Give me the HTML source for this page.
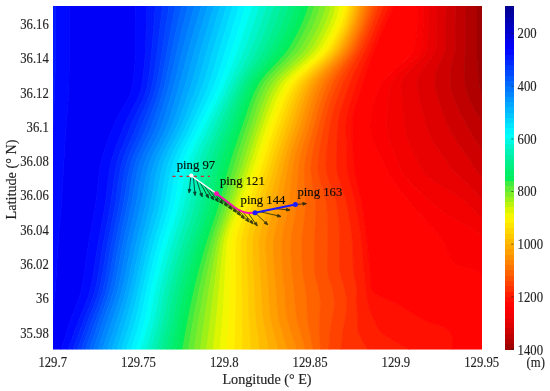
<!DOCTYPE html>
<html><head><meta charset="utf-8"><title>Bathymetry track</title>
<style>
html,body{margin:0;padding:0;background:#fff;}
body{width:550px;height:391px;overflow:hidden;}
svg{display:block;}
text{font-family:"Liberation Serif","Times New Roman",serif;font-size:13.6px;fill:#222;stroke:#222;stroke-width:0.12px;}
</style></head><body>
<svg width="550" height="391" viewBox="0 0 550 391">
<rect width="550" height="391" fill="#fff"/>
<defs><clipPath id="pc"><rect x="53.0" y="6.0" width="429.0" height="343.4"/></clipPath></defs>
<g clip-path="url(#pc)" stroke-width="0.8" stroke-linejoin="round">
<path fill="#0000f9" stroke="#0000f9" d="M135.1,6L135.1,8L135.2,10L135.2,12L135.3,14L135.3,16L135.4,18L135.4,24L135.5,26L135.5,51.9L134.9,63.9L134.8,64.6L134.7,65.9L134.5,67.9L134.4,69.9L134,73.9L133.7,75.9L133.3,79.9L133,81.9L132.8,83.8L132.8,83.9L132.2,87.9L131.7,89.9L131.1,91.8L130.8,92.8L129.6,95.8L128.8,97.6L127.7,99.8L126.8,101.5L126.6,101.8L125.5,103.8L124.8,105.1L124.4,105.8L123.2,107.8L122.8,108.5L122,109.8L120.8,111.8L119.7,113.8L118.8,115.2L118.5,115.8L117.4,117.8L116.9,118.8L116.3,119.8L115.3,121.8L114.9,122.8L114.4,123.8L113.6,125.8L112.9,127.7L112.8,127.8L112,129.8L111.3,131.8L109.7,135.8L109,137.8L108.9,138L108.2,139.8L107.5,141.8L106.9,143.4L106.7,143.8L106,145.8L105.4,147.8L104.9,149.2L104.7,149.7L104.1,151.7L103.4,153.7L102.9,155.7L102.3,157.7L101.3,161.7L100.1,167.7L98.9,175.7L98.9,176L98.7,177.7L98.4,179.7L98,183.7L97.7,185.7L97.1,191.7L96.9,193.6L96.9,193.7L96.7,195.7L96.4,197.7L96.2,199.7L95.9,201.7L95.7,203.7L95.4,205.7L95.1,207.6L94.9,208.9L94.8,209.6L94.4,211.6L93.8,215.6L93.4,217.6L93.1,219.6L92.9,220.5L92.7,221.6L91.9,225.6L91.6,227.6L91.2,229.6L90.9,231.2L90.8,231.6L90.5,233.6L89.7,237.6L89.4,239.6L88.9,242.1L88.7,243.6L88.3,245.6L87.1,253.6L86.9,254.8L86.8,255.6L86.2,259.6L86,261.6L85.7,263.5L85.4,265.5L85.2,267.5L84.9,269.4L84.9,269.5L83.4,279.5L83,281.5L82.9,282.2L82.7,283.5L81.5,289.5L81,291.5L80.9,291.8L80.5,293.5L79.9,295.5L79.2,297.5L78.9,298.4L78.5,299.5L77.1,303.5L76.9,303.8L76.3,305.5L75.5,307.5L74.9,308.9L74.7,309.5L73.1,313.5L73,313.9L72.3,315.5L71.6,317.5L71,319.4L70.9,319.5L70.2,321.4L69.6,323.4L69,325.3L68.9,325.4L68.2,327.4L67.6,329.4L67,331.3L66.9,331.4L66.2,333.4L65,337.4L65,337.5L64.3,339.4L63.1,343.4L63,343.8L62.4,345.4L61.2,349.4L53,349.4L53,317.5L53.2,313.5L53.4,311.5L53.5,309.5L54.9,295.5L55,293.8L55,293.5L55.4,289.5L55.6,285.5L55.8,283.5L56.3,273.5L56.5,271.5L56.9,263.5L57,261.6L57,261.1L57.1,259.6L57.4,253.6L57.6,251.6L57.9,245.6L58.1,243.6L58.3,239.6L58.7,235.6L58.8,233.6L59,231.8L59,231.6L59.8,223.6L59.9,221.6L60.5,215.6L60.6,213.6L60.8,211.6L60.9,209.6L61.1,207.6L61.2,205.7L61.4,203.7L61.6,199.7L61.8,197.7L62,193.7L62.2,191.7L62.9,177.7L63,177.1L63.1,175.7L63.6,165.7L63.8,163.7L64.2,155.7L64.4,153.7L64.6,149.7L64.7,147.8L64.8,145.8L65,143.8L65.1,141.8L65.3,139.8L65.5,135.8L65.7,133.8L66,127.8L66.2,125.8L66.4,121.8L66.6,119.8L66.7,117.8L66.9,115.8L67,115.1L67.1,113.8L67.5,109.8L67.6,107.8L68,103.8L68.1,101.8L68.3,99.8L68.7,91.8L68.8,89.9L68.9,87.9L68.9,83.9L69,81.9L69,75.9L69.1,73.9L69.1,67.9L69.2,65.9L69.2,57.9L69.3,55.9L69.3,18L69.2,16L69.2,6Z"/>
<path fill="#0009ff" stroke="#0009ff" d="M69.2,6L69.2,16L69.3,18L69.3,55.9L69.2,57.9L69.2,65.9L69.1,67.9L69.1,73.9L69,75.9L69,81.9L68.9,83.9L68.9,87.9L68.8,89.9L68.7,91.8L68.3,99.8L68.1,101.8L68,103.8L67.6,107.8L67.5,109.8L67.1,113.8L67,115.1L66.9,115.8L66.7,117.8L66.6,119.8L66.4,121.8L66.2,125.8L66,127.8L65.7,133.8L65.5,135.8L65.3,139.8L65.1,141.8L65,143.8L64.8,145.8L64.7,147.8L64.6,149.7L64.4,153.7L64.2,155.7L63.8,163.7L63.6,165.7L63.1,175.7L63,177.1L62.9,177.7L62.2,191.7L62,193.7L61.8,197.7L61.6,199.7L61.4,203.7L61.2,205.7L61.1,207.6L60.9,209.6L60.8,211.6L60.6,213.6L60.5,215.6L59.9,221.6L59.8,223.6L59,231.6L59,231.8L58.8,233.6L58.7,235.6L58.3,239.6L58.1,243.6L57.9,245.6L57.6,251.6L57.4,253.6L57.1,259.6L57,261.1L57,261.6L56.9,263.5L56.5,271.5L56.3,273.5L55.8,283.5L55.6,285.5L55.4,289.5L55,293.5L55,293.8L54.9,295.5L53.5,309.5L53.4,311.5L53.2,313.5L53,317.5L53,321.4L53,125.8L53.7,111.8L53.7,109.8L54.3,97.8L54.3,95.8L54.5,91.8L54.5,89.9L54.7,85.9L54.7,83.9L54.9,79.9L54.9,77.9L55,76.2L55,75.9L55.1,73.9L55.1,71.9L55.3,67.9L55.3,65.9L55.4,63.9L55.4,61.9L55.5,59.9L55.5,57.9L55.6,55.9L55.6,51.9L55.7,49.9L55.7,6ZM147,6L146.9,8L146.9,12L146.8,14L146.8,16L146.7,18L146.7,20L146.5,24L146.5,26L146.2,32L146.2,34L146.1,35.9L145.9,39.9L145.9,41.9L145.3,53.9L145.1,55.9L145,57.9L144.8,59.9L144.8,60.7L144.7,61.9L144.1,67.9L143.8,69.9L143.2,75.9L142.9,77.9L142.8,78.8L142.6,79.9L142.4,81.9L141.8,85.9L141,89.9L140.8,90.5L140.4,91.8L139.7,93.8L138.9,95.8L138.8,96.2L138.1,97.8L137.2,99.8L134.8,104.6L134.1,105.8L133.1,107.8L132.8,108.3L132,109.8L130.9,111.8L130.8,112L129.8,113.8L128.8,115.7L128.8,115.8L127.7,117.8L126.8,119.7L126.8,119.8L125.8,121.8L124.9,123.8L124.8,124L124.1,125.8L123.4,127.8L122.8,129.2L122.6,129.8L121,133.8L120.8,134.2L120.2,135.8L118.8,139.3L118.7,139.8L117.1,143.8L116.9,144.5L116.4,145.8L115.6,147.8L114.9,149.7L114.9,150L114.2,151.7L113,155.7L112.9,156.1L112.4,157.7L111.8,159.7L111.3,161.7L110.9,163.6L110.8,163.7L110,167.7L109.7,169.7L109.3,171.7L109,173.7L108.9,175L108.8,175.7L108.2,179.7L108,181.7L107.7,183.7L107.3,187.7L107,189.7L106.9,191.3L106.8,191.7L106.6,193.7L106.3,195.7L106.1,197.7L105.8,199.7L105.6,201.7L105,205.7L104.9,206.6L104.7,207.6L104.4,209.6L104,211.6L103.4,215.6L103,217.6L102.9,218.4L102.6,219.6L102.3,221.6L101.5,225.6L101.2,227.6L99.6,235.6L99.3,237.6L98.9,239.6L98.9,239.7L98.5,241.6L98.2,243.6L97.8,245.6L97.5,247.6L97.1,249.6L96.9,251.2L96.8,251.6L95.3,261.6L95,263.5L94.9,264.6L94.8,265.5L94.4,267.5L93.2,275.5L92.9,277.3L92.9,277.5L90.9,287.5L89.4,293.5L88.9,295L88.8,295.5L88,297.5L87.3,299.5L86.9,300.6L86.6,301.5L85,305.5L84.9,305.6L84.1,307.5L83.3,309.5L82.9,310.3L82.4,311.5L81.6,313.5L80.9,315.1L80.8,315.5L79.9,317.5L79.2,319.5L78.9,320.1L78.4,321.4L77,325.4L76.9,325.5L76.2,327.4L75.4,329.4L74.9,330.8L74.7,331.4L73.9,333.4L73.2,335.4L73,336.1L72.4,337.4L71,341.4L69.4,345.4L69,346.6L68.6,347.4L67.8,349.4L61.2,349.4L62.4,345.4L63,343.8L63.1,343.4L64.3,339.4L65,337.5L65,337.4L66.2,333.4L66.9,331.4L67,331.3L67.6,329.4L68.2,327.4L68.9,325.4L69,325.3L69.6,323.4L70.2,321.4L70.9,319.5L71,319.4L71.6,317.5L72.3,315.5L73,313.9L73.1,313.5L74.7,309.5L74.9,308.9L75.5,307.5L76.3,305.5L76.9,303.8L77.1,303.5L78.5,299.5L78.9,298.4L79.2,297.5L79.9,295.5L80.5,293.5L80.9,291.8L81,291.5L81.5,289.5L82.7,283.5L82.9,282.2L83,281.5L83.4,279.5L84.9,269.5L84.9,269.4L85.2,267.5L85.4,265.5L85.7,263.5L86,261.6L86.2,259.6L86.8,255.6L86.9,254.8L87.1,253.6L88.3,245.6L88.7,243.6L88.9,242.1L89.4,239.6L89.7,237.6L90.5,233.6L90.8,231.6L90.9,231.2L91.2,229.6L91.6,227.6L91.9,225.6L92.7,221.6L92.9,220.5L93.1,219.6L93.4,217.6L93.8,215.6L94.4,211.6L94.8,209.6L94.9,208.9L95.1,207.6L95.4,205.7L95.7,203.7L95.9,201.7L96.2,199.7L96.4,197.7L96.7,195.7L96.9,193.7L96.9,193.6L97.1,191.7L97.7,185.7L98,183.7L98.4,179.7L98.7,177.7L98.9,176L98.9,175.7L100.1,167.7L101.3,161.7L102.3,157.7L102.9,155.7L103.4,153.7L104.1,151.7L104.7,149.7L104.9,149.2L105.4,147.8L106,145.8L106.7,143.8L106.9,143.4L107.5,141.8L108.2,139.8L108.9,138L109,137.8L109.7,135.8L111.3,131.8L112,129.8L112.8,127.8L112.9,127.7L113.6,125.8L114.4,123.8L114.9,122.8L115.3,121.8L116.3,119.8L116.9,118.8L117.4,117.8L118.5,115.8L118.8,115.2L119.7,113.8L120.8,111.8L122,109.8L122.8,108.5L123.2,107.8L124.4,105.8L124.8,105.1L125.5,103.8L126.6,101.8L126.8,101.5L127.7,99.8L128.8,97.6L129.6,95.8L130.8,92.8L131.1,91.8L131.7,89.9L132.2,87.9L132.8,83.9L132.8,83.8L133,81.9L133.3,79.9L133.7,75.9L134,73.9L134.4,69.9L134.5,67.9L134.7,65.9L134.8,64.6L134.9,63.9L135.5,51.9L135.5,26L135.4,24L135.4,18L135.3,16L135.3,14L135.2,12L135.2,10L135.1,8L135.1,6Z"/>
<path fill="#0019ff" stroke="#0019ff" d="M55.7,6L55.7,49.9L55.6,51.9L55.6,55.9L55.5,57.9L55.5,59.9L55.4,61.9L55.4,63.9L55.3,65.9L55.3,67.9L55.1,71.9L55.1,73.9L55,75.9L55,76.2L54.9,77.9L54.9,79.9L54.7,83.9L54.7,85.9L54.5,89.9L54.5,91.8L54.3,95.8L54.3,97.8L53.7,109.8L53.7,111.8L53,125.8L53,126L53,6ZM155.3,6L155.1,10L154.9,12L154.8,14L154.8,14.4L154.6,16L154.5,18L154.3,20L154.2,22L154,24L153.9,26L153.7,28L153.6,30L153.2,34L153.1,35.9L152.9,37.9L152.8,39.9L152.4,43.9L152.3,45.9L151.9,49.9L151.8,51.9L151.2,57.9L150.9,59.9L150.8,61.4L150.7,61.9L150.5,63.9L150.2,65.9L150,67.9L149.4,71.9L149.2,73.9L148.9,75.9L148.8,76.6L148.6,77.9L148,81.9L147.6,83.9L147.3,85.9L146.9,87.9L146.8,88.5L146.4,89.9L145.9,91.8L145.2,93.8L144.8,95.1L144.5,95.8L142.9,99.8L142.8,100.1L142,101.8L141.1,103.8L140.8,104.5L140.1,105.8L139.2,107.8L137.2,111.8L136.8,112.7L136.2,113.8L135.3,115.8L134.3,117.8L133.4,119.8L132.8,121.1L132.5,121.8L130.9,125.8L130.8,126.1L130.2,127.8L129.4,129.8L128.8,131.2L128.6,131.8L127,135.8L126.8,136.1L126.1,137.8L125.3,139.8L124.8,140.9L124.5,141.8L122.9,145.8L122.8,145.8L122.1,147.8L121.3,149.7L120.8,151L120.5,151.7L119.1,155.7L117.3,161.7L116.9,163.6L116.8,163.7L116.4,165.7L115.9,167.7L115.6,169.7L115.2,171.7L114.9,173.7L114.9,173.9L114.6,175.7L114.2,177.7L114,179.7L113.4,183.7L113.2,185.7L112.9,187.7L112.9,188.2L112.7,189.7L112.4,191.7L112.2,193.7L111.6,197.7L111.4,199.7L111.1,201.7L110.9,203.1L110.8,203.7L110.5,205.7L110.1,207.6L109.8,209.6L109.4,211.6L109.1,213.6L108.9,214.8L108.7,215.6L108.3,217.6L108,219.6L107.2,223.6L106.9,225.4L106.8,225.6L105.6,231.6L105.3,233.6L103.3,243.6L103,245.6L102.9,246.2L102.6,247.6L102.3,249.6L101.9,251.6L101,257.6L100.9,258.3L100.7,259.6L100.4,261.6L100.1,263.5L99.2,269.5L98.9,271.2L98.8,271.5L98.2,275.5L97.4,279.5L97.1,281.5L96.9,282.3L96.7,283.5L96.2,285.5L95.8,287.5L95.3,289.5L94.9,291.2L94.8,291.5L93,297.5L92.9,297.6L92.2,299.5L91.5,301.5L90.9,302.9L90.7,303.5L89.1,307.5L88.9,307.9L88.2,309.5L87.4,311.5L86.9,312.6L86.6,313.5L85,317.5L84.9,317.6L83.5,321.4L82.7,323.4L82,325.4L81.2,327.4L80.9,328.3L80.5,329.4L79.7,331.4L79,333.4L78.9,333.6L78.3,335.4L76.9,338.9L76.8,339.4L75.2,343.4L74.9,344.1L74.4,345.4L73.7,347.4L73,349.2L72.9,349.4L67.8,349.4L68.6,347.4L69,346.6L69.4,345.4L71,341.4L72.4,337.4L73,336.1L73.2,335.4L73.9,333.4L74.7,331.4L74.9,330.8L75.4,329.4L76.2,327.4L76.9,325.5L77,325.4L78.4,321.4L78.9,320.1L79.2,319.5L79.9,317.5L80.8,315.5L80.9,315.1L81.6,313.5L82.4,311.5L82.9,310.3L83.3,309.5L84.1,307.5L84.9,305.6L85,305.5L86.6,301.5L86.9,300.6L87.3,299.5L88,297.5L88.8,295.5L88.9,295L89.4,293.5L90.9,287.5L92.9,277.5L92.9,277.3L93.2,275.5L94.4,267.5L94.8,265.5L94.9,264.6L95,263.5L95.3,261.6L96.8,251.6L96.9,251.2L97.1,249.6L97.5,247.6L97.8,245.6L98.2,243.6L98.5,241.6L98.9,239.7L98.9,239.6L99.3,237.6L99.6,235.6L101.2,227.6L101.5,225.6L102.3,221.6L102.6,219.6L102.9,218.4L103,217.6L103.4,215.6L104,211.6L104.4,209.6L104.7,207.6L104.9,206.6L105,205.7L105.6,201.7L105.8,199.7L106.1,197.7L106.3,195.7L106.6,193.7L106.8,191.7L106.9,191.3L107,189.7L107.3,187.7L107.7,183.7L108,181.7L108.2,179.7L108.8,175.7L108.9,175L109,173.7L109.3,171.7L109.7,169.7L110,167.7L110.8,163.7L110.9,163.6L111.3,161.7L111.8,159.7L112.4,157.7L112.9,156.1L113,155.7L114.2,151.7L114.9,150L114.9,149.7L115.6,147.8L116.4,145.8L116.9,144.5L117.1,143.8L118.7,139.8L118.8,139.3L120.2,135.8L120.8,134.2L121,133.8L122.6,129.8L122.8,129.2L123.4,127.8L124.1,125.8L124.8,124L124.9,123.8L125.8,121.8L126.8,119.8L126.8,119.7L127.7,117.8L128.8,115.8L128.8,115.7L129.8,113.8L130.8,112L130.9,111.8L132,109.8L132.8,108.3L133.1,107.8L134.1,105.8L134.8,104.6L137.2,99.8L138.1,97.8L138.8,96.2L138.9,95.8L139.7,93.8L140.4,91.8L140.8,90.5L141,89.9L141.8,85.9L142.4,81.9L142.6,79.9L142.8,78.8L142.9,77.9L143.2,75.9L143.8,69.9L144.1,67.9L144.7,61.9L144.8,60.7L144.8,59.9L145,57.9L145.1,55.9L145.3,53.9L145.9,41.9L145.9,39.9L146.1,35.9L146.2,34L146.2,32L146.5,26L146.5,24L146.7,20L146.7,18L146.8,16L146.8,14L146.9,12L146.9,8L147,6Z"/>
<path fill="#0029ff" stroke="#0029ff" d="M162.5,6L162.1,10L161.8,12L161.4,16L161.1,18L160.9,20L160.7,21.4L160.7,22L160.4,24L160,28L159.7,30L159.3,34L159,35.9L158.8,37.9L158.8,38.3L158.6,39.9L158.3,41.9L158.1,43.9L157.8,45.9L157.4,49.9L157.1,51.9L156.9,53.9L156.8,55L156.6,55.9L156.4,57.9L155.5,63.9L155.3,65.9L155,67.9L154.8,69.3L154.7,69.9L154.4,71.9L154,73.9L153.4,77.9L153,79.9L152.8,81.4L151.1,89.9L150.8,90.9L150.5,91.8L149.9,93.8L149.2,95.8L148.8,97L148.5,97.8L146.9,101.8L146.8,102.1L146,103.8L144.8,106.8L144.3,107.8L143.4,109.8L142.8,111.2L142.5,111.8L141.6,113.8L140.8,115.7L140.7,115.8L139.9,117.8L139,119.8L136.6,125.8L135.9,127.8L135.1,129.8L134.8,130.5L134.3,131.8L133.5,133.8L132.8,135.3L131.8,137.8L130.9,139.8L130.8,140L130,141.8L129.2,143.8L128.8,144.6L128.3,145.8L127.5,147.8L126.8,149.3L126.6,149.7L125.8,151.7L125.1,153.7L124.8,154.4L124.3,155.7L123.6,157.7L123,159.7L122.8,160.2L122.4,161.7L121.8,163.7L121.3,165.7L120.9,167.7L120.8,168.1L120.5,169.7L119.7,173.7L119.1,177.7L118.8,179.3L118.8,179.7L117.6,187.7L117.4,189.7L117.1,191.7L116.9,193.5L116.8,193.7L116.5,195.7L116.3,197.7L115.7,201.7L115.3,203.7L115,205.7L114.9,206.6L113.9,211.6L113.6,213.6L113.2,215.6L112.9,217.3L112.8,217.6L111.2,225.6L110.9,227.4L110.8,227.6L109.2,235.6L108.9,237.4L108.8,237.6L108,241.6L107.7,243.6L106.9,247.6L106.9,247.8L106.6,249.6L106.2,251.6L105.9,253.6L105.5,255.6L104.9,259.6L104.9,259.7L104.3,263.5L103.9,265.5L103,271.5L102.9,272.1L102.6,273.5L102.3,275.5L101.5,279.5L101.2,281.5L100.9,282.8L100.7,283.5L99.9,287.5L98.9,291.5L97.7,295.5L97,297.5L96.9,297.8L96.3,299.5L95.6,301.5L94.9,303.2L94.8,303.5L93.2,307.5L92.9,308.2L92.4,309.5L91.6,311.5L90.9,313.1L90.8,313.5L89.2,317.5L88.9,318.2L88.4,319.5L87.7,321.4L87,323.4L86.9,323.6L86.2,325.4L85.5,327.4L84.9,329L84.8,329.4L84,331.4L83.3,333.4L82.9,334.4L82.6,335.4L81.8,337.4L81.1,339.4L80.9,339.8L80.3,341.4L79.6,343.4L78.9,345.1L78.8,345.4L78,347.4L77.3,349.4L72.9,349.4L73,349.2L73.7,347.4L74.4,345.4L74.9,344.1L75.2,343.4L76.8,339.4L76.9,338.9L78.3,335.4L78.9,333.6L79,333.4L79.7,331.4L80.5,329.4L80.9,328.3L81.2,327.4L82,325.4L82.7,323.4L83.5,321.4L84.9,317.6L85,317.5L86.6,313.5L86.9,312.6L87.4,311.5L88.2,309.5L88.9,307.9L89.1,307.5L90.7,303.5L90.9,302.9L91.5,301.5L92.2,299.5L92.9,297.6L93,297.5L94.8,291.5L94.9,291.2L95.3,289.5L95.8,287.5L96.2,285.5L96.7,283.5L96.9,282.3L97.1,281.5L97.4,279.5L98.2,275.5L98.8,271.5L98.9,271.2L99.2,269.5L100.1,263.5L100.4,261.6L100.7,259.6L100.9,258.3L101,257.6L101.9,251.6L102.3,249.6L102.6,247.6L102.9,246.2L103,245.6L103.3,243.6L105.3,233.6L105.6,231.6L106.8,225.6L106.9,225.4L107.2,223.6L108,219.6L108.3,217.6L108.7,215.6L108.9,214.8L109.1,213.6L109.4,211.6L109.8,209.6L110.1,207.6L110.5,205.7L110.8,203.7L110.9,203.1L111.1,201.7L111.4,199.7L111.6,197.7L112.2,193.7L112.4,191.7L112.7,189.7L112.9,188.2L112.9,187.7L113.2,185.7L113.4,183.7L114,179.7L114.2,177.7L114.6,175.7L114.9,173.9L114.9,173.7L115.2,171.7L115.6,169.7L115.9,167.7L116.4,165.7L116.8,163.7L116.9,163.6L117.3,161.7L119.1,155.7L120.5,151.7L120.8,151L121.3,149.7L122.1,147.8L122.8,145.8L122.9,145.8L124.5,141.8L124.8,140.9L125.3,139.8L126.1,137.8L126.8,136.1L127,135.8L128.6,131.8L128.8,131.2L129.4,129.8L130.2,127.8L130.8,126.1L130.9,125.8L132.5,121.8L132.8,121.1L133.4,119.8L134.3,117.8L135.3,115.8L136.2,113.8L136.8,112.7L137.2,111.8L139.2,107.8L140.1,105.8L140.8,104.5L141.1,103.8L142,101.8L142.8,100.1L142.9,99.8L144.5,95.8L144.8,95.1L145.2,93.8L145.9,91.8L146.4,89.9L146.8,88.5L146.9,87.9L147.3,85.9L147.6,83.9L148,81.9L148.6,77.9L148.8,76.6L148.9,75.9L149.2,73.9L149.4,71.9L150,67.9L150.2,65.9L150.5,63.9L150.7,61.9L150.8,61.4L150.9,59.9L151.2,57.9L151.8,51.9L151.9,49.9L152.3,45.9L152.4,43.9L152.8,39.9L152.9,37.9L153.1,35.9L153.2,34L153.6,30L153.7,28L153.9,26L154,24L154.2,22L154.3,20L154.5,18L154.6,16L154.8,14.4L154.8,14L154.9,12L155.1,10L155.3,6Z"/>
<path fill="#0039ff" stroke="#0039ff" d="M169.1,6L168.8,8L168.7,8.6L168.5,10L167,20L166.7,21.5L166.7,22L166.3,24L164.8,34L164.7,34.4L164.5,35.9L163,45.9L162.7,47.6L162.7,47.9L160.9,59.9L160.7,60.6L160.5,61.9L159.6,67.9L159.2,69.9L158.9,71.9L158.8,72.6L158.5,73.9L158.2,75.9L157,81.9L156.8,83.2L156.6,83.9L155.8,87.9L155.3,89.9L154.8,91.8L154.2,93.8L152.8,97.8L152.8,98L152.1,99.8L151.4,101.8L150.8,103.4L150.6,103.8L149,107.8L148.8,108.4L148.2,109.8L146.6,113.8L145.7,115.8L144.9,117.8L144.8,118.2L144.1,119.8L143.4,121.8L141.8,125.8L141.1,127.8L140.8,128.6L140.3,129.8L139.5,131.8L138.8,133.5L138.7,133.8L136.9,137.8L136.8,138L136,139.8L135.1,141.8L134.8,142.4L134.2,143.8L133.3,145.8L132.8,146.8L132.4,147.8L131.5,149.7L130.8,151.4L130.7,151.7L129.1,155.7L128.8,156.4L128.3,157.7L127.6,159.7L127,161.7L126.8,162.3L126.4,163.7L125.4,167.7L125,169.7L124.8,170.6L124.6,171.7L123.8,175.7L122.9,181.7L122.8,181.8L122.5,183.7L122.2,185.7L122,187.7L121.1,193.7L120.8,195.3L120.8,195.7L119.9,201.7L119.5,203.7L119.2,205.7L118.8,207.4L118.8,207.6L118,211.6L117.7,213.6L116.9,217.6L116.9,217.7L116.5,219.6L115.7,223.6L115.2,225.6L114.9,227.5L114.8,227.6L113.2,235.6L112.9,237.3L112.8,237.6L111.2,245.6L110.9,247.4L110.8,247.6L110.5,249.6L110.1,251.6L109.8,253.6L109.4,255.6L109.1,257.6L108.9,258.9L108.8,259.6L108.4,261.6L108.1,263.5L107.8,265.5L107.4,267.5L107.1,269.5L106.9,270.9L106.8,271.5L106.4,273.5L106.1,275.5L104.9,281.5L104.9,281.6L104.5,283.5L104,285.5L103.6,287.5L103.1,289.5L102.9,290.4L102.6,291.5L101.4,295.5L100.9,297L100.7,297.5L99.3,301.5L98.9,302.6L98.6,303.5L97,307.5L96.9,307.7L96.2,309.5L95.4,311.5L94.9,312.7L94.6,313.5L93.8,315.5L93.1,317.5L92.9,317.9L92.3,319.5L90.9,323.3L90.9,323.4L90.1,325.4L89.4,327.4L88.9,328.9L88.7,329.4L87.3,333.4L86.5,335.4L85.1,339.4L84.9,339.8L84.3,341.4L83.6,343.4L82.9,345.2L82.9,345.4L82.1,347.4L81.4,349.4L77.3,349.4L78,347.4L78.8,345.4L78.9,345.1L79.6,343.4L80.3,341.4L80.9,339.8L81.1,339.4L81.8,337.4L82.6,335.4L82.9,334.4L83.3,333.4L84,331.4L84.8,329.4L84.9,329L85.5,327.4L86.2,325.4L86.9,323.6L87,323.4L87.7,321.4L88.4,319.5L88.9,318.2L89.2,317.5L90.8,313.5L90.9,313.1L91.6,311.5L92.4,309.5L92.9,308.2L93.2,307.5L94.8,303.5L94.9,303.2L95.6,301.5L96.3,299.5L96.9,297.8L97,297.5L97.7,295.5L98.9,291.5L99.9,287.5L100.7,283.5L100.9,282.8L101.2,281.5L101.5,279.5L102.3,275.5L102.6,273.5L102.9,272.1L103,271.5L103.9,265.5L104.3,263.5L104.9,259.7L104.9,259.6L105.5,255.6L105.9,253.6L106.2,251.6L106.6,249.6L106.9,247.8L106.9,247.6L107.7,243.6L108,241.6L108.8,237.6L108.9,237.4L109.2,235.6L110.8,227.6L110.9,227.4L111.2,225.6L112.8,217.6L112.9,217.3L113.2,215.6L113.6,213.6L113.9,211.6L114.9,206.6L115,205.7L115.3,203.7L115.7,201.7L116.3,197.7L116.5,195.7L116.8,193.7L116.9,193.5L117.1,191.7L117.4,189.7L117.6,187.7L118.8,179.7L118.8,179.3L119.1,177.7L119.7,173.7L120.5,169.7L120.8,168.1L120.9,167.7L121.3,165.7L121.8,163.7L122.4,161.7L122.8,160.2L123,159.7L123.6,157.7L124.3,155.7L124.8,154.4L125.1,153.7L125.8,151.7L126.6,149.7L126.8,149.3L127.5,147.8L128.3,145.8L128.8,144.6L129.2,143.8L130,141.8L130.8,140L130.9,139.8L131.8,137.8L132.8,135.3L133.5,133.8L134.3,131.8L134.8,130.5L135.1,129.8L135.9,127.8L136.6,125.8L139,119.8L139.9,117.8L140.7,115.8L140.8,115.7L141.6,113.8L142.5,111.8L142.8,111.2L143.4,109.8L144.3,107.8L144.8,106.8L146,103.8L146.8,102.1L146.9,101.8L148.5,97.8L148.8,97L149.2,95.8L149.9,93.8L150.5,91.8L150.8,90.9L151.1,89.9L152.8,81.4L153,79.9L153.4,77.9L154,73.9L154.4,71.9L154.7,69.9L154.8,69.3L155,67.9L155.3,65.9L155.5,63.9L156.4,57.9L156.6,55.9L156.8,55L156.9,53.9L157.1,51.9L157.4,49.9L157.8,45.9L158.1,43.9L158.3,41.9L158.6,39.9L158.8,38.3L158.8,37.9L159,35.9L159.3,34L159.7,30L160,28L160.4,24L160.7,22L160.7,21.4L160.9,20L161.1,18L161.4,16L161.8,12L162.1,10L162.5,6Z"/>
<path fill="#0048ff" stroke="#0048ff" d="M175.5,6L175.1,8L174.7,9.9L174.7,10L173.5,16L173.2,18L172.8,20L172.7,20.3L172.4,22L171.6,26L171.3,28L170.9,30L170.7,30.8L170.5,32L170.1,34L169.8,35.9L169,39.9L168.7,41.6L168.7,41.9L168.3,43.9L168,45.9L167.2,49.9L166.9,51.9L166.7,52.8L166.5,53.9L166.2,55.9L165.8,57.9L165.5,59.9L164.7,63.9L164.4,65.9L163.2,71.9L162.9,73.9L162.7,74.5L162.5,75.9L161.7,79.9L161.2,81.9L160.8,83.9L160.7,84.1L160.4,85.9L159.4,89.9L158.9,91.8L158.8,92.2L158.3,93.8L157.7,95.8L157,97.8L156.8,98.7L156.4,99.8L155,103.8L154.8,104.5L154.3,105.8L153.5,107.8L152.8,109.8L152.8,109.9L152,111.8L151.3,113.8L150.8,115.2L150.5,115.8L149.8,117.8L149,119.8L148.8,120.5L148.3,121.8L147.6,123.8L146.8,125.8L146.8,125.9L146.1,127.8L145.3,129.8L144.8,131L144.5,131.8L143.6,133.8L142.8,135.6L142.7,135.8L140.9,139.8L140.8,139.9L139.9,141.8L139,143.8L138.8,144.1L138,145.8L137.1,147.8L136.8,148.4L136.2,149.7L135.3,151.7L134.8,152.9L134.4,153.7L132.8,157.7L132.8,157.8L132.1,159.7L131.4,161.7L130.8,163.7L129.3,169.7L128.9,171.7L128.8,172.1L128.5,173.7L127.7,177.7L127.1,181.7L126.8,183.1L126.7,183.7L124.9,195.7L124.8,195.9L124.6,197.7L124.2,199.7L123.9,201.7L123.5,203.7L123.2,205.7L122.8,207.4L122.8,207.6L121.2,215.6L120.8,217.4L120.8,217.6L120,221.6L119.5,223.6L119.1,225.6L118.8,226.9L118.7,227.6L117.9,231.6L117.4,233.6L117,235.6L116.9,236.4L116.6,237.6L115,245.6L114.9,246.2L114.6,247.6L113.8,251.6L113.5,253.6L113.1,255.6L112.9,257.2L112.8,257.6L112.5,259.6L112.1,261.6L111.8,263.5L111.4,265.5L111.1,267.5L110.9,268.9L110.8,269.5L110,273.5L109.7,275.5L108.9,279.5L108.9,279.7L108.5,281.5L108.1,283.5L107.6,285.5L107.2,287.5L106.2,291.5L105,295.5L104.9,295.8L104.3,297.5L102.9,301.5L102.9,301.6L102.2,303.5L101.4,305.5L100.9,306.8L100.6,307.5L99.9,309.5L99.1,311.5L98.9,311.9L98.3,313.5L97.5,315.5L96.9,317.2L96.8,317.5L96.1,319.5L95.3,321.4L94.9,322.7L94.6,323.4L93.2,327.4L92.9,328.3L92.5,329.4L91.1,333.4L90.9,333.9L90.4,335.4L89.7,337.4L88.9,339.4L88.9,339.5L88.2,341.4L87.5,343.4L86.9,345L86.8,345.4L86.1,347.4L85.3,349.4L81.4,349.4L82.1,347.4L82.9,345.4L82.9,345.2L83.6,343.4L84.3,341.4L84.9,339.8L85.1,339.4L86.5,335.4L87.3,333.4L88.7,329.4L88.9,328.9L89.4,327.4L90.1,325.4L90.9,323.4L90.9,323.3L92.3,319.5L92.9,317.9L93.1,317.5L93.8,315.5L94.6,313.5L94.9,312.7L95.4,311.5L96.2,309.5L96.9,307.7L97,307.5L98.6,303.5L98.9,302.6L99.3,301.5L100.7,297.5L100.9,297L101.4,295.5L102.6,291.5L102.9,290.4L103.1,289.5L103.6,287.5L104,285.5L104.5,283.5L104.9,281.6L104.9,281.5L106.1,275.5L106.4,273.5L106.8,271.5L106.9,270.9L107.1,269.5L107.4,267.5L107.8,265.5L108.1,263.5L108.4,261.6L108.8,259.6L108.9,258.9L109.1,257.6L109.4,255.6L109.8,253.6L110.1,251.6L110.5,249.6L110.8,247.6L110.9,247.4L111.2,245.6L112.8,237.6L112.9,237.3L113.2,235.6L114.8,227.6L114.9,227.5L115.2,225.6L115.7,223.6L116.5,219.6L116.9,217.7L116.9,217.6L117.7,213.6L118,211.6L118.8,207.6L118.8,207.4L119.2,205.7L119.5,203.7L119.9,201.7L120.8,195.7L120.8,195.3L121.1,193.7L122,187.7L122.2,185.7L122.5,183.7L122.8,181.8L122.9,181.7L123.8,175.7L124.6,171.7L124.8,170.6L125,169.7L125.4,167.7L126.4,163.7L126.8,162.3L127,161.7L127.6,159.7L128.3,157.7L128.8,156.4L129.1,155.7L130.7,151.7L130.8,151.4L131.5,149.7L132.4,147.8L132.8,146.8L133.3,145.8L134.2,143.8L134.8,142.4L135.1,141.8L136,139.8L136.8,138L136.9,137.8L138.7,133.8L138.8,133.5L139.5,131.8L140.3,129.8L140.8,128.6L141.1,127.8L141.8,125.8L143.4,121.8L144.1,119.8L144.8,118.2L144.9,117.8L145.7,115.8L146.6,113.8L148.2,109.8L148.8,108.4L149,107.8L150.6,103.8L150.8,103.4L151.4,101.8L152.1,99.8L152.8,98L152.8,97.8L154.2,93.8L154.8,91.8L155.3,89.9L155.8,87.9L156.6,83.9L156.8,83.2L157,81.9L158.2,75.9L158.5,73.9L158.8,72.6L158.9,71.9L159.2,69.9L159.6,67.9L160.5,61.9L160.7,60.6L160.9,59.9L162.7,47.9L162.7,47.6L163,45.9L164.5,35.9L164.7,34.4L164.8,34L166.3,24L166.7,22L166.7,21.5L167,20L168.5,10L168.7,8.6L168.8,8L169.1,6Z"/>
<path fill="#0058ff" stroke="#0058ff" d="M181.7,6L181.3,8L180.7,10.4L180.4,12L179.4,16L179,18L178.7,19.3L178.5,20L177.7,24L177.2,26L176.8,28L176.7,28.3L176.3,30L175.5,34L175,35.9L174.7,37.5L174.6,37.9L173.8,41.9L173.3,43.9L170.9,55.9L170.7,56.7L170.5,57.9L168.9,65.9L168.7,66.6L168.5,67.9L168.1,69.9L167.6,71.9L166.8,75.9L166.7,76.1L166.4,77.9L165.9,79.9L165.5,81.9L165,83.9L164.7,85L164.5,85.9L164.1,87.9L163.5,89.9L163,91.8L162.4,93.8L161.9,95.8L161.3,97.8L160.7,99.5L160.6,99.8L159.4,103.8L158.8,105.7L158.7,105.8L158,107.8L157.4,109.8L156.8,111.5L156.7,111.8L155.3,115.8L154.8,117.2L154.6,117.8L153.9,119.8L153.1,121.8L152.8,122.9L152.4,123.8L151,127.8L149.4,131.8L148.8,133.1L148.5,133.8L147.6,135.8L146.6,137.8L145.7,139.8L144.8,141.5L144.7,141.8L142.7,145.8L141.8,147.8L140.8,149.7L140.8,149.8L139.9,151.7L139,153.7L138.8,154.1L138.1,155.7L137.3,157.7L136.8,159L136.5,159.7L135.8,161.7L135.2,163.7L134.8,165L134.6,165.7L133.6,169.7L133.2,171.7L132.8,173.4L132.8,173.7L131.2,181.7L130.9,183.7L130.8,184.2L130.6,185.7L130.2,187.7L129,195.7L128.8,196.4L128.6,197.7L128.3,199.7L127.9,201.7L127.6,203.7L127.2,205.7L126.8,207.4L126.8,207.6L125.6,213.6L125.1,215.6L123.9,221.6L123.4,223.6L123,225.6L122.8,226.3L122.6,227.6L122.1,229.6L121.3,233.6L120.8,235.5L120.8,235.6L119.2,243.6L118.8,245.1L118.3,247.6L118,249.6L117.2,253.6L116.9,255.5L116.8,255.6L116.5,257.6L116.1,259.6L115.8,261.6L115.5,263.5L115.1,265.5L114.9,266.9L114.8,267.5L114,271.5L113.7,273.5L112.9,277.5L112.9,277.7L112.5,279.5L111.7,283.5L111.2,285.5L110.9,286.9L110.7,287.5L109.7,291.5L109.1,293.5L108.9,294.4L108.5,295.5L107.9,297.5L107.2,299.5L106.9,300.4L106.5,301.5L105.8,303.5L105,305.5L104.9,305.9L104.3,307.5L103.5,309.5L102.9,311.2L102.8,311.5L102,313.5L101.3,315.5L100.5,317.5L99.8,319.5L99.1,321.4L98.9,322.1L98.4,323.4L97,327.4L96.9,327.8L96.3,329.4L94.9,333.4L94.9,333.5L94.2,335.4L93.5,337.4L92.9,339.2L92.8,339.4L91.4,343.4L90.9,344.8L90.7,345.4L89.3,349.4L85.3,349.4L86.1,347.4L86.8,345.4L86.9,345L87.5,343.4L88.2,341.4L88.9,339.5L88.9,339.4L89.7,337.4L90.4,335.4L90.9,333.9L91.1,333.4L92.5,329.4L92.9,328.3L93.2,327.4L94.6,323.4L94.9,322.7L95.3,321.4L96.1,319.5L96.8,317.5L96.9,317.2L97.5,315.5L98.3,313.5L98.9,311.9L99.1,311.5L99.9,309.5L100.6,307.5L100.9,306.8L101.4,305.5L102.2,303.5L102.9,301.6L102.9,301.5L104.3,297.5L104.9,295.8L105,295.5L106.2,291.5L107.2,287.5L107.6,285.5L108.1,283.5L108.5,281.5L108.9,279.7L108.9,279.5L109.7,275.5L110,273.5L110.8,269.5L110.9,268.9L111.1,267.5L111.4,265.5L111.8,263.5L112.1,261.6L112.5,259.6L112.8,257.6L112.9,257.2L113.1,255.6L113.5,253.6L113.8,251.6L114.6,247.6L114.9,246.2L115,245.6L116.6,237.6L116.9,236.4L117,235.6L117.4,233.6L117.9,231.6L118.7,227.6L118.8,226.9L119.1,225.6L119.5,223.6L120,221.6L120.8,217.6L120.8,217.4L121.2,215.6L122.8,207.6L122.8,207.4L123.2,205.7L123.5,203.7L123.9,201.7L124.2,199.7L124.6,197.7L124.8,195.9L124.9,195.7L126.7,183.7L126.8,183.1L127.1,181.7L127.7,177.7L128.5,173.7L128.8,172.1L128.9,171.7L129.3,169.7L130.8,163.7L131.4,161.7L132.1,159.7L132.8,157.8L132.8,157.7L134.4,153.7L134.8,152.9L135.3,151.7L136.2,149.7L136.8,148.4L137.1,147.8L138,145.8L138.8,144.1L139,143.8L139.9,141.8L140.8,139.9L140.9,139.8L142.7,135.8L142.8,135.6L143.6,133.8L144.5,131.8L144.8,131L145.3,129.8L146.1,127.8L146.8,125.9L146.8,125.8L147.6,123.8L148.3,121.8L148.8,120.5L149,119.8L149.8,117.8L150.5,115.8L150.8,115.2L151.3,113.8L152,111.8L152.8,109.9L152.8,109.8L153.5,107.8L154.3,105.8L154.8,104.5L155,103.8L156.4,99.8L156.8,98.7L157,97.8L157.7,95.8L158.3,93.8L158.8,92.2L158.9,91.8L159.4,89.9L160.4,85.9L160.7,84.1L160.8,83.9L161.2,81.9L161.7,79.9L162.5,75.9L162.7,74.5L162.9,73.9L163.2,71.9L164.4,65.9L164.7,63.9L165.5,59.9L165.8,57.9L166.2,55.9L166.5,53.9L166.7,52.8L166.9,51.9L167.2,49.9L168,45.9L168.3,43.9L168.7,41.9L168.7,41.6L169,39.9L169.8,35.9L170.1,34L170.5,32L170.7,30.8L170.9,30L171.3,28L171.6,26L172.4,22L172.7,20.3L172.8,20L173.2,18L173.5,16L174.7,10L174.7,9.9L175.1,8L175.5,6Z"/>
<path fill="#0068ff" stroke="#0068ff" d="M188.1,6L187.5,8L185,18L184.7,19L184.5,20L184,22L183.4,24L182.9,26L182.7,27L182.4,28L182,30L181,34L180.7,35L180.5,35.9L179,41.9L178.7,43.3L178.6,43.9L177.6,47.9L177.2,49.9L176.7,51.9L176.3,53.9L175.8,55.9L175.4,57.9L174.9,59.9L174.7,60.8L174.5,61.9L174,63.9L173.2,67.9L172.7,69.8L172.7,69.9L172.3,71.9L171.3,75.9L170.9,77.9L170.7,78.4L170.4,79.9L168.9,85.9L168.7,86.6L168.4,87.9L167.9,89.9L167.3,91.8L166.8,93.8L166.7,94L166.2,95.8L165.7,97.8L165.1,99.8L164.7,101L164.5,101.8L163.3,105.8L162.7,107.6L162.7,107.8L162,109.8L161.4,111.8L160.7,113.8L160.1,115.8L159.4,117.8L158.8,119.8L157.4,123.8L156.8,125.5L156.7,125.8L155.1,129.8L154.8,130.6L154.3,131.8L153.4,133.8L152.8,135.1L152.4,135.8L151.5,137.8L147.5,145.8L146.8,147.1L146.5,147.8L145.5,149.7L144.8,151.2L144.5,151.7L143.6,153.7L142.8,155.5L142.7,155.7L141.1,159.7L140.8,160.4L140.3,161.7L138.5,167.7L138.1,169.7L137.1,173.7L136.8,175.3L136.7,175.7L135.9,179.7L135.6,181.7L135.2,183.7L134.9,185.7L134.8,186L134.5,187.7L133.9,191.7L133.5,193.7L133.2,195.7L132.8,197.7L132.5,199.7L131.3,205.7L130.9,207.6L129.7,213.6L129.2,215.6L128.8,217.4L128.8,217.6L128.3,219.6L127.5,223.6L126.8,226.4L126.6,227.6L126.1,229.6L125.7,231.6L125.2,233.6L124.8,235.4L124.8,235.6L124.4,237.6L123.9,239.6L123.1,243.6L122.8,244.6L121.4,251.6L121.1,253.6L120.8,254.7L120.7,255.6L120.3,257.6L120,259.6L119.6,261.6L119.2,263.5L118.9,265.5L118.8,265.7L118.5,267.5L118.2,269.5L117,275.5L116.9,276.4L116.6,277.5L115.4,283.5L114.9,285.5L114.9,285.6L114.4,287.5L113.4,291.5L112.9,293.4L112.8,293.5L111.6,297.5L110.9,299.5L110.9,299.7L110.2,301.5L109.5,303.5L108.9,305.3L108.8,305.5L108.1,307.5L107.3,309.5L106.9,310.7L106.6,311.5L105.9,313.5L105.1,315.5L104.9,316.1L104.4,317.5L103.7,319.5L103,321.4L102.9,321.8L102.3,323.4L101.7,325.4L101,327.4L100.9,327.6L100.3,329.4L97.5,337.4L96.9,339.2L96.8,339.4L96.2,341.4L95.5,343.4L94.9,345L94.8,345.4L93.4,349.4L89.3,349.4L90.7,345.4L90.9,344.8L91.4,343.4L92.8,339.4L92.9,339.2L93.5,337.4L94.2,335.4L94.9,333.5L94.9,333.4L96.3,329.4L96.9,327.8L97,327.4L98.4,323.4L98.9,322.1L99.1,321.4L99.8,319.5L100.5,317.5L101.3,315.5L102,313.5L102.8,311.5L102.9,311.2L103.5,309.5L104.3,307.5L104.9,305.9L105,305.5L105.8,303.5L106.5,301.5L106.9,300.4L107.2,299.5L107.9,297.5L108.5,295.5L108.9,294.4L109.1,293.5L109.7,291.5L110.7,287.5L110.9,286.9L111.2,285.5L111.7,283.5L112.5,279.5L112.9,277.7L112.9,277.5L113.7,273.5L114,271.5L114.8,267.5L114.9,266.9L115.1,265.5L115.5,263.5L115.8,261.6L116.1,259.6L116.5,257.6L116.8,255.6L116.9,255.5L117.2,253.6L118,249.6L118.3,247.6L118.8,245.1L119.2,243.6L120.8,235.6L120.8,235.5L121.3,233.6L122.1,229.6L122.6,227.6L122.8,226.3L123,225.6L123.4,223.6L123.9,221.6L125.1,215.6L125.6,213.6L126.8,207.6L126.8,207.4L127.2,205.7L127.6,203.7L127.9,201.7L128.3,199.7L128.6,197.7L128.8,196.4L129,195.7L130.2,187.7L130.6,185.7L130.8,184.2L130.9,183.7L131.2,181.7L132.8,173.7L132.8,173.4L133.2,171.7L133.6,169.7L134.6,165.7L134.8,165L135.2,163.7L135.8,161.7L136.5,159.7L136.8,159L137.3,157.7L138.1,155.7L138.8,154.1L139,153.7L139.9,151.7L140.8,149.8L140.8,149.7L141.8,147.8L142.7,145.8L144.7,141.8L144.8,141.5L145.7,139.8L146.6,137.8L147.6,135.8L148.5,133.8L148.8,133.1L149.4,131.8L151,127.8L152.4,123.8L152.8,122.9L153.1,121.8L153.9,119.8L154.6,117.8L154.8,117.2L155.3,115.8L156.7,111.8L156.8,111.5L157.4,109.8L158,107.8L158.7,105.8L158.8,105.7L159.4,103.8L160.6,99.8L160.7,99.5L161.3,97.8L161.9,95.8L162.4,93.8L163,91.8L163.5,89.9L164.1,87.9L164.5,85.9L164.7,85L165,83.9L165.5,81.9L165.9,79.9L166.4,77.9L166.7,76.1L166.8,75.9L167.6,71.9L168.1,69.9L168.5,67.9L168.7,66.6L168.9,65.9L170.5,57.9L170.7,56.7L170.9,55.9L173.3,43.9L173.8,41.9L174.6,37.9L174.7,37.5L175,35.9L175.5,34L176.3,30L176.7,28.3L176.8,28L177.2,26L177.7,24L178.5,20L178.7,19.3L179,18L179.4,16L180.4,12L180.7,10.4L181.3,8L181.7,6Z"/>
<path fill="#0077ff" stroke="#0077ff" d="M194.7,6L193.5,10L193,12L191.8,16L191.3,18L190.7,20L190.7,20.1L190.2,22L189.6,24L189.1,26L188.7,27.3L188.5,28L188,30L187.4,32L186.9,34L186.7,34.7L186.4,35.9L185.8,37.9L184.8,41.9L184.7,42.2L184.2,43.9L180.7,57.9L180.7,58L180.2,59.9L179.8,61.9L177.8,69.9L177.4,71.9L176.9,73.9L176.7,74.5L176.4,75.9L175.4,79.9L174.8,81.9L173.8,85.9L173.2,87.9L172.7,89.7L172.7,89.9L172.2,91.8L171.6,93.8L171.1,95.8L170.7,97L170,99.8L168.8,103.8L168.7,104.1L168.2,105.8L165.2,115.8L164.7,117.2L164.5,117.8L163.9,119.8L163.2,121.8L162.7,123.1L162.5,123.8L161.1,127.8L160.7,128.6L160.3,129.8L159.4,131.8L158.8,133.2L157.5,135.8L156.8,137.3L156.5,137.8L155.5,139.8L154.8,141.3L154.5,141.8L153.5,143.8L152.8,145.1L152.5,145.8L151.4,147.8L150.8,149L150.4,149.7L149.4,151.7L148.8,153.1L148.5,153.7L147.6,155.7L146.8,157.5L146.7,157.7L145.1,161.7L144.8,162.7L144.4,163.7L143.8,165.7L141.8,173.7L140.2,181.7L139.9,183.7L139.1,187.7L138.8,189.6L138.8,189.7L138.4,191.7L138.1,193.7L137.7,195.7L137.4,197.7L137,199.7L136.8,200.8L136.6,201.7L136.3,203.7L135.8,205.7L135.4,207.6L135,209.6L134.5,211.6L133.7,215.6L133.2,217.6L132.8,219.3L132.7,219.6L132.3,221.6L131.8,223.6L131.4,225.6L130.8,228L130.5,229.6L129.5,233.6L129.1,235.6L128.8,236.7L128.6,237.6L128.2,239.6L127.7,241.6L126.9,245.6L126.8,245.8L126.5,247.6L126,249.6L124.8,255.6L124.8,255.7L124.5,257.6L123.7,261.6L123.4,263.5L123,265.5L122.8,266.3L122.6,267.5L122.2,269.5L121.9,271.5L121.1,275.5L120.8,276.6L120.7,277.5L120.2,279.5L119.4,283.5L118.9,285.5L118.8,285.7L118.4,287.5L117.4,291.5L116.9,293.4L116.8,293.5L115,299.5L114.9,299.8L114.3,301.5L112.9,305.5L112.9,305.6L112.2,307.5L111.5,309.5L110.9,311.2L110.8,311.5L110.1,313.5L109.3,315.5L108.9,316.8L108.6,317.5L108,319.5L107.3,321.4L106.9,322.7L106.6,323.4L105.9,325.4L105.3,327.4L104.9,328.6L104.6,329.4L103.2,333.4L102.6,335.4L101.2,339.4L100.9,340.3L100.5,341.4L99.1,345.4L98.9,346.1L98.5,347.4L97.8,349.4L93.4,349.4L94.8,345.4L94.9,345L95.5,343.4L96.2,341.4L96.8,339.4L96.9,339.2L97.5,337.4L100.3,329.4L100.9,327.6L101,327.4L101.7,325.4L102.3,323.4L102.9,321.8L103,321.4L103.7,319.5L104.4,317.5L104.9,316.1L105.1,315.5L105.9,313.5L106.6,311.5L106.9,310.7L107.3,309.5L108.1,307.5L108.8,305.5L108.9,305.3L109.5,303.5L110.2,301.5L110.9,299.7L110.9,299.5L111.6,297.5L112.8,293.5L112.9,293.4L113.4,291.5L114.4,287.5L114.9,285.6L114.9,285.5L115.4,283.5L116.6,277.5L116.9,276.4L117,275.5L118.2,269.5L118.5,267.5L118.8,265.7L118.9,265.5L119.2,263.5L119.6,261.6L120,259.6L120.3,257.6L120.7,255.6L120.8,254.7L121.1,253.6L121.4,251.6L122.8,244.6L123.1,243.6L123.9,239.6L124.4,237.6L124.8,235.6L124.8,235.4L125.2,233.6L125.7,231.6L126.1,229.6L126.6,227.6L126.8,226.4L127.5,223.6L128.3,219.6L128.8,217.6L128.8,217.4L129.2,215.6L129.7,213.6L130.9,207.6L131.3,205.7L132.5,199.7L132.8,197.7L133.2,195.7L133.5,193.7L133.9,191.7L134.5,187.7L134.8,186L134.9,185.7L135.2,183.7L135.6,181.7L135.9,179.7L136.7,175.7L136.8,175.3L137.1,173.7L138.1,169.7L138.5,167.7L140.3,161.7L140.8,160.4L141.1,159.7L142.7,155.7L142.8,155.5L143.6,153.7L144.5,151.7L144.8,151.2L145.5,149.7L146.5,147.8L146.8,147.1L147.5,145.8L151.5,137.8L152.4,135.8L152.8,135.1L153.4,133.8L154.3,131.8L154.8,130.6L155.1,129.8L156.7,125.8L156.8,125.5L157.4,123.8L158.8,119.8L159.4,117.8L160.1,115.8L160.7,113.8L161.4,111.8L162,109.8L162.7,107.8L162.7,107.6L163.3,105.8L164.5,101.8L164.7,101L165.1,99.8L165.7,97.8L166.2,95.8L166.7,94L166.8,93.8L167.3,91.8L167.9,89.9L168.4,87.9L168.7,86.6L168.9,85.9L170.4,79.9L170.7,78.4L170.9,77.9L171.3,75.9L172.3,71.9L172.7,69.9L172.7,69.8L173.2,67.9L174,63.9L174.5,61.9L174.7,60.8L174.9,59.9L175.4,57.9L175.8,55.9L176.3,53.9L176.7,51.9L177.2,49.9L177.6,47.9L178.6,43.9L178.7,43.3L179,41.9L180.5,35.9L180.7,35L181,34L182,30L182.4,28L182.7,27L182.9,26L183.4,24L184,22L184.5,20L184.7,19L185,18L187.5,8L188.1,6Z"/>
<path fill="#0087ff" stroke="#0087ff" d="M201.4,6L200.8,8L200.7,8.4L200.2,10L199,14L198.7,15.1L198.4,16L197.2,20L196.7,21.9L196.6,22L196.1,24L194.9,28L194.7,28.7L194.3,30L193.7,32L193.2,34L192.7,35.7L192.6,35.9L192,37.9L191.5,39.9L190.9,41.9L190.7,42.8L190.4,43.9L189.2,47.9L188.7,49.9L188.7,50L188.2,51.9L187.6,53.9L187.1,55.9L186.7,57.6L186.6,57.9L185.1,63.9L184.7,65.4L184.6,65.9L184.1,67.9L183.5,69.9L181.5,77.9L180.9,79.9L180.7,80.6L180.4,81.9L179.2,85.9L178.7,87.7L178.7,87.9L178.1,89.9L177.5,91.8L177,93.8L176.7,94.7L176.4,95.8L175.8,97.8L175.3,99.8L174.7,101.7L174.7,101.8L172.9,107.8L172.7,108.5L172.3,109.8L171.1,113.8L170.7,115L170.5,115.8L169.1,119.8L168.7,121L168.4,121.8L167,125.8L166.7,126.5L166.2,127.8L165.4,129.8L164.7,131.3L164.5,131.8L163.6,133.8L162.7,135.6L162.7,135.8L161.7,137.8L160.7,139.5L160.6,139.8L158.6,143.8L157.5,145.8L156.5,147.8L155.4,149.7L154.8,151.1L153.5,153.7L152.8,155.3L152.6,155.7L151.7,157.7L150.9,159.7L150.8,159.9L150.1,161.7L149.4,163.7L148.2,167.7L147.2,171.7L146.8,173.6L146.8,173.7L146.3,175.7L145.1,181.7L144.8,183.5L144.7,183.7L144.4,185.7L144,187.7L143.7,189.7L143.3,191.7L143,193.7L142.8,194.6L142.6,195.7L142.2,197.7L141.9,199.7L141.1,203.7L140.8,205L140.7,205.7L140.2,207.6L139.8,209.6L139.3,211.6L138.9,213.6L138.8,213.9L138.4,215.6L137.9,217.6L137.5,219.6L136,225.6L135.6,227.6L135.1,229.6L134.8,230.7L134.6,231.6L134.1,233.6L133.7,235.6L132.7,239.6L132.3,241.6L131.8,243.6L131.4,245.6L130.8,248L130.5,249.6L128.9,257.6L128.8,257.8L128.5,259.6L128.1,261.6L127.7,263.5L124.9,277.5L124.8,277.9L124.5,279.5L124,281.5L123.6,283.5L121.1,293.5L120.8,294.3L120.5,295.5L119.3,299.5L118.8,300.8L118.6,301.5L118,303.5L117.3,305.5L116.9,306.8L116.6,307.5L115.9,309.5L115.3,311.5L114.9,312.7L114.6,313.5L113.2,317.5L112.6,319.5L111.9,321.4L111.2,323.4L110.9,324.6L110.6,325.4L109.2,329.4L108.9,330.5L108.6,331.4L107.2,335.4L106.9,336.4L106.5,337.4L105.9,339.4L105.2,341.4L104.9,342.3L104.5,343.4L103.1,347.4L102.9,348.1L102.4,349.4L97.8,349.4L98.5,347.4L98.9,346.1L99.1,345.4L100.5,341.4L100.9,340.3L101.2,339.4L102.6,335.4L103.2,333.4L104.6,329.4L104.9,328.6L105.3,327.4L105.9,325.4L106.6,323.4L106.9,322.7L107.3,321.4L108,319.5L108.6,317.5L108.9,316.8L109.3,315.5L110.1,313.5L110.8,311.5L110.9,311.2L111.5,309.5L112.2,307.5L112.9,305.6L112.9,305.5L114.3,301.5L114.9,299.8L115,299.5L116.8,293.5L116.9,293.4L117.4,291.5L118.4,287.5L118.8,285.7L118.9,285.5L119.4,283.5L120.2,279.5L120.7,277.5L120.8,276.6L121.1,275.5L121.9,271.5L122.2,269.5L122.6,267.5L122.8,266.3L123,265.5L123.4,263.5L123.7,261.6L124.5,257.6L124.8,255.7L124.8,255.6L126,249.6L126.5,247.6L126.8,245.8L126.9,245.6L127.7,241.6L128.2,239.6L128.6,237.6L128.8,236.7L129.1,235.6L129.5,233.6L130.5,229.6L130.8,228L131.4,225.6L131.8,223.6L132.3,221.6L132.7,219.6L132.8,219.3L133.2,217.6L133.7,215.6L134.5,211.6L135,209.6L135.4,207.6L135.8,205.7L136.3,203.7L136.6,201.7L136.8,200.8L137,199.7L137.4,197.7L137.7,195.7L138.1,193.7L138.4,191.7L138.8,189.7L138.8,189.6L139.1,187.7L139.9,183.7L140.2,181.7L141.8,173.7L143.8,165.7L144.4,163.7L144.8,162.7L145.1,161.7L146.7,157.7L146.8,157.5L147.6,155.7L148.5,153.7L148.8,153.1L149.4,151.7L150.4,149.7L150.8,149L151.4,147.8L152.5,145.8L152.8,145.1L153.5,143.8L154.5,141.8L154.8,141.3L155.5,139.8L156.5,137.8L156.8,137.3L157.5,135.8L158.8,133.2L159.4,131.8L160.3,129.8L160.7,128.6L161.1,127.8L162.5,123.8L162.7,123.1L163.2,121.8L163.9,119.8L164.5,117.8L164.7,117.2L165.2,115.8L168.2,105.8L168.7,104.1L168.8,103.8L170,99.8L170.7,97L171.1,95.8L171.6,93.8L172.2,91.8L172.7,89.9L172.7,89.7L173.2,87.9L173.8,85.9L174.8,81.9L175.4,79.9L176.4,75.9L176.7,74.5L176.9,73.9L177.4,71.9L177.8,69.9L179.8,61.9L180.2,59.9L180.7,58L180.7,57.9L184.2,43.9L184.7,42.2L184.8,41.9L185.8,37.9L186.4,35.9L186.7,34.7L186.9,34L187.4,32L188,30L188.5,28L188.7,27.3L189.1,26L189.6,24L190.2,22L190.7,20.1L190.7,20L191.3,18L191.8,16L193,12L193.5,10L194.7,6Z"/>
<path fill="#0097ff" stroke="#0097ff" d="M207.9,6L207.2,8L204.8,16L204.6,16.5L204.2,18L203,22L202.7,23.1L202.4,24L201.2,28L200.7,29.8L200.6,30L199.4,34L198.8,35.9L198.7,36.6L198.3,37.9L197.1,41.9L196.7,43.4L196.5,43.9L195.3,47.9L194.7,50.3L194.2,51.9L193.7,53.9L193.1,55.9L192.7,57.6L192.6,57.9L192.1,59.9L191.5,61.9L191,63.9L190.7,65.2L190.5,65.9L190,67.9L189.4,69.9L188.4,73.9L187.8,75.9L187.3,77.9L186.7,79.9L186.7,80L186.1,81.9L185.6,83.9L185,85.9L184.7,86.7L184.3,87.9L183.7,89.9L183.1,91.8L182.7,93.3L182.5,93.8L180.7,99.8L180.7,99.9L180.1,101.8L178.9,105.8L178.7,106.4L178.2,107.8L177.6,109.8L176.9,111.8L176.7,112.5L176.3,113.8L174.9,117.8L174.7,118.3L174.2,119.8L173.5,121.8L172.7,123.8L172.7,123.9L172,125.8L171.2,127.8L170.7,128.9L170.4,129.8L169.4,131.8L168.7,133.3L168.5,133.8L167.5,135.8L166.7,137.3L166.5,137.8L165.5,139.8L164.7,141.2L163.4,143.8L162.7,145L161.3,147.8L160.7,148.8L160.3,149.7L159.3,151.7L158.8,152.8L158.3,153.7L157.4,155.7L156.8,157.2L156.5,157.7L154.9,161.7L154.8,162.2L154.2,163.7L153,167.7L152.8,168.8L152.5,169.7L152,171.7L151.6,173.7L151.1,175.7L150.8,177.4L150.7,177.7L149.9,181.7L149.6,183.7L148.8,187.7L148.8,188L148.5,189.7L148.1,191.7L147.8,193.7L147.4,195.7L147.1,197.7L146.8,199.1L146.7,199.7L145.5,205.7L145,207.6L144.6,209.6L143.1,215.6L142.8,217.1L142.6,217.6L142.2,219.6L141.2,223.6L140.8,225.1L140.7,225.6L139.2,231.6L138.8,233L138.7,233.6L136.2,243.6L135.8,245.6L135.3,247.6L134.9,249.6L134.8,249.9L134.4,251.6L133.2,257.6L132.8,259.3L132.8,259.6L132.4,261.6L132,263.5L131.5,265.5L131.1,267.5L130.8,269.1L130.7,269.5L129.1,277.5L128.8,278.6L128.6,279.5L128.2,281.5L127.7,283.5L127.3,285.5L126.8,287.3L126.8,287.5L125.8,291.5L125.2,293.5L124.8,295L124.7,295.5L122.9,301.5L122.8,301.7L122.3,303.5L121.7,305.5L121,307.5L120.8,308.1L120.4,309.5L119.7,311.5L119.1,313.5L118.8,314.2L118.5,315.5L117.8,317.5L117.2,319.5L116.9,320.4L116.5,321.4L115.9,323.4L115.2,325.4L114.9,326.6L114.6,327.4L113.9,329.4L113.3,331.4L112.9,332.6L112.6,333.4L111.2,337.4L110.9,338.5L110.6,339.4L109.2,343.4L108.9,344.4L108.5,345.4L107.1,349.4L102.4,349.4L102.9,348.1L103.1,347.4L104.5,343.4L104.9,342.3L105.2,341.4L105.9,339.4L106.5,337.4L106.9,336.4L107.2,335.4L108.6,331.4L108.9,330.5L109.2,329.4L110.6,325.4L110.9,324.6L111.2,323.4L111.9,321.4L112.6,319.5L113.2,317.5L114.6,313.5L114.9,312.7L115.3,311.5L115.9,309.5L116.6,307.5L116.9,306.8L117.3,305.5L118,303.5L118.6,301.5L118.8,300.8L119.3,299.5L120.5,295.5L120.8,294.3L121.1,293.5L123.6,283.5L124,281.5L124.5,279.5L124.8,277.9L124.9,277.5L127.7,263.5L128.1,261.6L128.5,259.6L128.8,257.8L128.9,257.6L130.5,249.6L130.8,248L131.4,245.6L131.8,243.6L132.3,241.6L132.7,239.6L133.7,235.6L134.1,233.6L134.6,231.6L134.8,230.7L135.1,229.6L135.6,227.6L136,225.6L137.5,219.6L137.9,217.6L138.4,215.6L138.8,213.9L138.9,213.6L139.3,211.6L139.8,209.6L140.2,207.6L140.7,205.7L140.8,205L141.1,203.7L141.9,199.7L142.2,197.7L142.6,195.7L142.8,194.6L143,193.7L143.3,191.7L143.7,189.7L144,187.7L144.4,185.7L144.7,183.7L144.8,183.5L145.1,181.7L146.3,175.7L146.8,173.7L146.8,173.6L147.2,171.7L148.2,167.7L149.4,163.7L150.1,161.7L150.8,159.9L150.9,159.7L151.7,157.7L152.6,155.7L152.8,155.3L153.5,153.7L154.8,151.1L155.4,149.7L156.5,147.8L157.5,145.8L158.6,143.8L160.6,139.8L160.7,139.5L161.7,137.8L162.7,135.8L162.7,135.6L163.6,133.8L164.5,131.8L164.7,131.3L165.4,129.8L166.2,127.8L166.7,126.5L167,125.8L168.4,121.8L168.7,121L169.1,119.8L170.5,115.8L170.7,115L171.1,113.8L172.3,109.8L172.7,108.5L172.9,107.8L174.7,101.8L174.7,101.7L175.3,99.8L175.8,97.8L176.4,95.8L176.7,94.7L177,93.8L177.5,91.8L178.1,89.9L178.7,87.9L178.7,87.7L179.2,85.9L180.4,81.9L180.7,80.6L180.9,79.9L181.5,77.9L183.5,69.9L184.1,67.9L184.6,65.9L184.7,65.4L185.1,63.9L186.6,57.9L186.7,57.6L187.1,55.9L187.6,53.9L188.2,51.9L188.7,50L188.7,49.9L189.2,47.9L190.4,43.9L190.7,42.8L190.9,41.9L191.5,39.9L192,37.9L192.6,35.9L192.7,35.7L193.2,34L193.7,32L194.3,30L194.7,28.7L194.9,28L196.1,24L196.6,22L196.7,21.9L197.2,20L198.4,16L198.7,15.1L199,14L200.2,10L200.7,8.4L200.8,8L201.4,6Z"/>
<path fill="#00a6ff" stroke="#00a6ff" d="M214.2,6L213.6,8L212.9,10L211.1,16L210.6,17.6L210.5,18L208.7,24L208.6,24.1L208.1,26L206.9,30L206.6,30.7L206.3,32L205.7,34L205.1,35.9L204.6,37.3L204.5,37.9L202.7,43.9L202.7,44L202.1,45.9L200.9,49.9L200.7,50.8L200.3,51.9L199.8,53.9L199.2,55.9L198.7,57.9L198.7,58L198.2,59.9L197.6,61.9L196.6,65.9L196,67.9L195.5,69.9L194.9,71.9L194.7,72.9L193.8,75.9L193.3,77.9L191.5,83.9L190.8,85.9L190.7,86.3L190.2,87.9L189.5,89.9L188.9,91.8L188.7,92.5L188.2,93.8L187.6,95.8L186.9,97.8L186.7,98.5L186.3,99.8L184.9,103.8L184.7,104.5L184.2,105.8L182.8,109.8L182.7,110.2L182.1,111.8L181.4,113.8L180.7,115.7L180.6,115.8L179.9,117.8L179.1,119.8L178.7,120.9L178.4,121.8L176.8,125.8L176.7,126L176,127.8L175.1,129.8L174.7,130.6L174.2,131.8L171.2,137.8L170.7,138.7L170.2,139.8L169.1,141.8L168.7,142.5L168.1,143.8L167,145.8L166.7,146.3L166,147.8L165,149.7L164.7,150.2L164,151.7L163,153.7L162.7,154.4L162.1,155.7L161.2,157.7L160.7,158.9L160.4,159.7L159.6,161.7L159,163.7L158.8,164.4L158.3,165.7L156.8,171.7L156.8,171.8L156.3,173.7L155.1,179.7L154.8,181.3L154.7,181.7L154.3,183.7L154,185.7L153.6,187.7L153.3,189.7L152.9,191.7L152.8,192.5L152.6,193.7L151.8,197.7L151.5,199.7L151.1,201.7L150.8,203.1L150.7,203.7L150.2,205.7L149.8,207.6L148.8,211.6L148.8,211.8L148.3,213.6L146.8,219.6L146.8,219.8L146.3,221.6L145.3,225.6L144.8,227.4L144.7,227.6L143.2,233.6L142.8,235L142.6,235.6L141.1,241.6L140.8,242.9L140.6,243.6L140.1,245.6L139.7,247.6L139.2,249.6L138.8,251.4L138.8,251.6L138.3,253.6L137.9,255.6L137.4,257.6L137,259.6L136.8,260.5L136.6,261.6L136.1,263.5L134.9,269.5L134.8,269.8L134.4,271.5L133.6,275.5L133.1,277.5L132.3,281.5L131.3,285.5L130.9,287.5L130.8,287.7L130.4,289.5L129.4,293.5L128.8,295.5L128.3,297.5L127.7,299.5L127.2,301.5L126.8,302.7L126.6,303.5L123,315.5L122.8,316L122.4,317.5L121.8,319.5L121.2,321.4L120.8,322.5L120.6,323.4L119.9,325.4L119.3,327.4L118.8,328.8L118.6,329.4L118,331.4L117.3,333.4L116.9,334.8L116.7,335.4L115.3,339.4L114.9,340.7L114.6,341.4L113.2,345.4L112.9,346.5L112.5,347.4L111.8,349.4L107.1,349.4L108.5,345.4L108.9,344.4L109.2,343.4L110.6,339.4L110.9,338.5L111.2,337.4L112.6,333.4L112.9,332.6L113.3,331.4L113.9,329.4L114.6,327.4L114.9,326.6L115.2,325.4L115.9,323.4L116.5,321.4L116.9,320.4L117.2,319.5L117.8,317.5L118.5,315.5L118.8,314.2L119.1,313.5L119.7,311.5L120.4,309.5L120.8,308.1L121,307.5L121.7,305.5L122.3,303.5L122.8,301.7L122.9,301.5L124.7,295.5L124.8,295L125.2,293.5L125.8,291.5L126.8,287.5L126.8,287.3L127.3,285.5L127.7,283.5L128.2,281.5L128.6,279.5L128.8,278.6L129.1,277.5L130.7,269.5L130.8,269.1L131.1,267.5L131.5,265.5L132,263.5L132.4,261.6L132.8,259.6L132.8,259.3L133.2,257.6L134.4,251.6L134.8,249.9L134.9,249.6L135.3,247.6L135.8,245.6L136.2,243.6L138.7,233.6L138.8,233L139.2,231.6L140.7,225.6L140.8,225.1L141.2,223.6L142.2,219.6L142.6,217.6L142.8,217.1L143.1,215.6L144.6,209.6L145,207.6L145.5,205.7L146.7,199.7L146.8,199.1L147.1,197.7L147.4,195.7L147.8,193.7L148.1,191.7L148.5,189.7L148.8,188L148.8,187.7L149.6,183.7L149.9,181.7L150.7,177.7L150.8,177.4L151.1,175.7L151.6,173.7L152,171.7L152.5,169.7L152.8,168.8L153,167.7L154.2,163.7L154.8,162.2L154.9,161.7L156.5,157.7L156.8,157.2L157.4,155.7L158.3,153.7L158.8,152.8L159.3,151.7L160.3,149.7L160.7,148.8L161.3,147.8L162.7,145L163.4,143.8L164.7,141.2L165.5,139.8L166.5,137.8L166.7,137.3L167.5,135.8L168.5,133.8L168.7,133.3L169.4,131.8L170.4,129.8L170.7,128.9L171.2,127.8L172,125.8L172.7,123.9L172.7,123.8L173.5,121.8L174.2,119.8L174.7,118.3L174.9,117.8L176.3,113.8L176.7,112.5L176.9,111.8L177.6,109.8L178.2,107.8L178.7,106.4L178.9,105.8L180.1,101.8L180.7,99.9L180.7,99.8L182.5,93.8L182.7,93.3L183.1,91.8L183.7,89.9L184.3,87.9L184.7,86.7L185,85.9L185.6,83.9L186.1,81.9L186.7,80L186.7,79.9L187.3,77.9L187.8,75.9L188.4,73.9L189.4,69.9L190,67.9L190.5,65.9L190.7,65.2L191,63.9L191.5,61.9L192.1,59.9L192.6,57.9L192.7,57.6L193.1,55.9L193.7,53.9L194.2,51.9L194.7,50.3L195.3,47.9L196.5,43.9L196.7,43.4L197.1,41.9L198.3,37.9L198.7,36.6L198.8,35.9L199.4,34L200.6,30L200.7,29.8L201.2,28L202.4,24L202.7,23.1L203,22L204.2,18L204.6,16.5L204.8,16L207.2,8L207.9,6Z"/>
<path fill="#00b6ff" stroke="#00b6ff" d="M220.4,6L219.2,10L218.6,11.9L218.6,12L216.8,18L216.6,18.4L216.2,20L215.5,22L213.1,30L212.6,31.6L212.5,32L211.9,34L211.3,35.9L210.7,37.9L210.6,38.2L210.1,39.9L208.9,43.9L208.6,44.7L208.3,45.9L207.1,49.9L206.6,51.5L206,53.9L204.8,57.9L204.6,58.6L204.3,59.9L203.8,61.9L203.2,63.9L202.7,65.9L202.7,66L202.1,67.9L201.6,69.9L201,71.9L200.7,73.3L200.5,73.9L198.7,79.9L198.7,80.1L198.1,81.9L197.5,83.9L196.8,85.9L196.7,86.2L196.1,87.9L195.4,89.9L194.7,91.8L194.7,91.9L194,93.8L193.3,95.8L192.7,97.5L192.5,97.8L191.1,101.8L189.5,105.8L188.8,107.8L188.7,108.1L188,109.8L187.2,111.8L186.7,113.1L186.4,113.8L184.8,117.8L184.7,118.1L184,119.8L183.2,121.8L182.7,123L182.4,123.8L181.5,125.8L180.7,127.7L180.7,127.8L179.8,129.8L178.7,132L177.9,133.8L176.9,135.8L176.7,136.1L175.8,137.8L174.8,139.8L174.7,139.9L172.7,143.7L172.7,143.8L171.7,145.8L170.7,147.6L170.6,147.8L169.6,149.7L168.6,151.7L166.8,155.7L166.7,155.8L165.9,157.7L165.1,159.7L164.7,160.6L164.3,161.7L163.6,163.7L162.7,166.7L162.5,167.7L161,173.7L160.7,175L160.6,175.7L159.4,181.7L159.1,183.7L158.8,185.4L158.7,185.7L158.4,187.7L158,189.7L157.7,191.7L157.3,193.7L157,195.7L156.8,196.8L156.6,197.7L155,205.7L154.8,206.6L154.5,207.6L154,209.6L153.6,211.6L153.1,213.6L152.8,214.7L152.5,215.6L151.5,219.6L150.9,221.6L150.8,222.2L150.4,223.6L149.8,225.6L149.3,227.6L148.8,229.5L148.7,229.6L148.2,231.6L147.6,233.6L147.1,235.6L146.8,236.7L146.6,237.6L146,239.6L143.5,249.6L143.1,251.6L142.8,252.7L142.6,253.6L142.1,255.6L141.7,257.6L141.2,259.6L140.8,261.4L140.8,261.6L140.3,263.5L139.9,265.5L139.4,267.5L139,269.5L138.8,270.4L138.6,271.5L138.1,273.5L137.7,275.5L137.2,277.5L136.8,279.3L136.8,279.5L136.3,281.5L135.9,283.5L134.9,287.5L134.8,288L134.4,289.5L134,291.5L133,295.5L132.8,296.1L132.5,297.5L131.9,299.5L130.9,303.5L130.8,303.8L130.4,305.5L129.8,307.5L129.3,309.5L128.8,311.1L128.2,313.5L127,317.5L126.8,318.1L126.4,319.5L125.8,321.4L125.2,323.4L124.8,324.8L124.6,325.4L123.4,329.4L122.8,331.1L122.7,331.4L122.1,333.4L121.4,335.4L120.8,337.2L120.8,337.4L119.4,341.4L118.8,343L118.7,343.4L117.3,347.4L116.9,348.6L116.6,349.4L111.8,349.4L112.5,347.4L112.9,346.5L113.2,345.4L114.6,341.4L114.9,340.7L115.3,339.4L116.7,335.4L116.9,334.8L117.3,333.4L118,331.4L118.6,329.4L118.8,328.8L119.3,327.4L119.9,325.4L120.6,323.4L120.8,322.5L121.2,321.4L121.8,319.5L122.4,317.5L122.8,316L123,315.5L126.6,303.5L126.8,302.7L127.2,301.5L127.7,299.5L128.3,297.5L128.8,295.5L129.4,293.5L130.4,289.5L130.8,287.7L130.9,287.5L131.3,285.5L132.3,281.5L133.1,277.5L133.6,275.5L134.4,271.5L134.8,269.8L134.9,269.5L136.1,263.5L136.6,261.6L136.8,260.5L137,259.6L137.4,257.6L137.9,255.6L138.3,253.6L138.8,251.6L138.8,251.4L139.2,249.6L139.7,247.6L140.1,245.6L140.6,243.6L140.8,242.9L141.1,241.6L142.6,235.6L142.8,235L143.2,233.6L144.7,227.6L144.8,227.4L145.3,225.6L146.3,221.6L146.8,219.8L146.8,219.6L148.3,213.6L148.8,211.8L148.8,211.6L149.8,207.6L150.2,205.7L150.7,203.7L150.8,203.1L151.1,201.7L151.5,199.7L151.8,197.7L152.6,193.7L152.8,192.5L152.9,191.7L153.3,189.7L153.6,187.7L154,185.7L154.3,183.7L154.7,181.7L154.8,181.3L155.1,179.7L156.3,173.7L156.8,171.8L156.8,171.7L158.3,165.7L158.8,164.4L159,163.7L159.6,161.7L160.4,159.7L160.7,158.9L161.2,157.7L162.1,155.7L162.7,154.4L163,153.7L164,151.7L164.7,150.2L165,149.7L166,147.8L166.7,146.3L167,145.8L168.1,143.8L168.7,142.5L169.1,141.8L170.2,139.8L170.7,138.7L171.2,137.8L174.2,131.8L174.7,130.6L175.1,129.8L176,127.8L176.7,126L176.8,125.8L178.4,121.8L178.7,120.9L179.1,119.8L179.9,117.8L180.6,115.8L180.7,115.7L181.4,113.8L182.1,111.8L182.7,110.2L182.8,109.8L184.2,105.8L184.7,104.5L184.9,103.8L186.3,99.8L186.7,98.5L186.9,97.8L187.6,95.8L188.2,93.8L188.7,92.5L188.9,91.8L189.5,89.9L190.2,87.9L190.7,86.3L190.8,85.9L191.5,83.9L193.3,77.9L193.8,75.9L194.7,72.9L194.9,71.9L195.5,69.9L196,67.9L196.6,65.9L197.6,61.9L198.2,59.9L198.7,58L198.7,57.9L199.2,55.9L199.8,53.9L200.3,51.9L200.7,50.8L200.9,49.9L202.1,45.9L202.7,44L202.7,43.9L204.5,37.9L204.6,37.3L205.1,35.9L205.7,34L206.3,32L206.6,30.7L206.9,30L208.1,26L208.6,24.1L208.7,24L210.5,18L210.6,17.6L211.1,16L212.9,10L213.6,8L214.2,6Z"/>
<path fill="#00c5ff" stroke="#00c5ff" d="M226.6,6L226.6,6.1L226,8L224.8,12L224.6,12.7L224.2,14L223,18L222.6,19.3L222.4,20L221.2,24L220.6,25.9L220.6,26L218.8,32L218.6,32.5L218.2,34L217.6,35.9L216.9,37.9L216.6,39L216.3,39.9L215.1,43.9L214.6,45.5L214.5,45.9L212.7,51.9L212.6,52.2L212.1,53.9L211.6,55.9L211,57.9L210.6,59.3L210.5,59.9L209.9,61.9L209.4,63.9L208.8,65.9L208.6,66.5L208.3,67.9L207.1,71.9L206.6,73.5L206,75.9L205.3,77.9L204.7,79.9L204.6,80.1L204.1,81.9L202,87.9L201.2,89.9L200.7,91.3L198.9,95.8L198.7,96.4L198.1,97.8L196.5,101.8L195.6,103.8L194.8,105.8L194.7,106.1L193.9,107.8L192.7,110.8L192.2,111.8L191.4,113.8L190.7,115.4L190.5,115.8L189.6,117.8L188.8,119.8L188.7,120L187.9,121.8L187,123.8L186.7,124.6L186.2,125.8L185.3,127.8L184.7,129.1L184.4,129.8L180.4,137.8L179.3,139.8L177.3,143.8L176.7,144.8L175.2,147.8L174.7,148.7L173.2,151.7L172.7,152.8L172.3,153.7L171.4,155.7L170.7,157.3L170.5,157.7L169.7,159.7L169,161.7L168.7,162.5L168.3,163.7L167.7,165.7L167.2,167.7L166.7,169.4L166.6,169.7L166.2,171.7L165.7,173.7L164.9,177.7L164.7,178.5L164.5,179.7L164.1,181.7L163.8,183.7L163.4,185.7L162.8,189.7L162.7,189.8L162.4,191.7L162.1,193.7L161.7,195.7L161.4,197.7L161,199.7L160.7,200.9L160.6,201.7L160.2,203.7L159.7,205.7L159.3,207.6L158.8,209.6L158.8,209.8L158.3,211.6L157.8,213.6L157.2,215.6L156.8,217.4L156.7,217.6L156.1,219.6L155.6,221.6L155,223.6L154.8,224.4L154.4,225.6L153.8,227.6L153.3,229.6L152.8,231.3L152.7,231.6L151.5,235.6L150.8,238.4L150.4,239.6L149.4,243.6L148.8,245.6L148.8,245.8L148.3,247.6L147.8,249.6L147.4,251.6L146.9,253.6L146.8,253.9L146.4,255.6L145.4,259.6L145,261.6L144.8,262.3L144,265.5L143.6,267.5L143.1,269.5L142.7,271.5L142.2,273.5L141.8,275.5L140.8,279.5L140.8,279.7L140.4,281.5L139.9,283.5L139.5,285.5L138.5,289.5L138.1,291.5L137.1,295.5L136.8,296.8L136.6,297.5L136.2,299.5L133.2,311.5L132.8,313L132.7,313.5L132.2,315.5L131.6,317.5L131.1,319.5L130.8,320.4L130.5,321.4L130,323.4L129.4,325.4L128.8,327.2L128.8,327.4L128.1,329.4L126.9,333.4L126.8,333.5L126.2,335.4L125.5,337.4L124.9,339.4L124.8,339.5L124.2,341.4L123.5,343.4L122.8,345.2L122.8,345.4L122.1,347.4L121.3,349.4L116.6,349.4L116.9,348.6L117.3,347.4L118.7,343.4L118.8,343L119.4,341.4L120.8,337.4L120.8,337.2L121.4,335.4L122.1,333.4L122.7,331.4L122.8,331.1L123.4,329.4L124.6,325.4L124.8,324.8L125.2,323.4L125.8,321.4L126.4,319.5L126.8,318.1L127,317.5L128.2,313.5L128.8,311.1L129.3,309.5L129.8,307.5L130.4,305.5L130.8,303.8L130.9,303.5L131.9,299.5L132.5,297.5L132.8,296.1L133,295.5L134,291.5L134.4,289.5L134.8,288L134.9,287.5L135.9,283.5L136.3,281.5L136.8,279.5L136.8,279.3L137.2,277.5L137.7,275.5L138.1,273.5L138.6,271.5L138.8,270.4L139,269.5L139.4,267.5L139.9,265.5L140.3,263.5L140.8,261.6L140.8,261.4L141.2,259.6L141.7,257.6L142.1,255.6L142.6,253.6L142.8,252.7L143.1,251.6L143.5,249.6L146,239.6L146.6,237.6L146.8,236.7L147.1,235.6L147.6,233.6L148.2,231.6L148.7,229.6L148.8,229.5L149.3,227.6L149.8,225.6L150.4,223.6L150.8,222.2L150.9,221.6L151.5,219.6L152.5,215.6L152.8,214.7L153.1,213.6L153.6,211.6L154,209.6L154.5,207.6L154.8,206.6L155,205.7L156.6,197.7L156.8,196.8L157,195.7L157.3,193.7L157.7,191.7L158,189.7L158.4,187.7L158.7,185.7L158.8,185.4L159.1,183.7L159.4,181.7L160.6,175.7L160.7,175L161,173.7L162.5,167.7L162.7,166.7L163.6,163.7L164.3,161.7L164.7,160.6L165.1,159.7L165.9,157.7L166.7,155.8L166.8,155.7L168.6,151.7L169.6,149.7L170.6,147.8L170.7,147.6L171.7,145.8L172.7,143.8L172.7,143.7L174.7,139.9L174.8,139.8L175.8,137.8L176.7,136.1L176.9,135.8L177.9,133.8L178.7,132L179.8,129.8L180.7,127.8L180.7,127.7L181.5,125.8L182.4,123.8L182.7,123L183.2,121.8L184,119.8L184.7,118.1L184.8,117.8L186.4,113.8L186.7,113.1L187.2,111.8L188,109.8L188.7,108.1L188.8,107.8L189.5,105.8L191.1,101.8L192.5,97.8L192.7,97.5L193.3,95.8L194,93.8L194.7,91.9L194.7,91.8L195.4,89.9L196.1,87.9L196.7,86.2L196.8,85.9L197.5,83.9L198.1,81.9L198.7,80.1L198.7,79.9L200.5,73.9L200.7,73.3L201,71.9L201.6,69.9L202.1,67.9L202.7,66L202.7,65.9L203.2,63.9L203.8,61.9L204.3,59.9L204.6,58.6L204.8,57.9L206,53.9L206.6,51.5L207.1,49.9L208.3,45.9L208.6,44.7L208.9,43.9L210.1,39.9L210.6,38.2L210.7,37.9L211.3,35.9L211.9,34L212.5,32L212.6,31.6L213.1,30L215.5,22L216.2,20L216.6,18.4L216.8,18L218.6,12L218.6,11.9L219.2,10L220.4,6Z"/>
<path fill="#00d5ff" stroke="#00d5ff" d="M226.6,6.1L226.6,6L232.9,6L231.1,12L230.6,13.7L230.5,14L228.7,20L228.6,20.3L228.1,22L226.9,26L226.6,26.9L226.3,28L225.1,32L224.6,33.5L224.4,34L223.8,35.9L221.4,43.9L220.7,45.9L220.6,46.4L220.1,47.9L218.9,51.9L218.6,53L218.3,53.9L217.8,55.9L217.2,57.9L216.6,59.8L216.6,59.9L215.4,63.9L214.9,65.9L214.6,66.7L214.3,67.9L213.1,71.9L212.6,73.4L212.5,73.9L211.8,75.9L211.2,77.9L210.6,79.6L210.5,79.9L209.9,81.9L209.1,83.9L208.6,85.2L208.4,85.9L207.6,87.9L206.9,89.9L206.6,90.4L206,91.8L205.2,93.8L204.6,95.2L204.4,95.8L203.5,97.8L202.7,99.8L202.6,99.8L201.8,101.8L200.9,103.8L200.7,104.3L199.9,105.8L199,107.8L198.7,108.6L198.1,109.8L197.2,111.8L196.7,113L196.3,113.8L195.4,115.8L194.7,117.3L194.4,117.8L193.5,119.8L192.7,121.7L192.6,121.8L190.8,125.8L190.7,126.1L189.9,127.8L189,129.8L186,135.8L184.9,137.8L184.7,138.3L183.9,139.8L182.9,141.8L182.7,142.1L181.8,143.8L179.8,147.8L178.8,149.7L178.7,150L177.9,151.7L176.9,153.7L176.1,155.7L175.2,157.7L174.7,159L174.4,159.7L173,163.7L172.4,165.7L170.9,171.7L170.7,172.4L170.4,173.7L169.6,177.7L169.3,179.7L168.9,181.7L168.7,182.6L168.5,183.7L167.9,187.7L167.5,189.7L167.2,191.7L166.8,193.7L166.7,194.3L166.5,195.7L166.1,197.7L165.8,199.7L165.4,201.7L164.9,203.7L164.7,204.6L164.5,205.7L164,207.6L163,211.6L162.7,212.7L162.5,213.6L161.9,215.6L161.4,217.6L160.8,219.6L160.7,219.8L160.2,221.6L159,225.6L158.8,226.5L158.4,227.6L157.2,231.6L156.8,233.1L156.6,233.6L155.4,237.6L154.8,240L154.3,241.6L153.8,243.6L153.2,245.6L152.8,247.3L152.7,247.6L149.2,261.6L148.8,263.3L148.7,263.5L148.2,265.5L147.8,267.5L146.8,271.5L146.8,271.7L146.4,273.5L145.4,277.5L145,279.5L144,283.5L143.6,285.5L143.1,287.5L142.8,288.9L142.7,289.5L141.7,293.5L140.9,297.5L140.8,297.8L140.4,299.5L139.6,303.5L139.1,305.5L138.8,306.9L138.7,307.5L137.7,311.5L137.3,313.5L136.8,315.4L136.8,315.5L135.8,319.5L135.2,321.4L134.7,323.4L132.9,329.4L132.8,329.8L132.3,331.4L131.7,333.4L131,335.4L130.8,336.1L130.4,337.4L129,341.4L128.8,342L128.3,343.4L126.9,347.4L126.8,347.6L126.2,349.4L121.3,349.4L122.1,347.4L122.8,345.4L122.8,345.2L123.5,343.4L124.2,341.4L124.8,339.5L124.9,339.4L125.5,337.4L126.2,335.4L126.8,333.5L126.9,333.4L128.1,329.4L128.8,327.4L128.8,327.2L129.4,325.4L130,323.4L130.5,321.4L130.8,320.4L131.1,319.5L131.6,317.5L132.2,315.5L132.7,313.5L132.8,313L133.2,311.5L136.2,299.5L136.6,297.5L136.8,296.8L137.1,295.5L138.1,291.5L138.5,289.5L139.5,285.5L139.9,283.5L140.4,281.5L140.8,279.7L140.8,279.5L141.8,275.5L142.2,273.5L142.7,271.5L143.1,269.5L143.6,267.5L144,265.5L144.8,262.3L145,261.6L145.4,259.6L146.4,255.6L146.8,253.9L146.9,253.6L147.4,251.6L147.8,249.6L148.3,247.6L148.8,245.8L148.8,245.6L149.4,243.6L150.4,239.6L150.8,238.4L151.5,235.6L152.7,231.6L152.8,231.3L153.3,229.6L153.8,227.6L154.4,225.6L154.8,224.4L155,223.6L155.6,221.6L156.1,219.6L156.7,217.6L156.8,217.4L157.2,215.6L157.8,213.6L158.3,211.6L158.8,209.8L158.8,209.6L159.3,207.6L159.7,205.7L160.2,203.7L160.6,201.7L160.7,200.9L161,199.7L161.4,197.7L161.7,195.7L162.1,193.7L162.4,191.7L162.7,189.8L162.8,189.7L163.4,185.7L163.8,183.7L164.1,181.7L164.5,179.7L164.7,178.5L164.9,177.7L165.7,173.7L166.2,171.7L166.6,169.7L166.7,169.4L167.2,167.7L167.7,165.7L168.3,163.7L168.7,162.5L169,161.7L169.7,159.7L170.5,157.7L170.7,157.3L171.4,155.7L172.3,153.7L172.7,152.8L173.2,151.7L174.7,148.7L175.2,147.8L176.7,144.8L177.3,143.8L179.3,139.8L180.4,137.8L184.4,129.8L184.7,129.1L185.3,127.8L186.2,125.8L186.7,124.6L187,123.8L187.9,121.8L188.7,120L188.8,119.8L189.6,117.8L190.5,115.8L190.7,115.4L191.4,113.8L192.2,111.8L192.7,110.8L193.9,107.8L194.7,106.1L194.8,105.8L195.6,103.8L196.5,101.8L198.1,97.8L198.7,96.4L198.9,95.8L200.7,91.3L201.2,89.9L202,87.9L204.1,81.9L204.6,80.1L204.7,79.9L205.3,77.9L206,75.9L206.6,73.5L207.1,71.9L208.3,67.9L208.6,66.5L208.8,65.9L209.4,63.9L209.9,61.9L210.5,59.9L210.6,59.3L211,57.9L211.6,55.9L212.1,53.9L212.6,52.2L212.7,51.9L214.5,45.9L214.6,45.5L215.1,43.9L216.3,39.9L216.6,39L216.9,37.9L217.6,35.9L218.2,34L218.6,32.5L218.8,32L220.6,26L220.6,25.9L221.2,24L222.4,20L222.6,19.3L223,18L224.2,14L224.6,12.7L224.8,12L226,8Z"/>
<path fill="#00e5ff" stroke="#00e5ff" d="M232.9,6L239.2,6L238.6,8L238.6,8.1L238,10L236.8,14L236.6,14.9L236.3,16L235.1,20L234.6,21.6L234.5,22L233.8,24L232.6,28L232.6,28.1L232,30L230.8,34L230.6,34.6L230.2,35.9L229.5,37.9L228.3,41.9L227.6,43.9L227,45.9L226.6,47.2L226.4,47.9L225.7,49.9L225.1,51.9L224.6,53.6L224.5,53.9L222.7,59.9L222.6,60.1L222,61.9L220.8,65.9L220.6,66.5L220.2,67.9L219.5,69.9L218.9,71.9L218.6,72.6L218.2,73.9L216.8,77.9L216.6,78.5L216.1,79.9L214.7,83.9L214.6,83.9L213.9,85.9L213.1,87.9L212.6,89L212.3,89.9L211.4,91.8L210.6,93.6L210.5,93.8L208.7,97.8L208.6,98.1L207.8,99.8L206.9,101.8L206.6,102.3L205.9,103.8L205,105.8L204.6,106.5L204,107.8L203.1,109.8L202.7,110.7L202.1,111.8L201.1,113.8L200.7,114.8L199.2,117.8L198.7,118.9L198.3,119.8L197.3,121.8L196.7,123.2L196.4,123.8L195.5,125.8L194.7,127.5L194.5,127.8L193.6,129.8L189.6,137.8L188.7,139.5L188.5,139.8L187.5,141.8L186.7,143.3L186.5,143.8L185.5,145.8L184.7,147.3L184.5,147.8L183.5,149.7L182.7,151.4L182.6,151.7L181.6,153.7L180.8,155.7L180.7,155.9L180,157.7L179.2,159.7L178.7,161L178.5,161.7L177.8,163.7L177.2,165.7L176.7,167.5L176.7,167.7L176.1,169.7L175.7,171.7L175.2,173.7L174.4,177.7L174.1,179.7L173.3,183.7L173,185.7L172.7,187.4L172.7,187.7L172.3,189.7L171.7,193.7L170.9,197.7L170.7,198.8L170.6,199.7L170.2,201.7L169.7,203.7L169.3,205.7L168.8,207.6L167.8,211.6L167.2,213.6L166.7,215.4L166.7,215.6L164.9,221.6L164.7,222.1L164.3,223.6L163.7,225.6L163,227.6L162.7,228.5L162.4,229.6L161.2,233.6L160.7,235L160.6,235.6L158.8,241.6L158.8,241.7L158.2,243.6L157.7,245.6L157.1,247.6L156.8,249L156.6,249.6L155.1,255.6L154.8,256.7L154.5,257.6L153.5,261.6L153,263.5L152.8,264.6L152.5,265.5L152,267.5L151.6,269.5L149.6,277.5L149.2,279.5L148.8,281.2L148.7,281.5L148.2,283.5L147.8,285.5L147.3,287.5L146.9,289.5L146.4,291.5L145.2,297.5L144.8,299.3L144.8,299.5L143.2,307.5L142.8,309.2L142.7,309.5L141.9,313.5L141.4,315.5L141,317.5L140.8,318.1L140.5,319.5L140,321.4L139.4,323.4L138.9,325.4L138.8,325.7L138.3,327.4L135.9,335.4L135.2,337.4L134.8,338.7L134.6,339.4L133.2,343.4L132.8,344.5L132.5,345.4L131.1,349.4L126.2,349.4L126.8,347.6L126.9,347.4L128.3,343.4L128.8,342L129,341.4L130.4,337.4L130.8,336.1L131,335.4L131.7,333.4L132.3,331.4L132.8,329.8L132.9,329.4L134.7,323.4L135.2,321.4L135.8,319.5L136.8,315.5L136.8,315.4L137.3,313.5L137.7,311.5L138.7,307.5L138.8,306.9L139.1,305.5L139.6,303.5L140.4,299.5L140.8,297.8L140.9,297.5L141.7,293.5L142.7,289.5L142.8,288.9L143.1,287.5L143.6,285.5L144,283.5L145,279.5L145.4,277.5L146.4,273.5L146.8,271.7L146.8,271.5L147.8,267.5L148.2,265.5L148.7,263.5L148.8,263.3L149.2,261.6L152.7,247.6L152.8,247.3L153.2,245.6L153.8,243.6L154.3,241.6L154.8,240L155.4,237.6L156.6,233.6L156.8,233.1L157.2,231.6L158.4,227.6L158.8,226.5L159,225.6L160.2,221.6L160.7,219.8L160.8,219.6L161.4,217.6L161.9,215.6L162.5,213.6L162.7,212.7L163,211.6L164,207.6L164.5,205.7L164.7,204.6L164.9,203.7L165.4,201.7L165.8,199.7L166.1,197.7L166.5,195.7L166.7,194.3L166.8,193.7L167.2,191.7L167.5,189.7L167.9,187.7L168.5,183.7L168.7,182.6L168.9,181.7L169.3,179.7L169.6,177.7L170.4,173.7L170.7,172.4L170.9,171.7L172.4,165.7L173,163.7L174.4,159.7L174.7,159L175.2,157.7L176.1,155.7L176.9,153.7L177.9,151.7L178.7,150L178.8,149.7L179.8,147.8L181.8,143.8L182.7,142.1L182.9,141.8L183.9,139.8L184.7,138.3L184.9,137.8L186,135.8L189,129.8L189.9,127.8L190.7,126.1L190.8,125.8L192.6,121.8L192.7,121.7L193.5,119.8L194.4,117.8L194.7,117.3L195.4,115.8L196.3,113.8L196.7,113L197.2,111.8L198.1,109.8L198.7,108.6L199,107.8L199.9,105.8L200.7,104.3L200.9,103.8L201.8,101.8L202.6,99.8L202.7,99.8L203.5,97.8L204.4,95.8L204.6,95.2L205.2,93.8L206,91.8L206.6,90.4L206.9,89.9L207.6,87.9L208.4,85.9L208.6,85.2L209.1,83.9L209.9,81.9L210.5,79.9L210.6,79.6L211.2,77.9L211.8,75.9L212.5,73.9L212.6,73.4L213.1,71.9L214.3,67.9L214.6,66.7L214.9,65.9L215.4,63.9L216.6,59.9L216.6,59.8L217.2,57.9L217.8,55.9L218.3,53.9L218.6,53L218.9,51.9L220.1,47.9L220.6,46.4L220.7,45.9L221.4,43.9L223.8,35.9L224.4,34L224.6,33.5L225.1,32L226.3,28L226.6,26.9L226.9,26L228.1,22L228.6,20.3L228.7,20L230.5,14L230.6,13.7L231.1,12Z"/>
<path fill="#00f4ff" stroke="#00f4ff" d="M245.7,6L245.1,8L244.6,9.9L244.5,10L242.7,16L242.6,16.6L242.1,18L240.9,22L240.6,23.2L240.3,24L239.1,28L238.6,29.6L238.4,30L237.2,34L236.6,35.8L236.5,35.9L235.9,37.9L235.2,39.9L234.6,41.9L234.6,42L233.9,43.9L233.3,45.9L232.6,47.9L232.6,48L231.9,49.9L231.3,51.9L230.6,53.9L230.6,54L229.9,55.9L229.3,57.9L227.2,63.9L226.6,65.7L226.5,65.9L225.1,69.9L224.6,71.4L224.4,71.9L223.7,73.9L222.9,75.9L222.6,76.8L222.2,77.9L221.4,79.9L220.7,81.9L220.6,82L219.9,83.9L219.1,85.9L218.6,86.9L217.4,89.9L216.6,91.6L216.5,91.8L214.7,95.8L213.7,97.8L212.8,99.8L211.8,101.8L210.9,103.8L210.6,104.3L209.9,105.8L208.9,107.8L208.6,108.3L207.9,109.8L204.6,116.4L204,117.8L203,119.8L202.7,120.5L202,121.8L201.1,123.8L200.7,124.7L200.2,125.8L199.2,127.8L198.7,128.9L198.3,129.8L194.3,137.8L193.2,139.8L192.7,140.9L192.2,141.8L190.2,145.8L189.3,147.8L188.7,148.9L188.3,149.7L187.4,151.7L186.7,153.3L186.5,153.7L185.6,155.7L184.8,157.7L184.7,158L184,159.7L183.3,161.7L181.5,167.7L181,169.7L180.7,171.1L180.6,171.7L180.1,173.7L178.9,179.7L178.7,181L178.6,181.7L178.2,183.7L177.9,185.7L177.5,187.7L176.9,191.7L176.7,192.6L176.5,193.7L176.2,195.7L175,201.7L174.7,203L174.6,203.7L174.1,205.7L173.6,207.6L173.1,209.6L172.7,211.1L172.6,211.6L170.8,217.6L170.7,218L170.2,219.6L169,223.6L168.7,224.4L168.3,225.6L167.1,229.6L166.7,230.6L165.2,235.6L164.7,236.9L164.5,237.6L163.3,241.6L162.8,243.6L162.7,243.6L161.7,247.6L161.1,249.6L160.7,250.9L160.6,251.6L160,253.6L159,257.6L158.8,258.5L158.5,259.6L158,261.6L157.4,263.5L156.9,265.5L156.8,266.2L156.4,267.5L154.9,273.5L154.8,274.3L153,281.5L152.8,282.7L152.1,285.5L151.7,287.5L151.2,289.5L148.8,301.5L148.8,301.7L148.5,303.5L146.9,311.5L146.8,312.2L146.5,313.5L145.7,317.5L144.8,321.1L144.7,321.4L143.7,325.4L143.1,327.4L142.8,328.5L142.5,329.4L141.3,333.4L140.8,335.2L140.7,335.4L140.1,337.4L139.4,339.4L138.8,341.4L137.4,345.4L136.8,347.1L136.7,347.4L136,349.4L131.1,349.4L132.5,345.4L132.8,344.5L133.2,343.4L134.6,339.4L134.8,338.7L135.2,337.4L135.9,335.4L138.3,327.4L138.8,325.7L138.9,325.4L139.4,323.4L140,321.4L140.5,319.5L140.8,318.1L141,317.5L141.4,315.5L141.9,313.5L142.7,309.5L142.8,309.2L143.2,307.5L144.8,299.5L144.8,299.3L145.2,297.5L146.4,291.5L146.9,289.5L147.3,287.5L147.8,285.5L148.2,283.5L148.7,281.5L148.8,281.2L149.2,279.5L149.6,277.5L151.6,269.5L152,267.5L152.5,265.5L152.8,264.6L153,263.5L153.5,261.6L154.5,257.6L154.8,256.7L155.1,255.6L156.6,249.6L156.8,249L157.1,247.6L157.7,245.6L158.2,243.6L158.8,241.7L158.8,241.6L160.6,235.6L160.7,235L161.2,233.6L162.4,229.6L162.7,228.5L163,227.6L163.7,225.6L164.3,223.6L164.7,222.1L164.9,221.6L166.7,215.6L166.7,215.4L167.2,213.6L167.8,211.6L168.8,207.6L169.3,205.7L169.7,203.7L170.2,201.7L170.6,199.7L170.7,198.8L170.9,197.7L171.7,193.7L172.3,189.7L172.7,187.7L172.7,187.4L173,185.7L173.3,183.7L174.1,179.7L174.4,177.7L175.2,173.7L175.7,171.7L176.1,169.7L176.7,167.7L176.7,167.5L177.2,165.7L177.8,163.7L178.5,161.7L178.7,161L179.2,159.7L180,157.7L180.7,155.9L180.8,155.7L181.6,153.7L182.6,151.7L182.7,151.4L183.5,149.7L184.5,147.8L184.7,147.3L185.5,145.8L186.5,143.8L186.7,143.3L187.5,141.8L188.5,139.8L188.7,139.5L189.6,137.8L193.6,129.8L194.5,127.8L194.7,127.5L195.5,125.8L196.4,123.8L196.7,123.2L197.3,121.8L198.3,119.8L198.7,118.9L199.2,117.8L200.7,114.8L201.1,113.8L202.1,111.8L202.7,110.7L203.1,109.8L204,107.8L204.6,106.5L205,105.8L205.9,103.8L206.6,102.3L206.9,101.8L207.8,99.8L208.6,98.1L208.7,97.8L210.5,93.8L210.6,93.6L211.4,91.8L212.3,89.9L212.6,89L213.1,87.9L213.9,85.9L214.6,83.9L214.7,83.9L216.1,79.9L216.6,78.5L216.8,77.9L218.2,73.9L218.6,72.6L218.9,71.9L219.5,69.9L220.2,67.9L220.6,66.5L220.8,65.9L222,61.9L222.6,60.1L222.7,59.9L224.5,53.9L224.6,53.6L225.1,51.9L225.7,49.9L226.4,47.9L226.6,47.2L227,45.9L227.6,43.9L228.3,41.9L229.5,37.9L230.2,35.9L230.6,34.6L230.8,34L232,30L232.6,28.1L232.6,28L233.8,24L234.5,22L234.6,21.6L235.1,20L236.3,16L236.6,14.9L236.8,14L238,10L238.6,8.1L238.6,8L239.2,6Z"/>
<path fill="#00fef8" stroke="#00fef8" d="M252.4,6L251.8,8L251.3,10L250.7,12L250.5,12.4L250.1,14L248.9,18L248.5,19L247,24L246.5,25.3L246.3,26L245.7,28L245,30L244.6,31.4L244.4,32L243.7,34L243,35.9L242.6,37.3L242.4,37.9L241,41.9L240.6,43.1L240.3,43.9L238.9,47.9L238.6,48.8L238.2,49.9L237.4,51.9L236.7,53.9L236.6,54.3L236,55.9L235.2,57.9L234.6,59.6L234.4,59.9L233.7,61.9L232.9,63.9L232.6,64.7L232.1,65.9L231.3,67.9L230.6,69.7L230.5,69.9L228.9,73.9L228.6,74.6L228.1,75.9L227.3,77.9L226.6,79.5L226.4,79.9L224.8,83.9L224.6,84.2L223.9,85.9L223.1,87.9L222.6,88.9L222.2,89.9L221.3,91.8L220.6,93.3L220.4,93.8L219.4,95.8L218.6,97.6L217.5,99.8L216.6,101.8L212.6,109.8L212.6,109.9L211.7,111.8L210.7,113.8L210.6,113.9L209.7,115.8L207.7,119.8L206.8,121.8L206.6,122.1L205.8,123.8L204.9,125.8L204.6,126.4L204,127.8L203,129.8L202.7,130.6L197.1,141.8L196.7,142.7L196.1,143.8L195.2,145.8L194.2,147.8L193.3,149.7L192.7,151.1L192.4,151.7L191.5,153.7L189.1,159.7L188.7,160.9L188.4,161.7L187.7,163.7L187.2,165.7L186.7,167.4L186.6,167.7L185.6,171.7L184.8,175.7L184.7,176L184.4,177.7L183.6,181.7L183.3,183.7L182.9,185.7L182.7,186.9L182.6,187.7L182.2,189.7L181.9,191.7L181.1,195.7L180.8,197.7L180.7,197.9L180.4,199.7L180,201.7L179,205.7L178.7,207L178.5,207.6L177.5,211.6L176.9,213.6L176.7,214.3L176.3,215.6L175.1,219.6L174.7,220.8L174.5,221.6L173.8,223.6L173.2,225.6L172.7,226.9L172.5,227.6L171.9,229.6L171.2,231.6L170.7,233L170.5,233.6L169.3,237.6L168.7,239.3L168.6,239.6L168,241.6L167.5,243.6L166.9,245.6L166.7,246.1L166.3,247.6L165.8,249.6L165.2,251.6L164.7,253.3L164.7,253.6L164.1,255.6L163.1,259.6L162.7,260.8L162.5,261.6L162,263.5L161,267.5L160.7,268.5L160.5,269.5L159,275.5L158.8,276.5L158.5,277.5L157.5,281.5L157.1,283.5L156.8,284.9L156.6,285.5L156.2,287.5L155.7,289.5L154.9,293.5L154.8,294.1L154.5,295.5L153.7,299.5L153.4,301.5L153,303.5L152.8,304.9L152.7,305.5L151.9,309.5L151.6,311.5L150.8,315.5L150.3,317.5L149.9,319.5L149.4,321.4L148.9,323.4L148.8,324L148.4,325.4L147.9,327.4L147.3,329.4L146.8,331.4L145,337.4L144.8,338L144.3,339.4L143.7,341.4L143,343.4L142.8,344.2L142.4,345.4L141,349.4L136,349.4L136.7,347.4L136.8,347.1L137.4,345.4L138.8,341.4L139.4,339.4L140.1,337.4L140.7,335.4L140.8,335.2L141.3,333.4L142.5,329.4L142.8,328.5L143.1,327.4L143.7,325.4L144.7,321.4L144.8,321.1L145.7,317.5L146.5,313.5L146.8,312.2L146.9,311.5L148.5,303.5L148.8,301.7L148.8,301.5L151.2,289.5L151.7,287.5L152.1,285.5L152.8,282.7L153,281.5L154.8,274.3L154.9,273.5L156.4,267.5L156.8,266.2L156.9,265.5L157.4,263.5L158,261.6L158.5,259.6L158.8,258.5L159,257.6L160,253.6L160.6,251.6L160.7,250.9L161.1,249.6L161.7,247.6L162.7,243.6L162.8,243.6L163.3,241.6L164.5,237.6L164.7,236.9L165.2,235.6L166.7,230.6L167.1,229.6L168.3,225.6L168.7,224.4L169,223.6L170.2,219.6L170.7,218L170.8,217.6L172.6,211.6L172.7,211.1L173.1,209.6L173.6,207.6L174.1,205.7L174.6,203.7L174.7,203L175,201.7L176.2,195.7L176.5,193.7L176.7,192.6L176.9,191.7L177.5,187.7L177.9,185.7L178.2,183.7L178.6,181.7L178.7,181L178.9,179.7L180.1,173.7L180.6,171.7L180.7,171.1L181,169.7L181.5,167.7L183.3,161.7L184,159.7L184.7,158L184.8,157.7L185.6,155.7L186.5,153.7L186.7,153.3L187.4,151.7L188.3,149.7L188.7,148.9L189.3,147.8L190.2,145.8L192.2,141.8L192.7,140.9L193.2,139.8L194.3,137.8L198.3,129.8L198.7,128.9L199.2,127.8L200.2,125.8L200.7,124.7L201.1,123.8L202,121.8L202.7,120.5L203,119.8L204,117.8L204.6,116.4L207.9,109.8L208.6,108.3L208.9,107.8L209.9,105.8L210.6,104.3L210.9,103.8L211.8,101.8L212.8,99.8L213.7,97.8L214.7,95.8L216.5,91.8L216.6,91.6L217.4,89.9L218.6,86.9L219.1,85.9L219.9,83.9L220.6,82L220.7,81.9L221.4,79.9L222.2,77.9L222.6,76.8L222.9,75.9L223.7,73.9L224.4,71.9L224.6,71.4L225.1,69.9L226.5,65.9L226.6,65.7L227.2,63.9L229.3,57.9L229.9,55.9L230.6,54L230.6,53.9L231.3,51.9L231.9,49.9L232.6,48L232.6,47.9L233.3,45.9L233.9,43.9L234.6,42L234.6,41.9L235.2,39.9L235.9,37.9L236.5,35.9L236.6,35.8L237.2,34L238.4,30L238.6,29.6L239.1,28L240.3,24L240.6,23.2L240.9,22L242.1,18L242.6,16.6L242.7,16L244.5,10L244.6,9.9L245.1,8L245.7,6Z"/>
<path fill="#00f9e2" stroke="#00f9e2" d="M259.5,6L258.9,8L258.5,9.3L258.3,10L257.1,14L256.5,15.8L256.5,16L255.8,18L255.2,20L254.5,22L253.9,24L251.8,30L251.2,32L250.5,33.7L250.4,34L249.7,35.9L249,37.9L248.5,39.2L248.3,39.9L247.5,41.9L246.8,43.9L246.5,44.6L246.1,45.9L245.3,47.9L244.6,49.8L244.5,49.9L242.9,53.9L242.6,54.6L242,55.9L241.2,57.9L240.6,59.3L240.3,59.9L239.4,61.9L238.6,63.8L238.5,63.9L236.7,67.9L236.6,68.1L235.8,69.9L234.8,71.9L234.6,72.4L233.9,73.9L233,75.9L232.6,76.8L232.1,77.9L231.2,79.9L230.6,81.1L230.3,81.9L229.4,83.9L228.6,85.6L228.5,85.9L226.7,89.9L226.6,90.2L225.8,91.8L224.9,93.8L224.6,94.5L224,95.8L223,97.8L222.6,98.8L221.1,101.8L220.6,103L219.2,105.8L218.6,107.1L218.3,107.8L216.3,111.8L215.4,113.8L214.4,115.8L213.5,117.8L212.5,119.8L210.7,123.8L210.6,123.8L208.8,127.8L208.6,128.2L207.9,129.8L207,131.8L206.6,132.4L206,133.8L204.6,136.6L204.1,137.8L203.1,139.8L202.7,140.7L202.1,141.8L201.2,143.8L200.7,144.9L200.2,145.8L199.3,147.8L198.7,149.2L198.4,149.7L197.5,151.7L196.7,153.7L196.7,153.8L195.9,155.7L195.1,157.7L194.7,158.9L194.4,159.7L193,163.7L192.7,164.9L192.4,165.7L190.9,171.7L190.7,172.7L190.4,173.7L189.2,179.7L188.9,181.7L188.7,182.6L188.5,183.7L188.1,185.7L187.8,187.7L187.4,189.7L187.1,191.7L185.1,201.7L184.7,203.4L184.6,203.7L184.2,205.7L183.7,207.6L183.1,209.6L182.6,211.6L180.8,217.6L180.7,217.9L180.1,219.6L178.9,223.6L178.7,224.1L178.2,225.6L177.5,227.6L176.9,229.6L176.7,230.1L176.2,231.6L175.5,233.6L174.9,235.6L174.7,236.1L174.2,237.6L173,241.6L172.7,242.4L172.4,243.6L171.2,247.6L170.7,249.2L170.1,251.6L168.9,255.6L168.7,256.3L168.4,257.6L167.8,259.6L167.3,261.6L166.7,263.5L166.7,263.6L166.2,265.5L165.2,269.5L164.7,271.2L164.6,271.5L162.6,279.5L162.2,281.5L161.2,285.5L160.8,287.5L160.7,287.6L160.3,289.5L159.1,295.5L158.8,297.2L158.7,297.5L158.3,299.5L158,301.5L157.6,303.5L157.3,305.5L156.9,307.5L156.8,308.4L156.6,309.5L155,317.5L154.8,318.6L154.6,319.5L154.1,321.4L153.1,325.4L152.8,326.8L152.6,327.4L152.1,329.4L151.5,331.4L151,333.4L150.8,334.1L150.4,335.4L149.2,339.4L148.8,340.8L148.6,341.4L148,343.4L147.3,345.4L146.8,347L146.7,347.4L146,349.4L141,349.4L142.4,345.4L142.8,344.2L143,343.4L143.7,341.4L144.3,339.4L144.8,338L145,337.4L146.8,331.4L147.3,329.4L147.9,327.4L148.4,325.4L148.8,324L148.9,323.4L149.4,321.4L149.9,319.5L150.3,317.5L150.8,315.5L151.6,311.5L151.9,309.5L152.7,305.5L152.8,304.9L153,303.5L153.4,301.5L153.7,299.5L154.5,295.5L154.8,294.1L154.9,293.5L155.7,289.5L156.2,287.5L156.6,285.5L156.8,284.9L157.1,283.5L157.5,281.5L158.5,277.5L158.8,276.5L159,275.5L160.5,269.5L160.7,268.5L161,267.5L162,263.5L162.5,261.6L162.7,260.8L163.1,259.6L164.1,255.6L164.7,253.6L164.7,253.3L165.2,251.6L165.8,249.6L166.3,247.6L166.7,246.1L166.9,245.6L167.5,243.6L168,241.6L168.6,239.6L168.7,239.3L169.3,237.6L170.5,233.6L170.7,233L171.2,231.6L171.9,229.6L172.5,227.6L172.7,226.9L173.2,225.6L173.8,223.6L174.5,221.6L174.7,220.8L175.1,219.6L176.3,215.6L176.7,214.3L176.9,213.6L177.5,211.6L178.5,207.6L178.7,207L179,205.7L180,201.7L180.4,199.7L180.7,197.9L180.8,197.7L181.1,195.7L181.9,191.7L182.2,189.7L182.6,187.7L182.7,186.9L182.9,185.7L183.3,183.7L183.6,181.7L184.4,177.7L184.7,176L184.8,175.7L185.6,171.7L186.6,167.7L186.7,167.4L187.2,165.7L187.7,163.7L188.4,161.7L188.7,160.9L189.1,159.7L191.5,153.7L192.4,151.7L192.7,151.1L193.3,149.7L194.2,147.8L195.2,145.8L196.1,143.8L196.7,142.7L197.1,141.8L202.7,130.6L203,129.8L204,127.8L204.6,126.4L204.9,125.8L205.8,123.8L206.6,122.1L206.8,121.8L207.7,119.8L209.7,115.8L210.6,113.9L210.7,113.8L211.7,111.8L212.6,109.9L212.6,109.8L216.6,101.8L217.5,99.8L218.6,97.6L219.4,95.8L220.4,93.8L220.6,93.3L221.3,91.8L222.2,89.9L222.6,88.9L223.1,87.9L223.9,85.9L224.6,84.2L224.8,83.9L226.4,79.9L226.6,79.5L227.3,77.9L228.1,75.9L228.6,74.6L228.9,73.9L230.5,69.9L230.6,69.7L231.3,67.9L232.1,65.9L232.6,64.7L232.9,63.9L233.7,61.9L234.4,59.9L234.6,59.6L235.2,57.9L236,55.9L236.6,54.3L236.7,53.9L237.4,51.9L238.2,49.9L238.6,48.8L238.9,47.9L240.3,43.9L240.6,43.1L241,41.9L242.4,37.9L242.6,37.3L243,35.9L243.7,34L244.4,32L244.6,31.4L245,30L245.7,28L246.3,26L246.5,25.3L247,24L248.5,19L248.9,18L250.1,14L250.5,12.4L250.7,12L251.3,10L251.8,8L252.4,6Z"/>
<path fill="#00f5cc" stroke="#00f5cc" d="M266.8,6L266.5,6.9L266.2,8L265,12L264.5,13.4L264.3,14L263.7,16L263,18L262.5,19.6L262.4,20L261,24L260.5,25.3L260.3,26L259.6,28L258.8,30L258.5,30.8L258.1,32L257.3,34L256.6,35.9L256.5,36.1L255.8,37.9L255,39.9L254.5,41.2L254.2,41.9L252.6,45.9L252.5,46.1L251.8,47.9L250.9,49.9L250.5,50.7L250,51.9L249.1,53.9L248.5,55L248.1,55.9L247.1,57.9L246.5,59L246.1,59.9L244.6,62.9L244,63.9L242.6,66.7L241.9,67.9L240.6,70.5L239.8,71.9L238.6,74.3L237.7,75.9L236.7,77.9L236.6,78.2L235.7,79.9L234.7,81.9L234.6,82.2L233.8,83.9L232.9,85.9L232.6,86.5L232,87.9L231.1,89.9L230.6,91L230.2,91.8L229.3,93.8L228.6,95.3L228.4,95.8L227.4,97.8L226.6,99.7L226.5,99.8L224.7,103.8L223.7,105.8L222.8,107.8L222.6,108.2L221.9,109.8L220.9,111.8L220.6,112.5L220,113.8L219.1,115.8L218.6,116.9L218.2,117.8L217.3,119.8L216.6,121.3L216.4,121.8L215.5,123.8L214.6,125.7L214.6,125.8L212.8,129.8L212.6,130.2L211.9,131.8L211,133.8L210.6,134.5L210,135.8L209.1,137.8L208.6,138.8L208.2,139.8L207.3,141.8L206.6,143.1L206.3,143.8L205.4,145.8L204.6,147.5L204.6,147.8L203.7,149.7L202.8,151.7L202.7,152.2L202,153.7L201.2,155.7L200.7,157.3L200.5,157.7L199.1,161.7L198.7,163.1L198.4,163.7L197.9,165.7L197.3,167.7L196.8,169.7L196.7,170.3L196.3,171.7L195.9,173.7L195.4,175.7L195,177.7L194.7,179.5L194.6,179.7L194.2,181.7L193.9,183.7L193.1,187.7L192.8,189.7L190.8,199.7L190.7,200.3L190.4,201.7L189.4,205.7L188.9,207.6L188.7,208.5L188.4,209.6L187.2,213.6L186.7,215.4L186.6,215.6L185.4,219.6L184.7,221.6L184.7,221.7L184.1,223.6L182.7,227.6L182.7,227.7L182,229.6L181.4,231.6L180,235.6L179.4,237.6L178.7,239.6L178.1,241.6L177.4,243.6L176.8,245.6L176.7,245.9L176.2,247.6L174.4,253.6L173.9,255.6L173.3,257.6L172.7,259.5L172.7,259.6L172.2,261.6L171.6,263.5L171,265.5L170,269.5L169.4,271.5L168.9,273.5L168.7,274.2L168.4,275.5L166.9,281.5L166.7,282.2L166.4,283.5L165.9,285.5L165.5,287.5L164.7,290.7L164.6,291.5L164.1,293.5L163.7,295.5L163.4,297.5L163,299.5L162.7,300.8L162.6,301.5L162.3,303.5L161.9,305.5L161.6,307.5L160.8,311.5L160.7,311.9L160.4,313.5L160.1,315.5L159.6,317.5L159.2,319.5L158.8,321.4L158.8,321.5L158.3,323.4L156.8,329.4L156.8,329.6L156.3,331.4L155.7,333.4L155.2,335.4L154.8,336.9L154.6,337.4L154.1,339.4L152.9,343.4L152.8,343.8L152.3,345.4L151.7,347.4L151,349.4L146,349.4L146.7,347.4L146.8,347L147.3,345.4L148,343.4L148.6,341.4L148.8,340.8L149.2,339.4L150.4,335.4L150.8,334.1L151,333.4L151.5,331.4L152.1,329.4L152.6,327.4L152.8,326.8L153.1,325.4L154.1,321.4L154.6,319.5L154.8,318.6L155,317.5L156.6,309.5L156.8,308.4L156.9,307.5L157.3,305.5L157.6,303.5L158,301.5L158.3,299.5L158.7,297.5L158.8,297.2L159.1,295.5L160.3,289.5L160.7,287.6L160.8,287.5L161.2,285.5L162.2,281.5L162.6,279.5L164.6,271.5L164.7,271.2L165.2,269.5L166.2,265.5L166.7,263.6L166.7,263.5L167.3,261.6L167.8,259.6L168.4,257.6L168.7,256.3L168.9,255.6L170.1,251.6L170.7,249.2L171.2,247.6L172.4,243.6L172.7,242.4L173,241.6L174.2,237.6L174.7,236.1L174.9,235.6L175.5,233.6L176.2,231.6L176.7,230.1L176.9,229.6L177.5,227.6L178.2,225.6L178.7,224.1L178.9,223.6L180.1,219.6L180.7,217.9L180.8,217.6L182.6,211.6L183.1,209.6L183.7,207.6L184.2,205.7L184.6,203.7L184.7,203.4L185.1,201.7L187.1,191.7L187.4,189.7L187.8,187.7L188.1,185.7L188.5,183.7L188.7,182.6L188.9,181.7L189.2,179.7L190.4,173.7L190.7,172.7L190.9,171.7L192.4,165.7L192.7,164.9L193,163.7L194.4,159.7L194.7,158.9L195.1,157.7L195.9,155.7L196.7,153.8L196.7,153.7L197.5,151.7L198.4,149.7L198.7,149.2L199.3,147.8L200.2,145.8L200.7,144.9L201.2,143.8L202.1,141.8L202.7,140.7L203.1,139.8L204.1,137.8L204.6,136.6L206,133.8L206.6,132.4L207,131.8L207.9,129.8L208.6,128.2L208.8,127.8L210.6,123.8L210.7,123.8L212.5,119.8L213.5,117.8L214.4,115.8L215.4,113.8L216.3,111.8L218.3,107.8L218.6,107.1L219.2,105.8L220.6,103L221.1,101.8L222.6,98.8L223,97.8L224,95.8L224.6,94.5L224.9,93.8L225.8,91.8L226.6,90.2L226.7,89.9L228.5,85.9L228.6,85.6L229.4,83.9L230.3,81.9L230.6,81.1L231.2,79.9L232.1,77.9L232.6,76.8L233,75.9L233.9,73.9L234.6,72.4L234.8,71.9L235.8,69.9L236.6,68.1L236.7,67.9L238.5,63.9L238.6,63.8L239.4,61.9L240.3,59.9L240.6,59.3L241.2,57.9L242,55.9L242.6,54.6L242.9,53.9L244.5,49.9L244.6,49.8L245.3,47.9L246.1,45.9L246.5,44.6L246.8,43.9L247.5,41.9L248.3,39.9L248.5,39.2L249,37.9L249.7,35.9L250.4,34L250.5,33.7L251.2,32L251.8,30L253.9,24L254.5,22L255.2,20L255.8,18L256.5,16L256.5,15.8L257.1,14L258.3,10L258.5,9.3L258.9,8L259.5,6Z"/>
<path fill="#00f2b6" stroke="#00f2b6" d="M266.5,6.9L266.8,6L274.2,6L273,10L272.5,11.5L272.3,12L271.7,14L271,16L270.5,17.5L270.3,18L268.9,22L268.5,23.1L268.2,24L267.4,26L266.7,28L266.5,28.4L265.9,30L264.3,34L263.5,35.9L262.7,37.9L262.5,38.3L261.8,39.9L261,41.9L260.5,42.9L260.1,43.9L259.2,45.9L258.5,47.4L258.3,47.9L255.3,53.9L254.5,55.2L254.2,55.9L253,57.9L252.5,58.8L251.9,59.9L250.7,61.9L250.5,62.2L249.5,63.9L248.5,65.5L248.3,65.9L247.1,67.9L246.5,68.8L245.9,69.9L244.7,71.9L244.6,72.1L243.5,73.9L242.6,75.5L242.4,75.9L241.2,77.9L240.6,79.1L240.1,79.9L237.1,85.9L236.6,87.1L236.2,87.9L235.3,89.9L234.6,91.5L234.4,91.8L232.6,95.8L232.6,95.9L231.7,97.8L230.8,99.8L230.6,100.3L229.9,101.8L229,103.8L228.6,104.8L228.1,105.8L227.3,107.8L226.6,109.3L226.4,109.8L224.6,113.8L224.6,113.9L223.7,115.8L222.9,117.8L222.6,118.4L222,119.8L221.2,121.8L220.6,123.1L220.3,123.8L219.4,125.8L218.6,127.7L218.6,127.8L217.7,129.8L216.9,131.8L216.6,132.3L216,133.8L215.1,135.8L214.6,136.8L214.2,137.8L213.3,139.8L212.6,141.3L211.6,143.8L210.7,145.8L210.6,145.9L209.9,147.8L209,149.7L207.4,153.7L206.7,155.7L206.6,155.8L205.9,157.7L205.2,159.7L204.6,161.5L204.6,161.7L202.8,167.7L202.7,168.4L202.3,169.7L201.8,171.7L201.4,173.7L200.9,175.7L200.7,177L200.5,177.7L198.9,185.7L198.7,187.2L197,195.7L196.7,197.3L196.6,197.7L196.2,199.7L194.7,205.7L194.7,205.9L194.2,207.6L193.7,209.6L193.1,211.6L192.7,213L192.5,213.6L191.3,217.6L190.7,219.4L190.6,219.6L190,221.6L189.3,223.6L188.7,225.5L188.6,225.6L188,227.6L187.3,229.6L186.7,231.4L186.6,231.6L185.2,235.6L184.7,237.2L184.6,237.6L183.2,241.6L182.7,243.2L182.6,243.6L181.9,245.6L178.9,255.6L178.7,256.1L178.3,257.6L177.1,261.6L176.7,262.9L176.5,263.5L176,265.5L174.8,269.5L174.7,270L174.3,271.5L173.8,273.5L173.2,275.5L170.2,287.5L169.8,289.5L169.3,291.5L168.9,293.5L168.7,294.3L168.5,295.5L167.3,301.5L167,303.5L166.7,304.7L166.6,305.5L166.2,307.5L165.9,309.5L165.1,313.5L164.7,315.3L164.7,315.5L163.9,319.5L163.4,321.4L163,323.4L162.7,324.4L162.5,325.4L161,331.4L160.7,332.5L160.5,333.4L159.5,337.4L158.9,339.4L158.8,340L158.4,341.4L157.2,345.4L156.8,347.1L156.7,347.4L156.1,349.4L151,349.4L151.7,347.4L152.3,345.4L152.8,343.8L152.9,343.4L154.1,339.4L154.6,337.4L154.8,336.9L155.2,335.4L155.7,333.4L156.3,331.4L156.8,329.6L156.8,329.4L158.3,323.4L158.8,321.5L158.8,321.4L159.2,319.5L159.6,317.5L160.1,315.5L160.4,313.5L160.7,311.9L160.8,311.5L161.6,307.5L161.9,305.5L162.3,303.5L162.6,301.5L162.7,300.8L163,299.5L163.4,297.5L163.7,295.5L164.1,293.5L164.6,291.5L164.7,290.7L165.5,287.5L165.9,285.5L166.4,283.5L166.7,282.2L166.9,281.5L168.4,275.5L168.7,274.2L168.9,273.5L169.4,271.5L170,269.5L171,265.5L171.6,263.5L172.2,261.6L172.7,259.6L172.7,259.5L173.3,257.6L173.9,255.6L174.4,253.6L176.2,247.6L176.7,245.9L176.8,245.6L177.4,243.6L178.1,241.6L178.7,239.6L179.4,237.6L180,235.6L181.4,231.6L182,229.6L182.7,227.7L182.7,227.6L184.1,223.6L184.7,221.7L184.7,221.6L185.4,219.6L186.6,215.6L186.7,215.4L187.2,213.6L188.4,209.6L188.7,208.5L188.9,207.6L189.4,205.7L190.4,201.7L190.7,200.3L190.8,199.7L192.8,189.7L193.1,187.7L193.9,183.7L194.2,181.7L194.6,179.7L194.7,179.5L195,177.7L195.4,175.7L195.9,173.7L196.3,171.7L196.7,170.3L196.8,169.7L197.3,167.7L197.9,165.7L198.4,163.7L198.7,163.1L199.1,161.7L200.5,157.7L200.7,157.3L201.2,155.7L202,153.7L202.7,152.2L202.8,151.7L203.7,149.7L204.6,147.8L204.6,147.5L205.4,145.8L206.3,143.8L206.6,143.1L207.3,141.8L208.2,139.8L208.6,138.8L209.1,137.8L210,135.8L210.6,134.5L211,133.8L211.9,131.8L212.6,130.2L212.8,129.8L214.6,125.8L214.6,125.7L215.5,123.8L216.4,121.8L216.6,121.3L217.3,119.8L218.2,117.8L218.6,116.9L219.1,115.8L220,113.8L220.6,112.5L220.9,111.8L221.9,109.8L222.6,108.2L222.8,107.8L223.7,105.8L224.7,103.8L226.5,99.8L226.6,99.7L227.4,97.8L228.4,95.8L228.6,95.3L229.3,93.8L230.2,91.8L230.6,91L231.1,89.9L232,87.9L232.6,86.5L232.9,85.9L233.8,83.9L234.6,82.2L234.7,81.9L235.7,79.9L236.6,78.2L236.7,77.9L237.7,75.9L238.6,74.3L239.8,71.9L240.6,70.5L241.9,67.9L242.6,66.7L244,63.9L244.6,62.9L246.1,59.9L246.5,59L247.1,57.9L248.1,55.9L248.5,55L249.1,53.9L250,51.9L250.5,50.7L250.9,49.9L251.8,47.9L252.5,46.1L252.6,45.9L254.2,41.9L254.5,41.2L255,39.9L255.8,37.9L256.5,36.1L256.6,35.9L257.3,34L258.1,32L258.5,30.8L258.8,30L259.6,28L260.3,26L260.5,25.3L261,24L262.4,20L262.5,19.6L263,18L263.7,16L264.3,14L264.5,13.4L265,12L266.2,8Z"/>
<path fill="#00f0a1" stroke="#00f0a1" d="M281.5,6L280.9,8L280.5,9.5L280.3,10L279.7,12L279,14L278.5,15.6L278.3,16L276.9,20L276.5,21.1L276.2,22L274.6,26L274.5,26.2L273.8,28L273,30L272.5,31.1L272.1,32L271.3,34L270.5,35.7L270.4,35.9L268.6,39.9L268.5,40.1L267.7,41.9L266.7,43.9L266.5,44.4L265.8,45.9L264.5,48.5L263.7,49.9L262.6,51.9L262.5,52.1L261.4,53.9L260.2,55.9L258.9,57.9L258.5,58.5L257.6,59.9L256.5,61.5L256.3,61.9L254.9,63.9L254.5,64.5L253.6,65.9L252.5,67.4L252.2,67.9L250.8,69.9L250.5,70.3L249.5,71.9L248.5,73.3L248.2,73.9L246.9,75.9L246.5,76.4L245.7,77.9L244.6,79.8L244.5,79.9L243.4,81.9L242.6,83.4L242.3,83.9L241.3,85.9L240.6,87.5L240.4,87.9L239.5,89.9L238.6,91.8L236.8,95.8L236.6,96.3L235.9,97.8L235,99.8L234.6,100.9L234.2,101.8L233.3,103.8L232.6,105.6L232.5,105.8L231.6,107.8L230.8,109.8L230.6,110.4L230,111.8L229.2,113.8L228.6,115.2L228.3,115.8L226.7,119.8L226.6,120.1L225.9,121.8L225.1,123.8L224.6,125L224.3,125.8L223.5,127.8L222.6,129.8L221,133.8L220.6,134.6L220.1,135.8L219.3,137.8L218.6,139.3L216.8,143.8L216.6,144.2L216,145.8L215.2,147.8L214.6,149.1L214.4,149.7L213.6,151.7L212.9,153.7L212.6,154.4L212.1,155.7L210.7,159.7L210.6,160.1L210.1,161.7L208.6,166.7L208.4,167.7L207.8,169.7L207.3,171.7L206.9,173.7L206.6,174.7L205.6,179.7L205.1,181.7L204.6,184.2L204.4,185.7L202.7,194.2L202.3,195.7L201.5,199.7L201,201.7L200.7,203L200.5,203.7L200,205.7L199.4,207.6L198.7,210.4L198.3,211.6L197.1,215.6L196.7,217L196.5,217.6L195.8,219.6L195.2,221.6L194.7,223.2L194.5,223.6L193.8,225.6L193.2,227.6L192.7,229.1L192.5,229.6L191.1,233.6L190.7,234.9L190.4,235.6L189.7,237.6L189.1,239.6L188.7,240.7L188.4,241.6L187.7,243.6L187.1,245.6L186.7,246.7L186.4,247.6L185.8,249.6L185.1,251.6L184.7,253L184.5,253.6L183.3,257.6L182.7,259.5L182.7,259.6L182.1,261.6L181.5,263.5L180.9,265.5L180.4,267.5L179.2,271.5L178.7,273.4L178.7,273.5L178.1,275.5L177.1,279.5L176.7,281L176.6,281.5L174.1,291.5L172.9,297.5L172.7,298.2L172.5,299.5L170.5,309.5L170.2,311.5L169,317.5L168.7,318.6L168.5,319.5L168.1,321.4L167.7,323.4L167.2,325.4L166.8,327.4L166.7,327.5L166.3,329.4L162.8,343.4L162.7,343.6L162.3,345.4L161.7,347.4L161.2,349.4L156.1,349.4L156.7,347.4L156.8,347.1L157.2,345.4L158.4,341.4L158.8,340L158.9,339.4L159.5,337.4L160.5,333.4L160.7,332.5L161,331.4L162.5,325.4L162.7,324.4L163,323.4L163.4,321.4L163.9,319.5L164.7,315.5L164.7,315.3L165.1,313.5L165.9,309.5L166.2,307.5L166.6,305.5L166.7,304.7L167,303.5L167.3,301.5L168.5,295.5L168.7,294.3L168.9,293.5L169.3,291.5L169.8,289.5L170.2,287.5L173.2,275.5L173.8,273.5L174.3,271.5L174.7,270L174.8,269.5L176,265.5L176.5,263.5L176.7,262.9L177.1,261.6L178.3,257.6L178.7,256.1L178.9,255.6L181.9,245.6L182.6,243.6L182.7,243.2L183.2,241.6L184.6,237.6L184.7,237.2L185.2,235.6L186.6,231.6L186.7,231.4L187.3,229.6L188,227.6L188.6,225.6L188.7,225.5L189.3,223.6L190,221.6L190.6,219.6L190.7,219.4L191.3,217.6L192.5,213.6L192.7,213L193.1,211.6L193.7,209.6L194.2,207.6L194.7,205.9L194.7,205.7L196.2,199.7L196.6,197.7L196.7,197.3L197,195.7L198.7,187.2L198.9,185.7L200.5,177.7L200.7,177L200.9,175.7L201.4,173.7L201.8,171.7L202.3,169.7L202.7,168.4L202.8,167.7L204.6,161.7L204.6,161.5L205.2,159.7L205.9,157.7L206.6,155.8L206.7,155.7L207.4,153.7L209,149.7L209.9,147.8L210.6,145.9L210.7,145.8L211.6,143.8L212.6,141.3L213.3,139.8L214.2,137.8L214.6,136.8L215.1,135.8L216,133.8L216.6,132.3L216.9,131.8L217.7,129.8L218.6,127.8L218.6,127.7L219.4,125.8L220.3,123.8L220.6,123.1L221.2,121.8L222,119.8L222.6,118.4L222.9,117.8L223.7,115.8L224.6,113.9L224.6,113.8L226.4,109.8L226.6,109.3L227.3,107.8L228.1,105.8L228.6,104.8L229,103.8L229.9,101.8L230.6,100.3L230.8,99.8L231.7,97.8L232.6,95.9L232.6,95.8L234.4,91.8L234.6,91.5L235.3,89.9L236.2,87.9L236.6,87.1L237.1,85.9L240.1,79.9L240.6,79.1L241.2,77.9L242.4,75.9L242.6,75.5L243.5,73.9L244.6,72.1L244.7,71.9L245.9,69.9L246.5,68.8L247.1,67.9L248.3,65.9L248.5,65.5L249.5,63.9L250.5,62.2L250.7,61.9L251.9,59.9L252.5,58.8L253,57.9L254.2,55.9L254.5,55.2L255.3,53.9L258.3,47.9L258.5,47.4L259.2,45.9L260.1,43.9L260.5,42.9L261,41.9L261.8,39.9L262.5,38.3L262.7,37.9L263.5,35.9L264.3,34L265.9,30L266.5,28.4L266.7,28L267.4,26L268.2,24L268.5,23.1L268.9,22L270.3,18L270.5,17.5L271,16L271.7,14L272.3,12L272.5,11.5L273,10L274.2,6Z"/>
<path fill="#00ef8e" stroke="#00ef8e" d="M288.7,6L288.5,7L288.2,8L287.5,10L286.9,12L286.5,13.3L286.2,14L284.8,18L284.5,18.9L284,20L283.3,22L282.5,23.9L282.5,24L281.6,26L280.8,28L280.5,28.7L279.9,30L279,32L278.5,33.1L278.1,34L277.2,35.9L276.5,37.4L276.2,37.9L275.2,39.9L274.5,41.5L272.3,45.9L271.2,47.9L270.5,49.1L270,49.9L268.5,52.4L266.5,55.4L266.1,55.9L264.7,57.9L264.5,58.2L263.3,59.9L262.5,60.9L261.8,61.9L260.5,63.6L260.3,63.9L258.7,65.9L258.5,66.2L257.2,67.9L256.5,68.8L255.7,69.9L254.2,71.9L252.8,73.9L252.5,74.3L251.4,75.9L250.5,77.1L250.1,77.9L248.8,79.9L248.5,80.3L247.6,81.9L246.5,83.7L246.5,83.9L245.4,85.9L244.6,87.7L244.5,87.9L243.6,89.9L242.7,91.8L242.6,92.1L241.8,93.8L240.9,95.8L240.6,96.7L240.1,97.8L239.2,99.8L238.6,101.4L238.4,101.8L236.8,105.8L236.6,106.4L236,107.8L235.2,109.8L234.6,111.4L234.4,111.8L233.7,113.8L232.9,115.8L232.6,116.6L232.1,117.8L231.3,119.8L230.6,121.8L229,125.8L228.6,126.9L228.3,127.8L226.7,131.8L226.6,132L225.9,133.8L225.1,135.8L224.6,137L224.3,137.8L222.7,141.8L222.6,142L221.9,143.8L221.2,145.8L220.6,147.2L220.4,147.8L219.7,149.7L218.9,151.7L218.6,152.6L218.2,153.7L216.8,157.7L216.6,158.4L216.2,159.7L215.5,161.7L214.9,163.7L214.6,164.8L214.3,165.7L212.8,171.7L212.6,172.3L212.3,173.7L211.8,175.7L211.4,177.7L210.9,179.7L210.6,181L210.5,181.7L210.1,183.7L209.6,185.7L208.8,189.7L208.6,190.5L208.4,191.7L208,193.7L207.5,195.7L207.1,197.7L206.6,199.5L206.6,199.7L205.1,205.7L204.6,207.3L204.5,207.6L204,209.6L202.8,213.6L202.7,214L202.2,215.6L201.5,217.6L200.9,219.6L200.7,220.3L200.2,221.6L199.6,223.6L198.9,225.6L198.7,226.3L198.2,227.6L196.8,231.6L196.7,232.1L196.2,233.6L194.8,237.6L194.7,237.9L194.1,239.6L193.4,241.6L192.8,243.6L192.7,243.8L192.1,245.6L191.4,247.6L190.8,249.6L190.7,249.9L190.2,251.6L189.5,253.6L188.9,255.6L188.7,256.3L188.3,257.6L187.1,261.6L186.7,262.8L186.5,263.5L184.7,269.5L184.7,269.7L184.2,271.5L183.6,273.5L183.1,275.5L182.7,277L182.5,277.5L181,283.5L180.7,284.6L180.5,285.5L179,291.5L178.7,292.9L178.6,293.5L178.1,295.5L176.9,301.5L176.7,302.3L176.5,303.5L174.9,311.5L174.7,312.4L174.5,313.5L173.3,319.5L172.9,321.4L172.7,322.1L172.4,323.4L172,325.4L171.5,327.4L171.1,329.4L170.7,331.1L170.6,331.4L170.2,333.4L169.7,335.4L169.3,337.4L168.8,339.4L168.7,339.7L168.3,341.4L167.8,343.4L167.4,345.4L166.9,347.4L166.7,348L166.4,349.4L161.2,349.4L161.7,347.4L162.3,345.4L162.7,343.6L162.8,343.4L166.3,329.4L166.7,327.5L166.8,327.4L167.2,325.4L167.7,323.4L168.1,321.4L168.5,319.5L168.7,318.6L169,317.5L170.2,311.5L170.5,309.5L172.5,299.5L172.7,298.2L172.9,297.5L174.1,291.5L176.6,281.5L176.7,281L177.1,279.5L178.1,275.5L178.7,273.5L178.7,273.4L179.2,271.5L180.4,267.5L180.9,265.5L181.5,263.5L182.1,261.6L182.7,259.6L182.7,259.5L183.3,257.6L184.5,253.6L184.7,253L185.1,251.6L185.8,249.6L186.4,247.6L186.7,246.7L187.1,245.6L187.7,243.6L188.4,241.6L188.7,240.7L189.1,239.6L189.7,237.6L190.4,235.6L190.7,234.9L191.1,233.6L192.5,229.6L192.7,229.1L193.2,227.6L193.8,225.6L194.5,223.6L194.7,223.2L195.2,221.6L195.8,219.6L196.5,217.6L196.7,217L197.1,215.6L198.3,211.6L198.7,210.4L199.4,207.6L200,205.7L200.5,203.7L200.7,203L201,201.7L201.5,199.7L202.3,195.7L202.7,194.2L204.4,185.7L204.6,184.2L205.1,181.7L205.6,179.7L206.6,174.7L206.9,173.7L207.3,171.7L207.8,169.7L208.4,167.7L208.6,166.7L210.1,161.7L210.6,160.1L210.7,159.7L212.1,155.7L212.6,154.4L212.9,153.7L213.6,151.7L214.4,149.7L214.6,149.1L215.2,147.8L216,145.8L216.6,144.2L216.8,143.8L218.6,139.3L219.3,137.8L220.1,135.8L220.6,134.6L221,133.8L222.6,129.8L223.5,127.8L224.3,125.8L224.6,125L225.1,123.8L225.9,121.8L226.6,120.1L226.7,119.8L228.3,115.8L228.6,115.2L229.2,113.8L230,111.8L230.6,110.4L230.8,109.8L231.6,107.8L232.5,105.8L232.6,105.6L233.3,103.8L234.2,101.8L234.6,100.9L235,99.8L235.9,97.8L236.6,96.3L236.8,95.8L238.6,91.8L239.5,89.9L240.4,87.9L240.6,87.5L241.3,85.9L242.3,83.9L242.6,83.4L243.4,81.9L244.5,79.9L244.6,79.8L245.7,77.9L246.5,76.4L246.9,75.9L248.2,73.9L248.5,73.3L249.5,71.9L250.5,70.3L250.8,69.9L252.2,67.9L252.5,67.4L253.6,65.9L254.5,64.5L254.9,63.9L256.3,61.9L256.5,61.5L257.6,59.9L258.5,58.5L258.9,57.9L260.2,55.9L261.4,53.9L262.5,52.1L262.6,51.9L263.7,49.9L264.5,48.5L265.8,45.9L266.5,44.4L266.7,43.9L267.7,41.9L268.5,40.1L268.6,39.9L270.4,35.9L270.5,35.7L271.3,34L272.1,32L272.5,31.1L273,30L273.8,28L274.5,26.2L274.6,26L276.2,22L276.5,21.1L276.9,20L278.3,16L278.5,15.6L279,14L279.7,12L280.3,10L280.5,9.5L280.9,8L281.5,6Z"/>
<path fill="#00ee7b" stroke="#00ee7b" d="M288.5,7L288.7,6L295.7,6L294.5,10L294.4,10.2L293.9,12L292.5,16L292.4,16.1L291.7,18L290.9,20L290.4,21.2L290.1,22L289.3,24L288.5,25.9L288.4,26L287.6,28L286.6,30L286.5,30.4L285.7,32L284.8,34L284.5,34.5L281.8,39.9L280.7,41.9L280.5,42.4L279.7,43.9L278.6,45.9L278.5,46.2L277.5,47.9L276.5,49.5L276.2,49.9L274.9,51.9L274.5,52.5L273.5,53.9L272.5,55.2L272,55.9L270.5,57.8L270.4,57.9L268.8,59.9L268.5,60.3L267.2,61.9L266.5,62.7L264.5,65.1L263.9,65.9L262.5,67.5L262.2,67.9L260.6,69.9L260.5,70L259,71.9L258.5,72.4L257.4,73.9L256.5,75L255.9,75.9L254.5,77.7L254.4,77.9L253.1,79.9L252.5,80.7L251.8,81.9L250.6,83.9L250.5,84L249.6,85.9L248.6,87.9L248.5,88L247.7,89.9L246.8,91.8L246.5,92.3L245.9,93.8L245,95.8L244.6,97L244.2,97.8L242.6,101.8L242.6,101.9L241.8,103.8L241,105.8L240.6,107.1L240.3,107.8L239.6,109.8L238.8,111.8L238.6,112.5L238.1,113.8L236.7,117.8L236.6,118L235.9,119.8L235.2,121.8L234.6,123.5L234.5,123.8L233.7,125.8L233,127.8L232.2,129.8L231.5,131.8L230.7,133.8L230.6,134.1L230,135.8L229.2,137.8L228.6,139.4L228.5,139.8L227.7,141.8L227,143.8L226.2,145.8L225.5,147.8L224.8,149.7L224.6,150.4L224.1,151.7L223.4,153.7L222.8,155.7L222.6,156.2L222.1,157.7L221.4,159.7L220.8,161.7L220.6,162.5L220.2,163.7L219.6,165.7L219.1,167.7L218.6,169.5L218.5,169.7L217,175.7L216.6,177.5L216.6,177.7L216.1,179.7L215.7,181.7L215.2,183.7L214.8,185.7L214.6,186.3L214.3,187.7L213.9,189.7L213.4,191.7L213,193.7L212.6,195.2L212.5,195.7L212,197.7L211.6,199.7L211,201.7L210,205.7L209.4,207.6L208.8,209.6L208.6,210.3L208.2,211.6L207,215.6L206.6,216.7L206.4,217.6L205,221.6L204.6,222.8L204.4,223.6L203,227.6L202.7,228.7L202.4,229.6L201,233.6L200.7,234.6L200.3,235.6L198.9,239.6L198.7,240.4L198.3,241.6L196.9,245.6L196.7,246.5L196.3,247.6L195.7,249.6L195,251.6L194.7,252.7L194.4,253.6L193.2,257.6L192.7,259.2L192.6,259.6L192,261.6L191.4,263.5L190.8,265.5L190.7,266L190.2,267.5L189.7,269.5L189.1,271.5L188.6,273.5L188,275.5L187,279.5L186.4,281.5L184.9,287.5L184.7,288.5L184.4,289.5L184,291.5L183,295.5L182.7,297.1L182.6,297.5L181.8,301.5L181.3,303.5L180.9,305.5L180.7,306.6L180.5,307.5L178.1,319.5L177.7,321.4L177.3,323.4L176.8,325.4L176.7,326.1L176.4,327.4L175.6,331.4L175.1,333.4L173.9,339.4L173.4,341.4L173,343.4L172.7,344.6L172.6,345.4L172.1,347.4L171.7,349.4L166.4,349.4L166.7,348L166.9,347.4L167.4,345.4L167.8,343.4L168.3,341.4L168.7,339.7L168.8,339.4L169.3,337.4L169.7,335.4L170.2,333.4L170.6,331.4L170.7,331.1L171.1,329.4L171.5,327.4L172,325.4L172.4,323.4L172.7,322.1L172.9,321.4L173.3,319.5L174.5,313.5L174.7,312.4L174.9,311.5L176.5,303.5L176.7,302.3L176.9,301.5L178.1,295.5L178.6,293.5L178.7,292.9L179,291.5L180.5,285.5L180.7,284.6L181,283.5L182.5,277.5L182.7,277L183.1,275.5L183.6,273.5L184.2,271.5L184.7,269.7L184.7,269.5L186.5,263.5L186.7,262.8L187.1,261.6L188.3,257.6L188.7,256.3L188.9,255.6L189.5,253.6L190.2,251.6L190.7,249.9L190.8,249.6L191.4,247.6L192.1,245.6L192.7,243.8L192.8,243.6L193.4,241.6L194.1,239.6L194.7,237.9L194.8,237.6L196.2,233.6L196.7,232.1L196.8,231.6L198.2,227.6L198.7,226.3L198.9,225.6L199.6,223.6L200.2,221.6L200.7,220.3L200.9,219.6L201.5,217.6L202.2,215.6L202.7,214L202.8,213.6L204,209.6L204.5,207.6L204.6,207.3L205.1,205.7L206.6,199.7L206.6,199.5L207.1,197.7L207.5,195.7L208,193.7L208.4,191.7L208.6,190.5L208.8,189.7L209.6,185.7L210.1,183.7L210.5,181.7L210.6,181L210.9,179.7L211.4,177.7L211.8,175.7L212.3,173.7L212.6,172.3L212.8,171.7L214.3,165.7L214.6,164.8L214.9,163.7L215.5,161.7L216.2,159.7L216.6,158.4L216.8,157.7L218.2,153.7L218.6,152.6L218.9,151.7L219.7,149.7L220.4,147.8L220.6,147.2L221.2,145.8L221.9,143.8L222.6,142L222.7,141.8L224.3,137.8L224.6,137L225.1,135.8L225.9,133.8L226.6,132L226.7,131.8L228.3,127.8L228.6,126.9L229,125.8L230.6,121.8L231.3,119.8L232.1,117.8L232.6,116.6L232.9,115.8L233.7,113.8L234.4,111.8L234.6,111.4L235.2,109.8L236,107.8L236.6,106.4L236.8,105.8L238.4,101.8L238.6,101.4L239.2,99.8L240.1,97.8L240.6,96.7L240.9,95.8L241.8,93.8L242.6,92.1L242.7,91.8L243.6,89.9L244.5,87.9L244.6,87.7L245.4,85.9L246.5,83.9L246.5,83.7L247.6,81.9L248.5,80.3L248.8,79.9L250.1,77.9L250.5,77.1L251.4,75.9L252.5,74.3L252.8,73.9L254.2,71.9L255.7,69.9L256.5,68.8L257.2,67.9L258.5,66.2L258.7,65.9L260.3,63.9L260.5,63.6L261.8,61.9L262.5,60.9L263.3,59.9L264.5,58.2L264.7,57.9L266.1,55.9L266.5,55.4L268.5,52.4L270,49.9L270.5,49.1L271.2,47.9L272.3,45.9L274.5,41.5L275.2,39.9L276.2,37.9L276.5,37.4L277.2,35.9L278.1,34L278.5,33.1L279,32L279.9,30L280.5,28.7L280.8,28L281.6,26L282.5,24L282.5,23.9L283.3,22L284,20L284.5,18.9L284.8,18L286.2,14L286.5,13.3L286.9,12L287.5,10L288.2,8Z"/>
<path fill="#00ee6a" stroke="#00ee6a" d="M302.3,6L300.5,12L300.4,12.2L299.8,14L299.1,16L298.4,17.8L298.4,18L297.6,20L296.7,22L296.4,22.7L295.9,24L295,26L294.4,27.2L294.1,28L292.4,31.4L292.2,32L291.2,34L290.4,35.4L290.2,35.9L289.1,37.9L288.5,39.2L288.1,39.9L287,41.9L286.5,42.9L285.9,43.9L284.8,45.9L284.5,46.5L283.6,47.9L282.5,49.6L282.3,49.9L280.9,51.9L279.3,53.9L278.5,55L277.7,55.9L276.5,57.4L276,57.9L274.5,59.7L274.3,59.9L272.6,61.9L272.5,62L270.8,63.9L270.5,64.2L269,65.9L268.5,66.4L267.2,67.9L266.5,68.6L265.4,69.9L264.5,70.9L263.7,71.9L262.5,73.2L262,73.9L260.5,75.7L260.3,75.9L258.8,77.9L258.5,78.2L257.3,79.9L256.5,81.1L256,81.9L254.8,83.9L254.5,84.3L252.7,87.9L252.5,88.2L251.8,89.9L250.9,91.8L250.5,92.6L250,93.8L249.1,95.8L247.5,99.8L246.8,101.8L246.5,102.4L246,103.8L244.6,107.8L244.6,107.9L243.9,109.8L243.2,111.8L242.6,113.6L242.5,113.8L241.1,117.8L240.6,119.4L240.4,119.8L239,123.8L238.6,125.1L238.3,125.8L236.9,129.8L236.6,130.6L236.2,131.8L235.4,133.8L234.7,135.8L234.6,136.2L234,137.8L233.3,139.8L232.6,141.7L232.6,141.8L231.2,145.8L230.6,147.5L230.5,147.8L229.8,149.7L229.1,151.7L228.6,153.4L228.5,153.7L227.8,155.7L227.2,157.7L226.6,159.6L226.5,159.7L224.7,165.7L224.6,166.2L224.2,167.7L223.6,169.7L223.1,171.7L222.6,173.6L222.6,173.7L219.6,185.7L219.2,187.7L217.7,193.7L217.3,195.7L216.8,197.7L216.6,198.2L216.2,199.7L215.2,203.7L214.6,205.7L214,207.6L212.8,211.6L212.6,212.3L212.2,213.6L211.6,215.6L210.9,217.6L210.6,218.5L210.3,219.6L208.9,223.6L208.6,224.5L208.3,225.6L206.9,229.6L206.6,230.4L206.2,231.6L205.5,233.6L204.9,235.6L204.6,236.3L204.2,237.6L203.5,239.6L202.9,241.6L202.7,242.3L202.2,243.6L200.7,248.6L200.3,249.6L199.1,253.6L198.7,255.1L198.5,255.6L197.3,259.6L196.8,261.6L196.7,261.9L196.2,263.5L195.6,265.5L195.1,267.5L194.7,269L194.5,269.5L194,271.5L193.4,273.5L192.9,275.5L192.7,276.5L192.4,277.5L188.9,291.5L188.7,292.6L188.5,293.5L188,295.5L187.6,297.5L187.1,299.5L186.7,301.5L186.7,301.6L186.3,303.5L185.1,309.5L184.7,311.2L184.6,311.5L183,319.5L182.7,321.1L182.6,321.4L181,329.4L180.7,331.1L180.6,331.4L179,339.4L178.7,341.1L178.7,341.4L177.1,349.4L171.7,349.4L172.1,347.4L172.6,345.4L172.7,344.6L173,343.4L173.4,341.4L173.9,339.4L175.1,333.4L175.6,331.4L176.4,327.4L176.7,326.1L176.8,325.4L177.3,323.4L177.7,321.4L178.1,319.5L180.5,307.5L180.7,306.6L180.9,305.5L181.3,303.5L181.8,301.5L182.6,297.5L182.7,297.1L183,295.5L184,291.5L184.4,289.5L184.7,288.5L184.9,287.5L186.4,281.5L187,279.5L188,275.5L188.6,273.5L189.1,271.5L189.7,269.5L190.2,267.5L190.7,266L190.8,265.5L191.4,263.5L192,261.6L192.6,259.6L192.7,259.2L193.2,257.6L194.4,253.6L194.7,252.7L195,251.6L195.7,249.6L196.3,247.6L196.7,246.5L196.9,245.6L198.3,241.6L198.7,240.4L198.9,239.6L200.3,235.6L200.7,234.6L201,233.6L202.4,229.6L202.7,228.7L203,227.6L204.4,223.6L204.6,222.8L205,221.6L206.4,217.6L206.6,216.7L207,215.6L208.2,211.6L208.6,210.3L208.8,209.6L209.4,207.6L210,205.7L211,201.7L211.6,199.7L212,197.7L212.5,195.7L212.6,195.2L213,193.7L213.4,191.7L213.9,189.7L214.3,187.7L214.6,186.3L214.8,185.7L215.2,183.7L215.7,181.7L216.1,179.7L216.6,177.7L216.6,177.5L217,175.7L218.5,169.7L218.6,169.5L219.1,167.7L219.6,165.7L220.2,163.7L220.6,162.5L220.8,161.7L221.4,159.7L222.1,157.7L222.6,156.2L222.8,155.7L223.4,153.7L224.1,151.7L224.6,150.4L224.8,149.7L225.5,147.8L226.2,145.8L227,143.8L227.7,141.8L228.5,139.8L228.6,139.4L229.2,137.8L230,135.8L230.6,134.1L230.7,133.8L231.5,131.8L232.2,129.8L233,127.8L233.7,125.8L234.5,123.8L234.6,123.5L235.2,121.8L235.9,119.8L236.6,118L236.7,117.8L238.1,113.8L238.6,112.5L238.8,111.8L239.6,109.8L240.3,107.8L240.6,107.1L241,105.8L241.8,103.8L242.6,101.9L242.6,101.8L244.2,97.8L244.6,97L245,95.8L245.9,93.8L246.5,92.3L246.8,91.8L247.7,89.9L248.5,88L248.6,87.9L249.6,85.9L250.5,84L250.6,83.9L251.8,81.9L252.5,80.7L253.1,79.9L254.4,77.9L254.5,77.7L255.9,75.9L256.5,75L257.4,73.9L258.5,72.4L259,71.9L260.5,70L260.6,69.9L262.2,67.9L262.5,67.5L263.9,65.9L264.5,65.1L266.5,62.7L267.2,61.9L268.5,60.3L268.8,59.9L270.4,57.9L270.5,57.8L272,55.9L272.5,55.2L273.5,53.9L274.5,52.5L274.9,51.9L276.2,49.9L276.5,49.5L277.5,47.9L278.5,46.2L278.6,45.9L279.7,43.9L280.5,42.4L280.7,41.9L281.8,39.9L284.5,34.5L284.8,34L285.7,32L286.5,30.4L286.6,30L287.6,28L288.4,26L288.5,25.9L289.3,24L290.1,22L290.4,21.2L290.9,20L291.7,18L292.4,16.1L292.5,16L293.9,12L294.4,10.2L294.5,10L295.7,6Z"/>
<path fill="#00ed5c" stroke="#00ed5c" d="M308.6,6L308.4,6.6L308,8L306.8,12L306.4,13.1L306.1,14L305.4,16L304.6,18L304.4,18.6L303.8,20L303,22L302.4,23.3L302.1,24L301.2,26L300.4,27.7L300.3,28L297.3,34L296.4,35.6L296.3,35.9L295.2,37.9L294.4,39.3L294.1,39.9L293,41.9L292.4,42.9L291.9,43.9L289.5,47.9L288.5,49.4L288.1,49.9L286.6,51.9L286.5,52.1L285,53.9L284.5,54.6L283.3,55.9L282.5,56.9L281.5,57.9L280.5,59.1L279.7,59.9L278.5,61.2L277.8,61.9L276.5,63.3L275.9,63.9L274.5,65.4L274,65.9L272.5,67.5L272.1,67.9L270.5,69.6L270.2,69.9L268.5,71.7L268.4,71.9L266.6,73.9L266.5,73.9L264.8,75.9L264.5,76.3L263.2,77.9L262.5,78.8L261.7,79.9L260.5,81.5L260.3,81.9L259,83.9L258.5,84.7L256.9,87.9L256.5,88.6L255.9,89.9L255,91.8L254.5,92.9L254.1,93.8L253.3,95.8L252.5,97.7L252.5,97.8L251.7,99.8L251,101.8L250.5,103L250.2,103.8L248.8,107.8L248.5,108.7L248.2,109.8L246.8,113.8L246.5,114.6L246.2,115.8L244.8,119.8L244.6,120.7L244.2,121.8L242.8,125.8L242.6,126.5L242.1,127.8L240.7,131.8L240.6,132.2L240,133.8L238.6,137.8L238.6,137.9L237.9,139.8L237.3,141.8L235.2,147.8L234.6,149.7L234.6,149.8L233.9,151.7L232.7,155.7L232.6,156L232,157.7L230.8,161.7L230.6,162.4L230.2,163.7L229,167.7L228.6,169.2L228.5,169.7L227.9,171.7L227.4,173.7L226.8,175.7L226.6,176.6L226.3,177.7L224.8,183.7L224.6,184.4L224.3,185.7L222.8,191.7L222.6,192.3L222.3,193.7L221.7,195.7L220.7,199.7L220.6,199.9L220.1,201.7L219.6,203.7L219,205.7L218.6,206.9L218.4,207.6L217.2,211.6L216.6,213.4L216.5,213.6L215.9,215.6L215.2,217.6L214.6,219.5L214.6,219.6L213.2,223.6L212.6,225.3L212.5,225.6L211.8,227.6L211.2,229.6L210.6,231.2L210.5,231.6L209.8,233.6L209.2,235.6L208.6,237.2L208.5,237.6L207.8,239.6L207.2,241.6L206.6,243.4L206.6,243.6L204.8,249.6L204.6,250.1L204.2,251.6L203.6,253.6L203.1,255.6L202.7,257.1L202.5,257.6L202,259.6L201.4,261.6L200.9,263.5L200.7,264.4L200.3,265.5L198.8,271.5L198.7,272L198.3,273.5L194.8,287.5L194.7,288.3L193.9,291.5L193.5,293.5L193,295.5L192.7,297.1L192.6,297.5L192.2,299.5L191.7,301.5L190.9,305.5L190.7,306.6L190.5,307.5L188.9,315.5L188.7,316.6L188.5,317.5L188.1,319.5L187.8,321.4L187,325.4L186.7,327L186.6,327.4L186.2,329.4L185.9,331.4L185.1,335.4L184.8,337.4L184.4,339.4L184.1,341.4L183.7,343.4L183.4,345.4L183,347.4L182.7,349.3L182.7,349.4L177.1,349.4L178.7,341.4L178.7,341.1L179,339.4L180.6,331.4L180.7,331.1L181,329.4L182.6,321.4L182.7,321.1L183,319.5L184.6,311.5L184.7,311.2L185.1,309.5L186.3,303.5L186.7,301.6L186.7,301.5L187.1,299.5L187.6,297.5L188,295.5L188.5,293.5L188.7,292.6L188.9,291.5L192.4,277.5L192.7,276.5L192.9,275.5L193.4,273.5L194,271.5L194.5,269.5L194.7,269L195.1,267.5L195.6,265.5L196.2,263.5L196.7,261.9L196.8,261.6L197.3,259.6L198.5,255.6L198.7,255.1L199.1,253.6L200.3,249.6L200.7,248.6L202.2,243.6L202.7,242.3L202.9,241.6L203.5,239.6L204.2,237.6L204.6,236.3L204.9,235.6L205.5,233.6L206.2,231.6L206.6,230.4L206.9,229.6L208.3,225.6L208.6,224.5L208.9,223.6L210.3,219.6L210.6,218.5L210.9,217.6L211.6,215.6L212.2,213.6L212.6,212.3L212.8,211.6L214,207.6L214.6,205.7L215.2,203.7L216.2,199.7L216.6,198.2L216.8,197.7L217.3,195.7L217.7,193.7L219.2,187.7L219.6,185.7L222.6,173.7L222.6,173.6L223.1,171.7L223.6,169.7L224.2,167.7L224.6,166.2L224.7,165.7L226.5,159.7L226.6,159.6L227.2,157.7L227.8,155.7L228.5,153.7L228.6,153.4L229.1,151.7L229.8,149.7L230.5,147.8L230.6,147.5L231.2,145.8L232.6,141.8L232.6,141.7L233.3,139.8L234,137.8L234.6,136.2L234.7,135.8L235.4,133.8L236.2,131.8L236.6,130.6L236.9,129.8L238.3,125.8L238.6,125.1L239,123.8L240.4,119.8L240.6,119.4L241.1,117.8L242.5,113.8L242.6,113.6L243.2,111.8L243.9,109.8L244.6,107.9L244.6,107.8L246,103.8L246.5,102.4L246.8,101.8L247.5,99.8L249.1,95.8L250,93.8L250.5,92.6L250.9,91.8L251.8,89.9L252.5,88.2L252.7,87.9L254.5,84.3L254.8,83.9L256,81.9L256.5,81.1L257.3,79.9L258.5,78.2L258.8,77.9L260.3,75.9L260.5,75.7L262,73.9L262.5,73.2L263.7,71.9L264.5,70.9L265.4,69.9L266.5,68.6L267.2,67.9L268.5,66.4L269,65.9L270.5,64.2L270.8,63.9L272.5,62L272.6,61.9L274.3,59.9L274.5,59.7L276,57.9L276.5,57.4L277.7,55.9L278.5,55L279.3,53.9L280.9,51.9L282.3,49.9L282.5,49.6L283.6,47.9L284.5,46.5L284.8,45.9L285.9,43.9L286.5,42.9L287,41.9L288.1,39.9L288.5,39.2L289.1,37.9L290.2,35.9L290.4,35.4L291.2,34L292.2,32L292.4,31.4L294.1,28L294.4,27.2L295,26L295.9,24L296.4,22.7L296.7,22L297.6,20L298.4,18L298.4,17.8L299.1,16L299.8,14L300.4,12.2L300.5,12L302.3,6Z"/>
<path fill="#3feb40" stroke="#3feb40" d="M308.4,6.6L308.6,6L314.4,6L314.4,6.2L313.9,8L313.4,10L312.7,12L312.1,14L311.4,16L309,22L308.4,23.3L308.1,24L307.2,26L306.2,28L305.3,30L304.4,31.6L303.2,34L302.4,35.4L302.1,35.9L301,37.9L300.4,39.1L299.9,39.9L298.8,41.9L298.4,42.6L297.6,43.9L296.5,45.9L296.4,46L295.2,47.9L294.4,49L293.8,49.9L292.4,51.7L292.2,51.9L290.6,53.9L290.4,54.1L288.8,55.9L288.5,56.3L286.9,57.9L286.5,58.4L285,59.9L284.5,60.5L283,61.9L282.5,62.5L281,63.9L280.5,64.5L279,65.9L274.5,70.4L273.1,71.9L272.5,72.5L271.2,73.9L270.5,74.7L269.4,75.9L268.5,76.9L267.7,77.9L266.5,79.3L266.1,79.9L264.6,81.9L264.5,82L263.3,83.9L262.5,85.2L262.2,85.9L261.1,87.9L260.5,89.1L260.2,89.9L259.2,91.8L258.5,93.5L258.4,93.8L257.5,95.8L255.9,99.8L255.2,101.8L254.5,103.6L254.5,103.8L253.1,107.8L252.5,109.4L252.4,109.8L251.7,111.8L251.1,113.8L250.5,115.5L250.5,115.8L249.8,117.8L249.2,119.8L248.5,121.7L248.5,121.8L247.1,125.8L246.5,127.5L246.5,127.8L245.1,131.8L244.6,133.3L244.4,133.8L243.7,135.8L243.1,137.8L242.6,139.3L242.4,139.8L241.7,141.8L241.1,143.8L240.6,145.4L240.4,145.8L239.8,147.8L239.1,149.7L238.6,151.6L238.5,151.7L237.3,155.7L236.6,157.7L236.6,158L236,159.7L234.8,163.7L234.6,164.5L234.2,165.7L233,169.7L232.5,171.7L231.3,175.7L230.8,177.7L230.6,178.4L230.2,179.7L229.2,183.7L228.6,185.7L228.6,185.8L228.1,187.7L227.5,189.7L227,191.7L226.6,193.2L226.5,193.7L225.9,195.7L225.4,197.7L224.8,199.7L224.6,200.4L224.2,201.7L223.6,203.7L223.1,205.7L222.6,207.2L222.5,207.6L221.8,209.6L221.2,211.6L220.6,213.5L220.6,213.6L219.2,217.6L218.6,219.5L218.6,219.6L217.8,221.6L217.2,223.6L216.6,225.3L216.5,225.6L215.1,229.6L214.6,231.1L214.5,231.6L213.1,235.6L212.6,237.2L212.5,237.6L211.9,239.6L211.2,241.6L210.7,243.6L210.6,243.8L210.1,245.6L209.5,247.6L209,249.6L208.6,251L208.5,251.6L207.9,253.6L206.9,257.6L206.6,258.6L206.4,259.6L205.9,261.6L205.4,263.5L204.9,265.5L204.6,266.5L204.4,267.5L203.4,271.5L203,273.5L202.7,274.8L202.5,275.5L202,277.5L201.6,279.5L201.1,281.5L200.7,283.5L200.7,283.6L200.2,285.5L199.8,287.5L199.3,289.5L198.9,291.5L198.7,292.7L198.5,293.5L196.9,301.5L196.7,302.4L196.5,303.5L194.9,311.5L194.7,312.8L194.5,313.5L194.2,315.5L193.8,317.5L193.5,319.5L193.1,321.4L192.7,323.4L192.7,323.8L192.4,325.4L192,327.4L191.4,331.4L191,333.4L190.4,337.4L190,339.4L188.8,347.4L188.7,348L188.5,349.4L182.7,349.4L182.7,349.3L183,347.4L183.4,345.4L183.7,343.4L184.1,341.4L184.4,339.4L184.8,337.4L185.1,335.4L185.9,331.4L186.2,329.4L186.6,327.4L186.7,327L187,325.4L187.8,321.4L188.1,319.5L188.5,317.5L188.7,316.6L188.9,315.5L190.5,307.5L190.7,306.6L190.9,305.5L191.7,301.5L192.2,299.5L192.6,297.5L192.7,297.1L193,295.5L193.5,293.5L193.9,291.5L194.7,288.3L194.8,287.5L198.3,273.5L198.7,272L198.8,271.5L200.3,265.5L200.7,264.4L200.9,263.5L201.4,261.6L202,259.6L202.5,257.6L202.7,257.1L203.1,255.6L203.6,253.6L204.2,251.6L204.6,250.1L204.8,249.6L206.6,243.6L206.6,243.4L207.2,241.6L207.8,239.6L208.5,237.6L208.6,237.2L209.2,235.6L209.8,233.6L210.5,231.6L210.6,231.2L211.2,229.6L211.8,227.6L212.5,225.6L212.6,225.3L213.2,223.6L214.6,219.6L214.6,219.5L215.2,217.6L215.9,215.6L216.5,213.6L216.6,213.4L217.2,211.6L218.4,207.6L218.6,206.9L219,205.7L219.6,203.7L220.1,201.7L220.6,199.9L220.7,199.7L221.7,195.7L222.3,193.7L222.6,192.3L222.8,191.7L224.3,185.7L224.6,184.4L224.8,183.7L226.3,177.7L226.6,176.6L226.8,175.7L227.4,173.7L227.9,171.7L228.5,169.7L228.6,169.2L229,167.7L230.2,163.7L230.6,162.4L230.8,161.7L232,157.7L232.6,156L232.7,155.7L233.9,151.7L234.6,149.8L234.6,149.7L235.2,147.8L237.3,141.8L237.9,139.8L238.6,137.9L238.6,137.8L240,133.8L240.6,132.2L240.7,131.8L242.1,127.8L242.6,126.5L242.8,125.8L244.2,121.8L244.6,120.7L244.8,119.8L246.2,115.8L246.5,114.6L246.8,113.8L248.2,109.8L248.5,108.7L248.8,107.8L250.2,103.8L250.5,103L251,101.8L251.7,99.8L252.5,97.8L252.5,97.7L253.3,95.8L254.1,93.8L254.5,92.9L255,91.8L255.9,89.9L256.5,88.6L256.9,87.9L258.5,84.7L259,83.9L260.3,81.9L260.5,81.5L261.7,79.9L262.5,78.8L263.2,77.9L264.5,76.3L264.8,75.9L266.5,73.9L266.6,73.9L268.4,71.9L268.5,71.7L270.2,69.9L270.5,69.6L272.1,67.9L272.5,67.5L274,65.9L274.5,65.4L275.9,63.9L276.5,63.3L277.8,61.9L278.5,61.2L279.7,59.9L280.5,59.1L281.5,57.9L282.5,56.9L283.3,55.9L284.5,54.6L285,53.9L286.5,52.1L286.6,51.9L288.1,49.9L288.5,49.4L289.5,47.9L291.9,43.9L292.4,42.9L293,41.9L294.1,39.9L294.4,39.3L295.2,37.9L296.3,35.9L296.4,35.6L297.3,34L300.3,28L300.4,27.7L301.2,26L302.1,24L302.4,23.3L303,22L303.8,20L304.4,18.6L304.6,18L305.4,16L306.1,14L306.4,13.1L306.8,12L308,8Z"/>
<path fill="#63ec34" stroke="#63ec34" d="M314.4,6.2L314.4,6L320.2,6L319.8,8L318.6,12L318.4,12.8L318,14L316.6,18L316.4,18.4L315.8,20L314.9,22L314.4,23.2L314.1,24L313.1,26L312.4,27.5L312.2,28L311.2,30L310.4,31.5L310.2,32L309.1,34L308.4,35.3L308,35.9L306.9,37.9L306.4,38.9L305.8,39.9L304.7,41.9L304.4,42.3L303.5,43.9L302.4,45.7L302.3,45.9L301,47.9L300.4,48.7L299.6,49.9L298.4,51.3L298,51.9L296.4,53.7L296.2,53.9L294.4,55.8L294.4,55.9L288.5,61.8L288.3,61.9L286.5,63.7L286.2,63.9L284.5,65.6L284.1,65.9L282.5,67.5L282,67.9L280.5,69.4L279.9,69.9L275.9,73.9L274.5,75.4L274,75.9L272.5,77.6L272.3,77.9L270.6,79.9L270.5,80L269.1,81.9L268.5,82.7L267.7,83.9L266.5,85.9L265.5,87.9L264.5,89.8L264.5,89.9L263.5,91.8L262.6,93.8L262.5,94.1L261.8,95.8L260.9,97.8L260.5,98.9L260.1,99.8L258.7,103.8L258.5,104.2L257.9,105.8L257.3,107.8L256.6,109.8L256.5,110L255.9,111.8L255.3,113.8L254.6,115.8L254.5,116.1L254,117.8L252.6,121.8L252.5,122.1L252,123.8L250.6,127.8L250.5,128L249.9,129.8L249.2,131.8L248.6,133.8L248.5,133.8L247.9,135.8L247.2,137.8L246.6,139.8L246.5,139.9L245.9,141.8L244.7,145.8L244.6,146.1L244,147.8L243.4,149.7L242.8,151.7L242.6,152.4L242.2,153.7L241.5,155.7L240.9,157.7L240.6,158.9L240.3,159.7L239.1,163.7L238.6,165.3L238.4,165.7L236.6,171.7L236.6,171.8L236,173.7L234.8,177.7L234.6,178.5L234.2,179.7L233.6,181.7L233.1,183.7L232.6,185.4L232.5,185.7L230.7,191.7L230.6,192.2L230.2,193.7L229,197.7L228.6,199L228.4,199.7L227.2,203.7L226.6,205.6L226.6,205.7L226,207.6L225.3,209.6L224.7,211.6L224.6,211.9L224,213.6L222.6,217.6L222.6,217.7L221.9,219.6L221.2,221.6L220.6,223.4L220.5,223.6L219.8,225.6L219.2,227.6L218.6,229.2L218.5,229.6L217.8,231.6L217.2,233.6L216.6,235.3L216.5,235.6L214.7,241.6L214.6,242.1L214.2,243.6L212.6,250L212.3,251.6L211.3,255.6L210.9,257.6L210.6,258.7L210.4,259.6L210,261.6L209.6,263.5L209.1,265.5L208.7,267.5L208.6,267.8L208.3,269.5L207.8,271.5L207,275.5L206.6,277.4L206.6,277.5L205,285.5L204.6,287.4L204.6,287.5L204.2,289.5L203.9,291.5L202.7,297.5L202.7,298L202,301.5L201.7,303.5L201.3,305.5L201,307.5L200.7,309.2L200.6,309.5L200.3,311.5L199.9,313.5L199.3,317.5L198.9,319.5L198.7,321.1L198.6,321.4L198,325.4L197.6,327.4L196.7,333.4L196.7,333.7L196.4,335.4L194.9,345.4L194.7,347.3L194.7,347.4L194.4,349.4L188.5,349.4L188.7,348L188.8,347.4L190,339.4L190.4,337.4L191,333.4L191.4,331.4L192,327.4L192.4,325.4L192.7,323.8L192.7,323.4L193.1,321.4L193.5,319.5L193.8,317.5L194.2,315.5L194.5,313.5L194.7,312.8L194.9,311.5L196.5,303.5L196.7,302.4L196.9,301.5L198.5,293.5L198.7,292.7L198.9,291.5L199.3,289.5L199.8,287.5L200.2,285.5L200.7,283.6L200.7,283.5L201.1,281.5L201.6,279.5L202,277.5L202.5,275.5L202.7,274.8L203,273.5L203.4,271.5L204.4,267.5L204.6,266.5L204.9,265.5L205.4,263.5L205.9,261.6L206.4,259.6L206.6,258.6L206.9,257.6L207.9,253.6L208.5,251.6L208.6,251L209,249.6L209.5,247.6L210.1,245.6L210.6,243.8L210.7,243.6L211.2,241.6L211.9,239.6L212.5,237.6L212.6,237.2L213.1,235.6L214.5,231.6L214.6,231.1L215.1,229.6L216.5,225.6L216.6,225.3L217.2,223.6L217.8,221.6L218.6,219.6L218.6,219.5L219.2,217.6L220.6,213.6L220.6,213.5L221.2,211.6L221.8,209.6L222.5,207.6L222.6,207.2L223.1,205.7L223.6,203.7L224.2,201.7L224.6,200.4L224.8,199.7L225.4,197.7L225.9,195.7L226.5,193.7L226.6,193.2L227,191.7L227.5,189.7L228.1,187.7L228.6,185.8L228.6,185.7L229.2,183.7L230.2,179.7L230.6,178.4L230.8,177.7L231.3,175.7L232.5,171.7L233,169.7L234.2,165.7L234.6,164.5L234.8,163.7L236,159.7L236.6,158L236.6,157.7L237.3,155.7L238.5,151.7L238.6,151.6L239.1,149.7L239.8,147.8L240.4,145.8L240.6,145.4L241.1,143.8L241.7,141.8L242.4,139.8L242.6,139.3L243.1,137.8L243.7,135.8L244.4,133.8L244.6,133.3L245.1,131.8L246.5,127.8L246.5,127.5L247.1,125.8L248.5,121.8L248.5,121.7L249.2,119.8L249.8,117.8L250.5,115.8L250.5,115.5L251.1,113.8L251.7,111.8L252.4,109.8L252.5,109.4L253.1,107.8L254.5,103.8L254.5,103.6L255.2,101.8L255.9,99.8L257.5,95.8L258.4,93.8L258.5,93.5L259.2,91.8L260.2,89.9L260.5,89.1L261.1,87.9L262.2,85.9L262.5,85.2L263.3,83.9L264.5,82L264.6,81.9L266.1,79.9L266.5,79.3L267.7,77.9L268.5,76.9L269.4,75.9L270.5,74.7L271.2,73.9L272.5,72.5L273.1,71.9L274.5,70.4L279,65.9L280.5,64.5L281,63.9L282.5,62.5L283,61.9L284.5,60.5L285,59.9L286.5,58.4L286.9,57.9L288.5,56.3L288.8,55.9L290.4,54.1L290.6,53.9L292.2,51.9L292.4,51.7L293.8,49.9L294.4,49L295.2,47.9L296.4,46L296.5,45.9L297.6,43.9L298.4,42.6L298.8,41.9L299.9,39.9L300.4,39.1L301,37.9L302.1,35.9L302.4,35.4L303.2,34L304.4,31.6L305.3,30L306.2,28L307.2,26L308.1,24L308.4,23.3L309,22L311.4,16L312.1,14L312.7,12L313.4,10L313.9,8Z"/>
<path fill="#7fed28" stroke="#7fed28" d="M325.8,6L325.4,8L324.9,10L324.4,11.9L324.3,12L323.1,16L322.4,17.9L322.3,18L321.6,20L320.7,22L320.4,22.8L319.9,24L319,26L316,32L314.9,34L314.4,35L313.9,35.9L312.7,37.9L312.4,38.6L311.6,39.9L310.5,41.9L310.4,42L309.3,43.9L308.1,45.9L306.8,47.9L306.4,48.4L305.3,49.9L304.4,51L303.6,51.9L302.4,53.3L301.8,53.9L300.4,55.4L297.9,57.9L296.4,59.3L295.8,59.9L294.4,61.2L293.7,61.9L292.4,63L291.5,63.9L290.4,64.8L289.3,65.9L288.5,66.6L287.1,67.9L286.5,68.4L284.9,69.9L284.5,70.3L282.8,71.9L282.5,72.2L280.7,73.9L278.7,75.9L278.5,76.2L276.9,77.9L276.5,78.3L275.1,79.9L273.6,81.9L272.5,83.4L272.2,83.9L270.9,85.9L270.5,86.7L269.8,87.9L268.5,90.5L267.8,91.8L266.9,93.8L266.5,94.8L266,95.8L265.2,97.8L264.5,99.5L264.4,99.8L262.8,103.8L262.5,104.7L262.1,105.8L260.7,109.8L260.5,110.3L260,111.8L259.3,113.8L258.7,115.8L258.5,116.2L258,117.8L257.3,119.8L256.7,121.8L256.5,122.2L256,123.8L254.6,127.8L254.5,127.9L253.9,129.8L253.2,131.8L252.6,133.8L252.5,133.8L251.9,135.8L251.2,137.8L250.6,139.8L250.5,139.9L250,141.8L249.3,143.8L248.7,145.8L248.5,146.2L248.1,147.8L247.4,149.7L246.8,151.7L246.5,152.6L246.2,153.7L245.6,155.7L244.9,157.7L244.6,159L244.3,159.7L243.1,163.7L242.6,165.3L242.4,165.7L241.8,167.7L241.1,169.7L240.6,171.5L240.5,171.7L239.8,173.7L238.6,177.7L237.9,179.7L236.7,183.7L236.6,184L236,185.7L234.8,189.7L234.6,190.3L234.1,191.7L232.3,197.7L231.6,199.7L231,201.7L230.6,203L230.4,203.7L229.8,205.7L229.1,207.6L228.6,209.3L228.5,209.6L227.1,213.6L226.6,215.1L226.4,215.6L225,219.6L224.6,220.7L224.3,221.6L223.5,223.6L222.8,225.6L222.6,226.3L222.2,227.6L220.8,231.6L220.6,232.3L220.2,233.6L219,237.6L218.6,238.9L218.4,239.6L217.4,243.6L217,245.6L216.6,247.3L216.6,247.6L214.6,257.6L214.3,259.6L213.9,261.6L213.5,263.5L213.2,265.5L212.8,267.5L212.6,268.6L212.5,269.5L212.1,271.5L211.8,273.5L211.4,275.5L210.8,279.5L210.6,280.3L210.4,281.5L209.8,285.5L209.4,287.5L208.8,291.5L208.6,292.4L208.5,293.5L208.2,295.5L207.8,297.5L206.9,303.5L206.6,305.3L206.6,305.5L204.8,317.5L204.6,318.9L204.6,319.5L204.3,321.4L202.8,331.4L202.7,332.8L202.6,333.4L201.7,339.4L201.5,341.4L200.9,345.4L200.7,347.4L200.7,347.5L200.4,349.4L194.4,349.4L194.7,347.4L194.7,347.3L194.9,345.4L196.4,335.4L196.7,333.7L196.7,333.4L197.6,327.4L198,325.4L198.6,321.4L198.7,321.1L198.9,319.5L199.3,317.5L199.9,313.5L200.3,311.5L200.6,309.5L200.7,309.2L201,307.5L201.3,305.5L201.7,303.5L202,301.5L202.7,298L202.7,297.5L203.9,291.5L204.2,289.5L204.6,287.5L204.6,287.4L205,285.5L206.6,277.5L206.6,277.4L207,275.5L207.8,271.5L208.3,269.5L208.6,267.8L208.7,267.5L209.1,265.5L209.6,263.5L210,261.6L210.4,259.6L210.6,258.7L210.9,257.6L211.3,255.6L212.3,251.6L212.6,250L214.2,243.6L214.6,242.1L214.7,241.6L216.5,235.6L216.6,235.3L217.2,233.6L217.8,231.6L218.5,229.6L218.6,229.2L219.2,227.6L219.8,225.6L220.5,223.6L220.6,223.4L221.2,221.6L221.9,219.6L222.6,217.7L222.6,217.6L224,213.6L224.6,211.9L224.7,211.6L225.3,209.6L226,207.6L226.6,205.7L226.6,205.6L227.2,203.7L228.4,199.7L228.6,199L229,197.7L230.2,193.7L230.6,192.2L230.7,191.7L232.5,185.7L232.6,185.4L233.1,183.7L233.6,181.7L234.2,179.7L234.6,178.5L234.8,177.7L236,173.7L236.6,171.8L236.6,171.7L238.4,165.7L238.6,165.3L239.1,163.7L240.3,159.7L240.6,158.9L240.9,157.7L241.5,155.7L242.2,153.7L242.6,152.4L242.8,151.7L243.4,149.7L244,147.8L244.6,146.1L244.7,145.8L245.9,141.8L246.5,139.9L246.6,139.8L247.2,137.8L247.9,135.8L248.5,133.8L248.6,133.8L249.2,131.8L249.9,129.8L250.5,128L250.6,127.8L252,123.8L252.5,122.1L252.6,121.8L254,117.8L254.5,116.1L254.6,115.8L255.3,113.8L255.9,111.8L256.5,110L256.6,109.8L257.3,107.8L257.9,105.8L258.5,104.2L258.7,103.8L260.1,99.8L260.5,98.9L260.9,97.8L261.8,95.8L262.5,94.1L262.6,93.8L263.5,91.8L264.5,89.9L264.5,89.8L265.5,87.9L266.5,85.9L267.7,83.9L268.5,82.7L269.1,81.9L270.5,80L270.6,79.9L272.3,77.9L272.5,77.6L274,75.9L274.5,75.4L275.9,73.9L279.9,69.9L280.5,69.4L282,67.9L282.5,67.5L284.1,65.9L284.5,65.6L286.2,63.9L286.5,63.7L288.3,61.9L288.5,61.8L294.4,55.9L294.4,55.8L296.2,53.9L296.4,53.7L298,51.9L298.4,51.3L299.6,49.9L300.4,48.7L301,47.9L302.3,45.9L302.4,45.7L303.5,43.9L304.4,42.3L304.7,41.9L305.8,39.9L306.4,38.9L306.9,37.9L308,35.9L308.4,35.3L309.1,34L310.2,32L310.4,31.5L311.2,30L312.2,28L312.4,27.5L313.1,26L314.1,24L314.4,23.2L314.9,22L315.8,20L316.4,18.4L316.6,18L318,14L318.4,12.8L318.6,12L319.8,8L320.2,6Z"/>
<path fill="#9df018" stroke="#9df018" d="M330.9,6L330.6,8L330.4,8.9L330.1,10L329.6,12L328.4,16L328.4,16.1L327.7,18L326.9,20L326.4,21.4L326.1,22L325.3,24L324.4,26L323.4,28L322.5,30L322.4,30.1L321.4,32L320.4,34L319.3,35.9L318.4,37.6L318.2,37.9L317.1,39.9L316.4,41.1L315.9,41.9L314.7,43.9L314.4,44.5L313.5,45.9L312.4,47.7L312.2,47.9L310.4,50.3L309.1,51.9L308.4,52.6L307.2,53.9L306.4,54.7L305.3,55.9L304.4,56.7L303.2,57.9L302.4,58.6L301,59.9L300.4,60.5L298.8,61.9L298.4,62.2L296.6,63.9L296.4,64L294.4,65.8L294.3,65.9L292.4,67.5L292,67.9L290.4,69.3L289.8,69.9L288.5,71.1L287.6,71.9L285.4,73.9L282.5,76.8L280.5,79L279.7,79.9L278.5,81.3L278.1,81.9L276.6,83.9L276.5,84L275.3,85.9L274.5,87.4L274.2,87.9L273.2,89.9L272.5,91.2L272.1,91.8L271.2,93.8L270.5,95.4L270.3,95.8L268.5,99.8L268.5,100L267.7,101.8L267,103.8L266.5,105L266.2,105.8L265.5,107.8L264.7,109.8L264.5,110.5L264,111.8L263.3,113.8L262.7,115.8L262.5,116.2L262,117.8L260.6,121.8L260.5,122.1L259.9,123.8L259.2,125.8L258.5,127.7L258.5,127.8L257.1,131.8L256.5,133.5L256.4,133.8L255.8,135.8L255.1,137.8L254.5,139.7L254.5,139.8L253.9,141.8L253.2,143.8L252.6,145.8L252.5,146L252,147.8L251.4,149.7L250.7,151.7L250.5,152.4L250.1,153.7L248.9,157.7L248.5,158.7L247.6,161.7L246.9,163.7L246.5,164.9L246.3,165.7L244.9,169.7L244.6,170.8L244.3,171.7L242.9,175.7L242.6,176.7L242.2,177.7L240.8,181.7L240.6,182.5L240.2,183.7L238.8,187.7L238.6,188.3L238.1,189.7L237.4,191.7L236.8,193.7L236.6,194.2L236.1,195.7L235.4,197.7L234.8,199.7L234.6,200.2L234.1,201.7L233.5,203.7L232.8,205.7L232.6,206.4L232.2,207.6L230.8,211.6L230.6,212.2L230.1,213.6L229.4,215.6L228.6,217.6L228.6,217.7L227.9,219.6L227.2,221.6L226.6,223.2L226.4,223.6L225,227.6L224.6,228.9L224.4,229.6L223.7,231.6L223.1,233.6L222.6,235.2L222.5,235.6L221.9,237.6L220.9,241.6L220.6,243.2L220.5,243.6L220.1,245.6L218.9,253.6L218.6,255.4L218.6,255.6L217.7,261.6L217.4,263.5L217.2,265.5L216.6,269.5L216.6,269.6L216.4,271.5L215.8,275.5L215.6,277.5L215.3,279.5L215.1,281.5L214.8,283.5L214.6,284.8L214.5,285.5L214.3,287.5L214,289.5L213.8,291.5L213.5,293.5L213.3,295.5L213,297.5L212.8,299.5L212.6,300.7L212.5,301.5L212.3,303.5L212,305.5L211.6,309.5L211.3,311.5L211.1,313.5L210.8,315.5L210.6,317.2L210.6,317.5L210.4,319.5L210.1,321.4L209.9,323.4L209.6,325.4L209.4,327.4L209.1,329.4L208.9,331.4L208.6,333.2L208.6,333.4L208.4,335.4L208.1,337.4L207.9,339.4L207.6,341.4L207.4,343.4L207.1,345.4L206.9,347.4L206.6,349.2L206.6,349.4L200.4,349.4L200.7,347.5L200.7,347.4L200.9,345.4L201.5,341.4L201.7,339.4L202.6,333.4L202.7,332.8L202.8,331.4L204.3,321.4L204.6,319.5L204.6,318.9L204.8,317.5L206.6,305.5L206.6,305.3L206.9,303.5L207.8,297.5L208.2,295.5L208.5,293.5L208.6,292.4L208.8,291.5L209.4,287.5L209.8,285.5L210.4,281.5L210.6,280.3L210.8,279.5L211.4,275.5L211.8,273.5L212.1,271.5L212.5,269.5L212.6,268.6L212.8,267.5L213.2,265.5L213.5,263.5L213.9,261.6L214.3,259.6L214.6,257.6L216.6,247.6L216.6,247.3L217,245.6L217.4,243.6L218.4,239.6L218.6,238.9L219,237.6L220.2,233.6L220.6,232.3L220.8,231.6L222.2,227.6L222.6,226.3L222.8,225.6L223.5,223.6L224.3,221.6L224.6,220.7L225,219.6L226.4,215.6L226.6,215.1L227.1,213.6L228.5,209.6L228.6,209.3L229.1,207.6L229.8,205.7L230.4,203.7L230.6,203L231,201.7L231.6,199.7L232.3,197.7L234.1,191.7L234.6,190.3L234.8,189.7L236,185.7L236.6,184L236.7,183.7L237.9,179.7L238.6,177.7L239.8,173.7L240.5,171.7L240.6,171.5L241.1,169.7L241.8,167.7L242.4,165.7L242.6,165.3L243.1,163.7L244.3,159.7L244.6,159L244.9,157.7L245.6,155.7L246.2,153.7L246.5,152.6L246.8,151.7L247.4,149.7L248.1,147.8L248.5,146.2L248.7,145.8L249.3,143.8L250,141.8L250.5,139.9L250.6,139.8L251.2,137.8L251.9,135.8L252.5,133.8L252.6,133.8L253.2,131.8L253.9,129.8L254.5,127.9L254.6,127.8L256,123.8L256.5,122.2L256.7,121.8L257.3,119.8L258,117.8L258.5,116.2L258.7,115.8L259.3,113.8L260,111.8L260.5,110.3L260.7,109.8L262.1,105.8L262.5,104.7L262.8,103.8L264.4,99.8L264.5,99.5L265.2,97.8L266,95.8L266.5,94.8L266.9,93.8L267.8,91.8L268.5,90.5L269.8,87.9L270.5,86.7L270.9,85.9L272.2,83.9L272.5,83.4L273.6,81.9L275.1,79.9L276.5,78.3L276.9,77.9L278.5,76.2L278.7,75.9L280.7,73.9L282.5,72.2L282.8,71.9L284.5,70.3L284.9,69.9L286.5,68.4L287.1,67.9L288.5,66.6L289.3,65.9L290.4,64.8L291.5,63.9L292.4,63L293.7,61.9L294.4,61.2L295.8,59.9L296.4,59.3L297.9,57.9L300.4,55.4L301.8,53.9L302.4,53.3L303.6,51.9L304.4,51L305.3,49.9L306.4,48.4L306.8,47.9L308.1,45.9L309.3,43.9L310.4,42L310.5,41.9L311.6,39.9L312.4,38.6L312.7,37.9L313.9,35.9L314.4,35L314.9,34L316,32L319,26L319.9,24L320.4,22.8L320.7,22L321.6,20L322.3,18L322.4,17.9L323.1,16L324.3,12L324.4,11.9L324.9,10L325.4,8L325.8,6Z"/>
<path fill="#bcf20c" stroke="#bcf20c" d="M335.6,6L335.3,8L334.8,10L334.4,12L334.3,12.1L333.8,14L333.2,16L332.5,18L332.3,18.5L331.8,20L330.2,24L328.4,28L326.4,32L325.3,34L324.4,35.7L324.3,35.9L323.1,37.9L322.4,39.3L322,39.9L320.9,41.9L320.4,42.8L319.7,43.9L318.5,45.9L318.4,46.2L317.2,47.9L316.4,49.1L315.7,49.9L314.4,51.5L314,51.9L312.4,53.7L310.2,55.9L308.4,57.6L308.1,57.9L306.4,59.5L305.9,59.9L304.4,61.2L303.7,61.9L302.4,63L301.4,63.9L300.4,64.7L299.1,65.9L298.4,66.4L296.7,67.9L296.4,68.2L294.5,69.9L294.4,69.9L292.4,71.7L292.2,71.9L290.4,73.5L288.5,75.4L287.9,75.9L286.5,77.4L286,77.9L284.5,79.5L284.1,79.9L282.5,81.9L281,83.9L280.5,84.6L279.7,85.9L278.5,87.9L278.5,88L277.5,89.9L276.5,91.7L276.4,91.8L275.4,93.8L274.5,95.8L274.5,95.9L273.6,97.8L272.7,99.8L272.5,100.4L271.9,101.8L269.5,107.8L268.8,109.8L268.5,110.6L268.1,111.8L267.3,113.8L266.6,115.8L266.5,116.2L265.9,117.8L264.5,121.8L264.5,121.9L263.8,123.8L263.1,125.8L262.5,127.4L262.4,127.8L261,131.8L260.5,133.2L260.3,133.8L259.7,135.8L259,137.8L258.5,139.3L258.4,139.8L257.7,141.8L257.1,143.8L256.5,145.7L256.5,145.8L255.9,147.8L255.3,149.7L254.6,151.7L254.5,152.1L254,153.7L253.4,155.7L252.7,157.7L252.5,158.4L252.1,159.7L251.5,161.7L250.8,163.7L250.5,164.5L250.1,165.7L248.7,169.7L248.5,170.2L248,171.7L246.6,175.7L246.5,175.8L245.9,177.7L245.1,179.7L244.6,181.2L244.4,181.7L243.7,183.7L242.9,185.7L242.6,186.7L242.2,187.7L240.8,191.7L240,193.7L238.6,197.7L238.6,197.8L237.9,199.7L237.3,201.7L235.9,205.7L235.3,207.6L233.9,211.6L233.1,213.6L232.6,215.1L231.6,217.6L230.9,219.6L230.6,220.4L230.1,221.6L228.7,225.6L228.6,225.8L228,227.6L226.6,231.6L226.6,231.8L226,233.6L225.5,235.6L224.9,237.6L224.6,239L224.5,239.6L224,241.6L223.1,247.6L222.7,251.6L222.6,252.2L222.5,253.6L222.2,255.6L221.6,261.6L221.4,263.5L221.2,265.5L221.1,267.5L220.7,271.5L220.6,272.4L220.5,273.5L220.3,275.5L220.2,277.5L219.2,287.5L219.1,289.5L218.7,293.5L218.6,294.4L218.5,295.5L218.3,297.5L218.2,299.5L217.6,305.5L217.5,307.5L216.7,315.5L216.6,316.6L216.5,317.5L216.3,319.5L216.2,321.4L216,323.4L215.7,325.4L214.7,335.4L214.6,335.7L214.4,337.4L213.8,343.4L213.5,345.4L213.1,349.4L206.6,349.4L206.6,349.2L206.9,347.4L207.1,345.4L207.4,343.4L207.6,341.4L207.9,339.4L208.1,337.4L208.4,335.4L208.6,333.4L208.6,333.2L208.9,331.4L209.1,329.4L209.4,327.4L209.6,325.4L209.9,323.4L210.1,321.4L210.4,319.5L210.6,317.5L210.6,317.2L210.8,315.5L211.1,313.5L211.3,311.5L211.6,309.5L212,305.5L212.3,303.5L212.5,301.5L212.6,300.7L212.8,299.5L213,297.5L213.3,295.5L213.5,293.5L213.8,291.5L214,289.5L214.3,287.5L214.5,285.5L214.6,284.8L214.8,283.5L215.1,281.5L215.3,279.5L215.6,277.5L215.8,275.5L216.4,271.5L216.6,269.6L216.6,269.5L217.2,265.5L217.4,263.5L217.7,261.6L218.6,255.6L218.6,255.4L218.9,253.6L220.1,245.6L220.5,243.6L220.6,243.2L220.9,241.6L221.9,237.6L222.5,235.6L222.6,235.2L223.1,233.6L223.7,231.6L224.4,229.6L224.6,228.9L225,227.6L226.4,223.6L226.6,223.2L227.2,221.6L227.9,219.6L228.6,217.7L228.6,217.6L229.4,215.6L230.1,213.6L230.6,212.2L230.8,211.6L232.2,207.6L232.6,206.4L232.8,205.7L233.5,203.7L234.1,201.7L234.6,200.2L234.8,199.7L235.4,197.7L236.1,195.7L236.6,194.2L236.8,193.7L237.4,191.7L238.1,189.7L238.6,188.3L238.8,187.7L240.2,183.7L240.6,182.5L240.8,181.7L242.2,177.7L242.6,176.7L242.9,175.7L244.3,171.7L244.6,170.8L244.9,169.7L246.3,165.7L246.5,164.9L246.9,163.7L247.6,161.7L248.5,158.7L248.9,157.7L250.1,153.7L250.5,152.4L250.7,151.7L251.4,149.7L252,147.8L252.5,146L252.6,145.8L253.2,143.8L253.9,141.8L254.5,139.8L254.5,139.7L255.1,137.8L255.8,135.8L256.4,133.8L256.5,133.5L257.1,131.8L258.5,127.8L258.5,127.7L259.2,125.8L259.9,123.8L260.5,122.1L260.6,121.8L262,117.8L262.5,116.2L262.7,115.8L263.3,113.8L264,111.8L264.5,110.5L264.7,109.8L265.5,107.8L266.2,105.8L266.5,105L267,103.8L267.7,101.8L268.5,100L268.5,99.8L270.3,95.8L270.5,95.4L271.2,93.8L272.1,91.8L272.5,91.2L273.2,89.9L274.2,87.9L274.5,87.4L275.3,85.9L276.5,84L276.6,83.9L278.1,81.9L278.5,81.3L279.7,79.9L280.5,79L282.5,76.8L285.4,73.9L287.6,71.9L288.5,71.1L289.8,69.9L290.4,69.3L292,67.9L292.4,67.5L294.3,65.9L294.4,65.8L296.4,64L296.6,63.9L298.4,62.2L298.8,61.9L300.4,60.5L301,59.9L302.4,58.6L303.2,57.9L304.4,56.7L305.3,55.9L306.4,54.7L307.2,53.9L308.4,52.6L309.1,51.9L310.4,50.3L312.2,47.9L312.4,47.7L313.5,45.9L314.4,44.5L314.7,43.9L315.9,41.9L316.4,41.1L317.1,39.9L318.2,37.9L318.4,37.6L319.3,35.9L320.4,34L321.4,32L322.4,30.1L322.5,30L323.4,28L324.4,26L325.3,24L326.1,22L326.4,21.4L326.9,20L327.7,18L328.4,16.1L328.4,16L329.6,12L330.1,10L330.4,8.9L330.6,8L330.9,6Z"/>
<path fill="#dcf500" stroke="#dcf500" d="M339.8,6L339.5,8L339.1,10L338.6,12L338.3,13.1L338.1,14L337.5,16L336.8,18L336.3,19.4L336.1,20L334.5,24L334.3,24.4L333.6,26L332.7,28L332.3,28.8L331.8,30L330.4,32.8L329.7,34L328.7,35.9L328.4,36.5L327.6,37.9L326.5,39.9L326.4,40.1L325.3,41.9L324.4,43.6L324.2,43.9L322.4,46.9L321.7,47.9L320.4,49.7L320.2,49.9L318.6,51.9L318.4,52.1L316.7,53.9L314.4,56.2L312.6,57.9L312.4,58.1L308.4,61.7L308.2,61.9L306.4,63.4L305.9,63.9L304.4,65.1L303.5,65.9L302.4,66.8L301.2,67.9L300.4,68.6L298.9,69.9L298.4,70.3L296.6,71.9L296.4,72L292.4,75.8L292.3,75.9L290.4,77.7L290.3,77.9L288.5,79.9L286.8,81.9L286.5,82.3L285.2,83.9L284.5,85.1L283.9,85.9L282.8,87.9L282.5,88.4L281.7,89.9L280.6,91.8L280.5,92.2L279.6,93.8L278.7,95.8L277.7,97.8L276.8,99.8L276.5,100.7L276,101.8L275.2,103.8L274.5,105.5L274.4,105.8L272.8,109.8L272.5,110.7L272.1,111.8L271.4,113.8L270.6,115.8L270.5,116.2L269.9,117.8L267.8,123.8L267,125.8L266.5,127.3L266.3,127.8L264.9,131.8L264.5,133L264.2,133.8L263.6,135.8L262.9,137.8L262.5,139.1L262.3,139.8L261.7,141.8L261,143.8L260.5,145.5L260.4,145.8L259.8,147.8L259.2,149.7L258.6,151.7L258.5,151.9L257.9,153.7L256.7,157.7L256.5,158.2L256,159.7L255.4,161.7L254.7,163.7L254.5,164.2L254,165.7L252.6,169.7L252.5,169.9L251.9,171.7L250.5,175.2L250.4,175.7L249.6,177.7L248.9,179.7L248.5,180.5L248.1,181.7L246.5,185.7L245.8,187.7L245,189.7L244.6,190.9L244.3,191.7L243.5,193.7L242.8,195.7L242,197.7L240.6,201.7L240.6,201.8L239.9,203.7L239.2,205.7L238.6,207.6L237.9,209.6L237.1,211.6L236.6,213.1L235.6,215.6L234.9,217.6L234.6,218.3L234.1,219.6L233.3,221.6L231.2,227.6L230.6,229.3L230.5,229.6L228.7,235.6L228.2,237.6L227.4,241.6L227.1,243.6L226.7,247.6L226.6,249.1L226.6,249.6L226.4,251.6L226.2,255.6L226,257.6L225.8,261.6L225.7,263.5L224.7,283.5L224.6,284.7L224.6,285.5L224.5,287.5L224.3,289.5L223.6,303.5L223.4,305.5L223,313.5L222.8,315.5L222.7,317.5L222.6,318.8L222.6,319.5L222.4,321.4L222.3,323.4L221.9,327.4L221.8,329.4L220.6,341.4L220.6,341.7L220.4,343.4L219.8,349.4L213.1,349.4L213.5,345.4L213.8,343.4L214.4,337.4L214.6,335.7L214.7,335.4L215.7,325.4L216,323.4L216.2,321.4L216.3,319.5L216.5,317.5L216.6,316.6L216.7,315.5L217.5,307.5L217.6,305.5L218.2,299.5L218.3,297.5L218.5,295.5L218.6,294.4L218.7,293.5L219.1,289.5L219.2,287.5L220.2,277.5L220.3,275.5L220.5,273.5L220.6,272.4L220.7,271.5L221.1,267.5L221.2,265.5L221.4,263.5L221.6,261.6L222.2,255.6L222.5,253.6L222.6,252.2L222.7,251.6L223.1,247.6L224,241.6L224.5,239.6L224.6,239L224.9,237.6L225.5,235.6L226,233.6L226.6,231.8L226.6,231.6L228,227.6L228.6,225.8L228.7,225.6L230.1,221.6L230.6,220.4L230.9,219.6L231.6,217.6L232.6,215.1L233.1,213.6L233.9,211.6L235.3,207.6L235.9,205.7L237.3,201.7L237.9,199.7L238.6,197.8L238.6,197.7L240,193.7L240.8,191.7L242.2,187.7L242.6,186.7L242.9,185.7L243.7,183.7L244.4,181.7L244.6,181.2L245.1,179.7L245.9,177.7L246.5,175.8L246.6,175.7L248,171.7L248.5,170.2L248.7,169.7L250.1,165.7L250.5,164.5L250.8,163.7L251.5,161.7L252.1,159.7L252.5,158.4L252.7,157.7L253.4,155.7L254,153.7L254.5,152.1L254.6,151.7L255.3,149.7L255.9,147.8L256.5,145.8L256.5,145.7L257.1,143.8L257.7,141.8L258.4,139.8L258.5,139.3L259,137.8L259.7,135.8L260.3,133.8L260.5,133.2L261,131.8L262.4,127.8L262.5,127.4L263.1,125.8L263.8,123.8L264.5,121.9L264.5,121.8L265.9,117.8L266.5,116.2L266.6,115.8L267.3,113.8L268.1,111.8L268.5,110.6L268.8,109.8L269.5,107.8L271.9,101.8L272.5,100.4L272.7,99.8L273.6,97.8L274.5,95.9L274.5,95.8L275.4,93.8L276.4,91.8L276.5,91.7L277.5,89.9L278.5,88L278.5,87.9L279.7,85.9L280.5,84.6L281,83.9L282.5,81.9L284.1,79.9L284.5,79.5L286,77.9L286.5,77.4L287.9,75.9L288.5,75.4L290.4,73.5L292.2,71.9L292.4,71.7L294.4,69.9L294.5,69.9L296.4,68.2L296.7,67.9L298.4,66.4L299.1,65.9L300.4,64.7L301.4,63.9L302.4,63L303.7,61.9L304.4,61.2L305.9,59.9L306.4,59.5L308.1,57.9L308.4,57.6L310.2,55.9L312.4,53.7L314,51.9L314.4,51.5L315.7,49.9L316.4,49.1L317.2,47.9L318.4,46.2L318.5,45.9L319.7,43.9L320.4,42.8L320.9,41.9L322,39.9L322.4,39.3L323.1,37.9L324.3,35.9L324.4,35.7L325.3,34L326.4,32L328.4,28L330.2,24L331.8,20L332.3,18.5L332.5,18L333.2,16L333.8,14L334.3,12.1L334.4,12L334.8,10L335.3,8L335.6,6Z"/>
<path fill="#f3f700" stroke="#f3f700" d="M343.6,6L343.3,8L342.9,10L342.4,12L342.3,12.5L341.9,14L340.7,18L340.3,19L340,20L338.4,24L338.3,24.1L337.5,26L336.6,28L336.3,28.6L335.7,30L334.7,32L334.3,32.7L333.7,34L332.6,35.9L332.3,36.5L331.5,37.9L330.4,40.1L329.3,41.9L328.4,43.6L328.2,43.9L327,45.9L326.4,47L325.8,47.9L324.4,49.8L324.3,49.9L322.6,51.9L322.4,52.2L320.8,53.9L318.4,56.3L316.7,57.9L316.4,58.2L314.6,59.9L314.4,60L312.4,61.8L312.3,61.9L310.4,63.5L310,63.9L308.4,65.3L307.7,65.9L306.4,67L305.3,67.9L304.4,68.7L303,69.9L302.4,70.4L300.8,71.9L300.4,72.2L298.6,73.9L298.4,74L296.5,75.9L296.4,75.9L294.5,77.9L294.4,77.9L292.6,79.9L292.4,80.1L290.4,82.5L289.4,83.9L288.5,85.3L288.1,85.9L286.9,87.9L286.5,88.7L285.8,89.9L284.8,91.8L284.5,92.4L283.7,93.8L282.8,95.8L282.5,96.5L281.8,97.8L281,99.8L280.5,101L280.1,101.8L276.9,109.8L276.5,110.9L276.2,111.8L275.4,113.8L274.7,115.8L274.5,116.4L274,117.8L273.2,119.8L272.5,121.8L272.5,121.9L271.8,123.8L271.1,125.8L270.5,127.4L270.4,127.8L269.6,129.8L269,131.8L268.5,133.1L268.3,133.8L267.6,135.8L267,137.8L266.5,139.3L266.3,139.8L265.1,143.8L264.5,145.7L264.5,145.8L263.9,147.8L263.2,149.7L262.6,151.7L262.5,152.1L262,153.7L261.4,155.7L260.7,157.7L260.5,158.5L260.1,159.7L259.5,161.7L258.8,163.7L258.5,164.5L258.1,165.7L256.7,169.7L256.5,170.1L255.9,171.7L255.2,173.7L254.5,175.5L254.4,175.7L253.7,177.7L252.9,179.7L252.5,180.6L252.1,181.7L250.5,185.7L249.8,187.7L249,189.7L248.5,190.8L248.2,191.7L247.5,193.7L246.7,195.7L246.5,196.1L246,197.7L245.2,199.7L244.6,201.5L244.5,201.7L243.1,205.7L242.6,207.3L242.4,207.6L241.8,209.6L241,211.6L240.6,212.8L240.3,213.6L238.7,217.6L238.6,218L238,219.6L237.2,221.6L236.6,223.2L236.4,223.6L235,227.6L234.6,228.8L234.3,229.6L233.1,233.6L232.6,235.6L231.4,241.6L231,245.6L230.9,247.6L230.9,249.6L230.7,253.6L230.7,255.6L230.6,257.6L230.6,259.6L230.5,261.6L230.5,265.5L230.4,267.5L230.4,271.5L230.3,273.5L230.3,277.5L230.2,279.5L230.2,283.5L230.1,285.5L230.1,287.5L230,289.5L230,291.5L229.9,293.5L229.9,295.5L229.7,299.5L229.7,301.5L229.6,303.5L229.6,305.5L229.3,311.5L229.3,313.5L229,319.5L228.9,321.4L228.6,327.4L228.6,327.8L228.5,329.4L228.4,331.4L228.2,333.4L228,337.4L227.8,339.4L227.7,341.4L227.3,345.4L227.2,347.4L227,349.4L219.8,349.4L220.4,343.4L220.6,341.7L220.6,341.4L221.8,329.4L221.9,327.4L222.3,323.4L222.4,321.4L222.6,319.5L222.6,318.8L222.7,317.5L222.8,315.5L223,313.5L223.4,305.5L223.6,303.5L224.3,289.5L224.5,287.5L224.6,285.5L224.6,284.7L224.7,283.5L225.7,263.5L225.8,261.6L226,257.6L226.2,255.6L226.4,251.6L226.6,249.6L226.6,249.1L226.7,247.6L227.1,243.6L227.4,241.6L228.2,237.6L228.7,235.6L230.5,229.6L230.6,229.3L231.2,227.6L233.3,221.6L234.1,219.6L234.6,218.3L234.9,217.6L235.6,215.6L236.6,213.1L237.1,211.6L237.9,209.6L238.6,207.6L239.2,205.7L239.9,203.7L240.6,201.8L240.6,201.7L242,197.7L242.8,195.7L243.5,193.7L244.3,191.7L244.6,190.9L245,189.7L245.8,187.7L246.5,185.7L248.1,181.7L248.5,180.5L248.9,179.7L249.6,177.7L250.4,175.7L250.5,175.2L251.9,171.7L252.5,169.9L252.6,169.7L254,165.7L254.5,164.2L254.7,163.7L255.4,161.7L256,159.7L256.5,158.2L256.7,157.7L257.9,153.7L258.5,151.9L258.6,151.7L259.2,149.7L259.8,147.8L260.4,145.8L260.5,145.5L261,143.8L261.7,141.8L262.3,139.8L262.5,139.1L262.9,137.8L263.6,135.8L264.2,133.8L264.5,133L264.9,131.8L266.3,127.8L266.5,127.3L267,125.8L267.8,123.8L269.9,117.8L270.5,116.2L270.6,115.8L271.4,113.8L272.1,111.8L272.5,110.7L272.8,109.8L274.4,105.8L274.5,105.5L275.2,103.8L276,101.8L276.5,100.7L276.8,99.8L277.7,97.8L278.7,95.8L279.6,93.8L280.5,92.2L280.6,91.8L281.7,89.9L282.5,88.4L282.8,87.9L283.9,85.9L284.5,85.1L285.2,83.9L286.5,82.3L286.8,81.9L288.5,79.9L290.3,77.9L290.4,77.7L292.3,75.9L292.4,75.8L296.4,72L296.6,71.9L298.4,70.3L298.9,69.9L300.4,68.6L301.2,67.9L302.4,66.8L303.5,65.9L304.4,65.1L305.9,63.9L306.4,63.4L308.2,61.9L308.4,61.7L312.4,58.1L312.6,57.9L314.4,56.2L316.7,53.9L318.4,52.1L318.6,51.9L320.2,49.9L320.4,49.7L321.7,47.9L322.4,46.9L324.2,43.9L324.4,43.6L325.3,41.9L326.4,40.1L326.5,39.9L327.6,37.9L328.4,36.5L328.7,35.9L329.7,34L330.4,32.8L331.8,30L332.3,28.8L332.7,28L333.6,26L334.3,24.4L334.5,24L336.1,20L336.3,19.4L336.8,18L337.5,16L338.1,14L338.3,13.1L338.6,12L339.1,10L339.5,8L339.8,6Z"/>
<path fill="#fff100" stroke="#fff100" d="M346.7,6L346.4,8L345.6,12L345,14L344.5,16L344.3,16.5L343.8,18L342.4,22L342.3,22.1L341.6,24L340.7,26L340.3,26.9L339.8,28L338.9,30L336.9,34L336.3,35.1L335.9,35.9L334.8,37.9L333.8,39.9L332.7,41.9L332.3,42.5L331.5,43.9L330.4,45.9L330.4,46L329.1,47.9L328.4,49L327.7,49.9L326.4,51.6L326.1,51.9L324.4,53.8L324.3,53.9L322.4,55.9L322.3,55.9L320.3,57.9L318.4,59.7L318.1,59.9L316.4,61.5L315.9,61.9L314.4,63.2L313.6,63.9L312.4,65L311.3,65.9L310.4,66.7L309.1,67.9L308.4,68.5L306.8,69.9L306.4,70.2L304.5,71.9L304.4,72L302.4,73.8L302.4,73.9L300.4,75.8L298.3,77.9L296.5,79.9L296.4,79.9L294.4,82.4L293.3,83.9L292.4,85.2L292,85.9L290.9,87.9L290.4,88.6L289.8,89.9L288.7,91.8L288.5,92.4L287.7,93.8L286.8,95.8L286.5,96.5L285.9,97.8L285,99.8L284.5,101L284.1,101.8L282.5,105.8L282.5,105.9L281.7,107.8L281,109.8L280.5,111.1L280.2,111.8L278.8,115.8L278.5,116.6L278.1,117.8L277.3,119.8L276.6,121.8L276.5,122.2L275.9,123.8L275.2,125.8L274.5,127.7L274.5,127.8L273.1,131.8L272.5,133.5L272.4,133.8L271.7,135.8L271.1,137.8L270.5,139.6L270.4,139.8L268.6,145.8L268.5,146L268,147.8L267.3,149.7L266.7,151.7L266.5,152.5L266.1,153.7L264.9,157.7L264.5,158.9L264.2,159.7L263.6,161.7L262.9,163.7L262.5,165L262.3,165.7L260.9,169.7L260.5,170.8L260.2,171.7L259.5,173.7L258.7,175.7L258.5,176.3L258,177.7L257.2,179.7L256.5,181.5L256.5,181.7L254.9,185.7L254.5,186.8L254.2,187.7L253.4,189.7L252.7,191.7L252.5,192L251.9,193.7L251.2,195.7L250.5,197.4L250.4,197.7L249,201.7L248.5,203L248.3,203.7L247.7,205.7L247,207.6L246.5,209L246.3,209.6L245.6,211.6L244.8,213.6L244.6,214.4L244.1,215.6L243.3,217.6L242.6,219.6L241.8,221.6L241.1,223.6L240.6,225L240.4,225.6L239,229.6L238.6,231.1L238.4,231.6L236.9,237.6L236.6,239.4L236.5,239.6L236.1,243.6L235.9,247.6L235.9,273.5L236,275.5L236,295.5L235.9,297.5L235.9,305.5L235.8,307.5L235.8,313.5L235.7,315.5L235.7,319.5L235.6,321.4L235.6,325.4L235.5,327.4L235.5,329.4L235.3,333.4L235.3,335.4L234.9,343.4L234.9,345.4L234.7,349.4L227,349.4L227.2,347.4L227.3,345.4L227.7,341.4L227.8,339.4L228,337.4L228.2,333.4L228.4,331.4L228.5,329.4L228.6,327.8L228.6,327.4L228.9,321.4L229,319.5L229.3,313.5L229.3,311.5L229.6,305.5L229.6,303.5L229.7,301.5L229.7,299.5L229.9,295.5L229.9,293.5L230,291.5L230,289.5L230.1,287.5L230.1,285.5L230.2,283.5L230.2,279.5L230.3,277.5L230.3,273.5L230.4,271.5L230.4,267.5L230.5,265.5L230.5,261.6L230.6,259.6L230.6,257.6L230.7,255.6L230.7,253.6L230.9,249.6L230.9,247.6L231,245.6L231.4,241.6L232.6,235.6L233.1,233.6L234.3,229.6L234.6,228.8L235,227.6L236.4,223.6L236.6,223.2L237.2,221.6L238,219.6L238.6,218L238.7,217.6L240.3,213.6L240.6,212.8L241,211.6L241.8,209.6L242.4,207.6L242.6,207.3L243.1,205.7L244.5,201.7L244.6,201.5L245.2,199.7L246,197.7L246.5,196.1L246.7,195.7L247.5,193.7L248.2,191.7L248.5,190.8L249,189.7L249.8,187.7L250.5,185.7L252.1,181.7L252.5,180.6L252.9,179.7L253.7,177.7L254.4,175.7L254.5,175.5L255.2,173.7L255.9,171.7L256.5,170.1L256.7,169.7L258.1,165.7L258.5,164.5L258.8,163.7L259.5,161.7L260.1,159.7L260.5,158.5L260.7,157.7L261.4,155.7L262,153.7L262.5,152.1L262.6,151.7L263.2,149.7L263.9,147.8L264.5,145.8L264.5,145.7L265.1,143.8L266.3,139.8L266.5,139.3L267,137.8L267.6,135.8L268.3,133.8L268.5,133.1L269,131.8L269.6,129.8L270.4,127.8L270.5,127.4L271.1,125.8L271.8,123.8L272.5,121.9L272.5,121.8L273.2,119.8L274,117.8L274.5,116.4L274.7,115.8L275.4,113.8L276.2,111.8L276.5,110.9L276.9,109.8L280.1,101.8L280.5,101L281,99.8L281.8,97.8L282.5,96.5L282.8,95.8L283.7,93.8L284.5,92.4L284.8,91.8L285.8,89.9L286.5,88.7L286.9,87.9L288.1,85.9L288.5,85.3L289.4,83.9L290.4,82.5L292.4,80.1L292.6,79.9L294.4,77.9L294.5,77.9L296.4,75.9L296.5,75.9L298.4,74L298.6,73.9L300.4,72.2L300.8,71.9L302.4,70.4L303,69.9L304.4,68.7L305.3,67.9L306.4,67L307.7,65.9L308.4,65.3L310,63.9L310.4,63.5L312.3,61.9L312.4,61.8L314.4,60L314.6,59.9L316.4,58.2L316.7,57.9L318.4,56.3L320.8,53.9L322.4,52.2L322.6,51.9L324.3,49.9L324.4,49.8L325.8,47.9L326.4,47L327,45.9L328.2,43.9L328.4,43.6L329.3,41.9L330.4,40.1L331.5,37.9L332.3,36.5L332.6,35.9L333.7,34L334.3,32.7L334.7,32L335.7,30L336.3,28.6L336.6,28L337.5,26L338.3,24.1L338.4,24L340,20L340.3,19L340.7,18L341.9,14L342.3,12.5L342.4,12L342.9,10L343.3,8L343.6,6Z"/>
<path fill="#ffe400" stroke="#ffe400" d="M349.3,6L349,8L348.6,10L348.3,11.4L348.2,12L347.6,14L347.1,16L346.4,18L346.3,18.4L345.7,20L345,22L344.3,23.7L344.2,24L343.4,26L342.5,28L342.3,28.4L341.6,30L340.7,32L340.3,32.6L339.7,34L338.7,35.9L338.3,36.6L337.6,37.9L336.6,39.9L336.3,40.3L335.5,41.9L334.4,43.9L334.3,44L333.2,45.9L332,47.9L330.6,49.9L330.4,50.2L329,51.9L328.4,52.7L327.2,53.9L326.4,54.9L322.4,58.9L321.3,59.9L320.4,60.7L319.1,61.9L318.4,62.6L316.9,63.9L316.4,64.4L314.7,65.9L314.4,66.1L310.4,69.7L310.2,69.9L308.4,71.5L308,71.9L306.4,73.4L301.9,77.9L300.4,79.6L300.2,79.9L298.5,81.9L298.4,82L297,83.9L296.4,84.8L295.8,85.9L294.7,87.9L294.4,88.3L293.6,89.9L292.6,91.8L292.4,92.1L291.6,93.8L290.7,95.8L290.4,96.3L289.8,97.8L288.9,99.8L288.5,100.9L288.1,101.8L287.2,103.8L286.5,105.8L286.5,105.9L285.7,107.8L285,109.8L284.5,111.2L284.2,111.8L282.8,115.8L282.5,116.8L282.1,117.8L280.7,121.8L280.5,122.5L280,123.8L278.6,127.8L278.5,128L277.9,129.8L275.8,135.8L275.2,137.8L274.5,139.8L274.5,139.9L273.9,141.8L273.2,143.8L272.6,145.8L272.5,146.2L272,147.8L271.4,149.7L270.2,153.7L269.5,155.7L268.9,157.7L268.5,159.2L268.3,159.7L267.1,163.7L266.5,165.5L266.4,165.7L265.8,167.7L265.1,169.7L264.5,171.6L264.5,171.7L263.1,175.7L262.5,177.3L262.4,177.7L261.6,179.7L260.9,181.7L260.5,182.8L260.2,183.7L259.5,185.7L258.5,188.2L258,189.7L257.3,191.7L256.5,193.7L255.1,197.7L254.5,199.4L254.4,199.7L253.8,201.7L253.1,203.7L252.5,205.4L252.5,205.7L251.8,207.6L251.2,209.6L250.5,211.4L250.4,211.6L249,215.6L248.5,216.8L248.2,217.6L246.8,221.6L246.5,222.2L246,223.6L245.3,225.6L244.7,227.6L244.6,227.9L244,229.6L243.4,231.6L242.9,233.6L242.6,235L242.4,235.6L242,237.6L241.4,241.6L241.2,243.6L241.2,253.6L241.3,255.6L241.3,257.6L241.4,259.6L241.4,261.6L241.5,263.5L241.5,265.5L241.6,267.5L241.6,269.5L241.7,271.5L241.7,273.5L241.8,275.5L241.8,277.5L241.9,279.5L241.9,281.5L242,283.5L242,285.5L242.1,287.5L242.1,293.5L242.2,295.5L242.2,307.5L242.3,309.5L242.3,319.5L242.4,321.4L242.4,323.4L242.5,325.4L242.5,327.4L242.6,327.9L242.6,331.4L242.7,333.4L242.7,349.4L234.7,349.4L234.9,345.4L234.9,343.4L235.3,335.4L235.3,333.4L235.5,329.4L235.5,327.4L235.6,325.4L235.6,321.4L235.7,319.5L235.7,315.5L235.8,313.5L235.8,307.5L235.9,305.5L235.9,297.5L236,295.5L236,275.5L235.9,273.5L235.9,247.6L236.1,243.6L236.5,239.6L236.6,239.4L236.9,237.6L238.4,231.6L238.6,231.1L239,229.6L240.4,225.6L240.6,225L241.1,223.6L241.8,221.6L242.6,219.6L243.3,217.6L244.1,215.6L244.6,214.4L244.8,213.6L245.6,211.6L246.3,209.6L246.5,209L247,207.6L247.7,205.7L248.3,203.7L248.5,203L249,201.7L250.4,197.7L250.5,197.4L251.2,195.7L251.9,193.7L252.5,192L252.7,191.7L253.4,189.7L254.2,187.7L254.5,186.8L254.9,185.7L256.5,181.7L256.5,181.5L257.2,179.7L258,177.7L258.5,176.3L258.7,175.7L259.5,173.7L260.2,171.7L260.5,170.8L260.9,169.7L262.3,165.7L262.5,165L262.9,163.7L263.6,161.7L264.2,159.7L264.5,158.9L264.9,157.7L266.1,153.7L266.5,152.5L266.7,151.7L267.3,149.7L268,147.8L268.5,146L268.6,145.8L270.4,139.8L270.5,139.6L271.1,137.8L271.7,135.8L272.4,133.8L272.5,133.5L273.1,131.8L274.5,127.8L274.5,127.7L275.2,125.8L275.9,123.8L276.5,122.2L276.6,121.8L277.3,119.8L278.1,117.8L278.5,116.6L278.8,115.8L280.2,111.8L280.5,111.1L281,109.8L281.7,107.8L282.5,105.9L282.5,105.8L284.1,101.8L284.5,101L285,99.8L285.9,97.8L286.5,96.5L286.8,95.8L287.7,93.8L288.5,92.4L288.7,91.8L289.8,89.9L290.4,88.6L290.9,87.9L292,85.9L292.4,85.2L293.3,83.9L294.4,82.4L296.4,79.9L296.5,79.9L298.3,77.9L300.4,75.8L302.4,73.9L302.4,73.8L304.4,72L304.5,71.9L306.4,70.2L306.8,69.9L308.4,68.5L309.1,67.9L310.4,66.7L311.3,65.9L312.4,65L313.6,63.9L314.4,63.2L315.9,61.9L316.4,61.5L318.1,59.9L318.4,59.7L320.3,57.9L322.3,55.9L322.4,55.9L324.3,53.9L324.4,53.8L326.1,51.9L326.4,51.6L327.7,49.9L328.4,49L329.1,47.9L330.4,46L330.4,45.9L331.5,43.9L332.3,42.5L332.7,41.9L333.8,39.9L334.8,37.9L335.9,35.9L336.3,35.1L336.9,34L338.9,30L339.8,28L340.3,26.9L340.7,26L341.6,24L342.3,22.1L342.4,22L343.8,18L344.3,16.5L344.5,16L345,14L345.6,12L346.4,8L346.7,6Z"/>
<path fill="#ffd600" stroke="#ffd600" d="M351.7,6L351.4,8L351,10L350,14L348.8,18L348.3,19.4L348.1,20L347.4,22L346.6,24L346.3,24.7L345.8,26L344.9,28L344.3,29.3L344,30L343.1,32L342.1,34L341.1,35.9L340.3,37.6L340.1,37.9L339.1,39.9L338.3,41.4L338,41.9L336.9,43.9L336.3,45L335.8,45.9L334.3,48.4L333.3,49.9L332.3,51.1L331.7,51.9L330.4,53.5L330,53.9L328.4,55.7L328.2,55.9L326.4,57.8L326.2,57.9L324.2,59.9L322.4,61.6L322.1,61.9L320.4,63.5L319.9,63.9L318.4,65.3L317.8,65.9L316.4,67.2L315.6,67.9L314.4,69L313.4,69.9L312.4,70.9L311.3,71.9L306.4,76.8L304.4,79L303.7,79.9L302.4,81.5L302.1,81.9L300.7,83.9L300.4,84.3L299.4,85.9L298.4,87.7L298.4,87.9L297.3,89.9L296.4,91.6L296.3,91.8L294.5,95.8L294.4,95.9L293.6,97.8L292.8,99.8L292.4,100.6L291.9,101.8L291.2,103.8L290.4,105.7L290.4,105.8L289,109.8L288.5,111.2L288.2,111.8L287.5,113.8L286.9,115.8L286.5,117L286.2,117.8L284.8,121.8L284.5,122.7L284.1,123.8L282.7,127.8L282.5,128.4L282,129.8L280.6,133.8L280.5,134.1L279.9,135.8L279.2,137.8L278.6,139.8L278.5,140.1L277.9,141.8L276.7,145.8L276.5,146.3L276,147.8L275.4,149.7L274.8,151.7L274.5,152.8L274.2,153.7L273,157.7L272.5,159.4L272.4,159.7L270.6,165.7L270.5,166.1L270,167.7L268.8,171.7L268.5,172.6L268.1,173.7L267.5,175.7L266.8,177.7L266.5,178.6L266.1,179.7L265.5,181.7L264.8,183.7L264.5,184.5L264.1,185.7L262.7,189.7L262.5,190.3L262,191.7L261.4,193.7L260.7,195.7L260.5,196.2L260,197.7L259.4,199.7L258.7,201.7L258.5,202.4L258.1,203.7L257.5,205.7L256.9,207.6L256.5,208.9L256.3,209.6L254.9,213.6L254.5,214.7L254.2,215.6L252.8,219.6L252.5,220.2L252,221.6L250.6,225.6L250.5,225.9L250,227.6L248.5,232.6L248.3,233.6L247.8,235.6L247.5,237.6L247.1,239.6L246.9,241.6L246.7,245.6L246.8,247.6L246.8,249.6L246.9,251.6L246.9,253.6L247.1,257.6L247.1,259.6L247.2,261.6L247.3,263.5L247.6,269.5L247.6,271.5L248.1,281.5L248.1,283.5L248.3,287.5L248.3,289.5L248.4,291.5L248.4,293.5L248.5,295.5L248.5,299.6L248.6,301.5L248.6,303.5L248.7,305.5L248.7,307.5L248.9,311.5L248.9,313.5L249.2,319.5L249.3,321.4L249.4,323.4L249.6,325.4L249.7,327.4L249.9,329.4L250,331.4L250.2,333.4L250.4,337.4L250.5,339.2L250.6,339.4L250.8,343.4L251,345.4L251.2,349.4L242.7,349.4L242.7,333.4L242.6,331.4L242.6,327.9L242.5,327.4L242.5,325.4L242.4,323.4L242.4,321.4L242.3,319.5L242.3,309.5L242.2,307.5L242.2,295.5L242.1,293.5L242.1,287.5L242,285.5L242,283.5L241.9,281.5L241.9,279.5L241.8,277.5L241.8,275.5L241.7,273.5L241.7,271.5L241.6,269.5L241.6,267.5L241.5,265.5L241.5,263.5L241.4,261.6L241.4,259.6L241.3,257.6L241.3,255.6L241.2,253.6L241.2,243.6L241.4,241.6L242,237.6L242.4,235.6L242.6,235L242.9,233.6L243.4,231.6L244,229.6L244.6,227.9L244.7,227.6L245.3,225.6L246,223.6L246.5,222.2L246.8,221.6L248.2,217.6L248.5,216.8L249,215.6L250.4,211.6L250.5,211.4L251.2,209.6L251.8,207.6L252.5,205.7L252.5,205.4L253.1,203.7L253.8,201.7L254.4,199.7L254.5,199.4L255.1,197.7L256.5,193.7L257.3,191.7L258,189.7L258.5,188.2L259.5,185.7L260.2,183.7L260.5,182.8L260.9,181.7L261.6,179.7L262.4,177.7L262.5,177.3L263.1,175.7L264.5,171.7L264.5,171.6L265.1,169.7L265.8,167.7L266.4,165.7L266.5,165.5L267.1,163.7L268.3,159.7L268.5,159.2L268.9,157.7L269.5,155.7L270.2,153.7L271.4,149.7L272,147.8L272.5,146.2L272.6,145.8L273.2,143.8L273.9,141.8L274.5,139.9L274.5,139.8L275.2,137.8L275.8,135.8L277.9,129.8L278.5,128L278.6,127.8L280,123.8L280.5,122.5L280.7,121.8L282.1,117.8L282.5,116.8L282.8,115.8L284.2,111.8L284.5,111.2L285,109.8L285.7,107.8L286.5,105.9L286.5,105.8L287.2,103.8L288.1,101.8L288.5,100.9L288.9,99.8L289.8,97.8L290.4,96.3L290.7,95.8L291.6,93.8L292.4,92.1L292.6,91.8L293.6,89.9L294.4,88.3L294.7,87.9L295.8,85.9L296.4,84.8L297,83.9L298.4,82L298.5,81.9L300.2,79.9L300.4,79.6L301.9,77.9L306.4,73.4L308,71.9L308.4,71.5L310.2,69.9L310.4,69.7L314.4,66.1L314.7,65.9L316.4,64.4L316.9,63.9L318.4,62.6L319.1,61.9L320.4,60.7L321.3,59.9L322.4,58.9L326.4,54.9L327.2,53.9L328.4,52.7L329,51.9L330.4,50.2L330.6,49.9L332,47.9L333.2,45.9L334.3,44L334.4,43.9L335.5,41.9L336.3,40.3L336.6,39.9L337.6,37.9L338.3,36.6L338.7,35.9L339.7,34L340.3,32.6L340.7,32L341.6,30L342.3,28.4L342.5,28L343.4,26L344.2,24L344.3,23.7L345,22L345.7,20L346.3,18.4L346.4,18L347.1,16L347.6,14L348.2,12L348.3,11.4L348.6,10L349,8L349.3,6Z"/>
<path fill="#ffc900" stroke="#ffc900" d="M353.9,6L353.6,8L353.2,10L352.7,12L352.3,13.7L352.2,14L350.4,20L350.3,20.1L349.6,22L348.9,24L348.3,25.4L348.1,26L344.5,34L344.3,34.3L341.5,39.9L340.4,41.9L340.3,42.2L339.4,43.9L338.3,45.9L337.1,47.9L336.3,49.1L335.8,49.9L334.3,51.8L334.3,51.9L332.6,53.9L332.3,54.2L330.8,55.9L330.4,56.4L328.9,57.9L328.4,58.5L326.4,60.5L324.9,61.9L324.4,62.5L322.9,63.9L322.4,64.4L320.8,65.9L320.4,66.3L318.7,67.9L318.4,68.2L316.6,69.9L316.4,70.1L314.5,71.9L314.4,72L312.6,73.9L312.4,74.1L310.7,75.9L310.4,76.2L308.8,77.9L305.6,81.9L304.4,83.6L304.2,83.9L303.1,85.9L302.4,87.1L301,89.9L300.4,91L300,91.8L299.1,93.8L298.4,95.4L298.2,95.8L295.8,101.8L295.1,103.8L294.4,105.6L294.3,105.8L292.9,109.8L292.4,111.3L292.3,111.8L290.9,115.8L290.4,117.2L290.2,117.8L289.6,119.8L288.9,121.8L288.5,123.1L288.2,123.8L286.8,127.8L286.5,128.8L286.1,129.8L284.7,133.8L284.5,134.5L284,135.8L283.4,137.8L282.7,139.8L282.5,140.4L282,141.8L281.4,143.8L280.7,145.8L280.5,146.5L280.1,147.8L279.5,149.7L278.8,151.7L278.5,153L278.2,153.7L277.6,155.7L277.1,157.7L275.9,161.7L275.4,163.7L274.8,165.7L274.3,167.7L273.7,169.7L273.2,171.7L272.6,173.7L272.5,174L272,175.7L270.8,179.7L270.5,180.6L270.2,181.7L269.5,183.7L268.9,185.7L268.5,187L268.3,187.7L267.1,191.7L266.5,193.4L266.4,193.7L264.6,199.7L264.5,200L264,201.7L263.5,203.7L262.9,205.7L262.5,207.1L262.4,207.6L261.8,209.6L261.1,211.6L260.5,213.5L260.5,213.6L259.1,217.6L258.5,219.3L258.4,219.6L257,223.6L256.5,225.1L256.4,225.6L255.7,227.6L255.2,229.6L254.6,231.6L254.5,231.9L254.1,233.6L253.3,237.6L253,239.6L252.8,241.6L252.7,243.6L252.7,247.6L252.8,249.6L252.8,251.6L253.3,261.6L253.4,263.5L253.7,269.5L253.9,271.5L254.5,283.5L254.5,284L254.6,285.5L254.9,291.5L254.9,293.5L255,295.5L255,297.5L255.1,299.5L255.1,301.5L255.8,315.5L256,317.5L256.1,319.5L256.5,323.3L256.5,323.4L257.7,331.4L257.9,333.4L258.2,335.4L258.4,337.4L258.5,338.2L258.7,339.4L258.9,341.4L260.1,349.4L251.2,349.4L251,345.4L250.8,343.4L250.6,339.4L250.5,339.2L250.4,337.4L250.2,333.4L250,331.4L249.9,329.4L249.7,327.4L249.6,325.4L249.4,323.4L249.3,321.4L249.2,319.5L248.9,313.5L248.9,311.5L248.7,307.5L248.7,305.5L248.6,303.5L248.6,301.5L248.5,299.6L248.5,295.5L248.4,293.5L248.4,291.5L248.3,289.5L248.3,287.5L248.1,283.5L248.1,281.5L247.6,271.5L247.6,269.5L247.3,263.5L247.2,261.6L247.1,259.6L247.1,257.6L246.9,253.6L246.9,251.6L246.8,249.6L246.8,247.6L246.7,245.6L246.9,241.6L247.1,239.6L247.5,237.6L247.8,235.6L248.3,233.6L248.5,232.6L250,227.6L250.5,225.9L250.6,225.6L252,221.6L252.5,220.2L252.8,219.6L254.2,215.6L254.5,214.7L254.9,213.6L256.3,209.6L256.5,208.9L256.9,207.6L257.5,205.7L258.1,203.7L258.5,202.4L258.7,201.7L259.4,199.7L260,197.7L260.5,196.2L260.7,195.7L261.4,193.7L262,191.7L262.5,190.3L262.7,189.7L264.1,185.7L264.5,184.5L264.8,183.7L265.5,181.7L266.1,179.7L266.5,178.6L266.8,177.7L267.5,175.7L268.1,173.7L268.5,172.6L268.8,171.7L270,167.7L270.5,166.1L270.6,165.7L272.4,159.7L272.5,159.4L273,157.7L274.2,153.7L274.5,152.8L274.8,151.7L275.4,149.7L276,147.8L276.5,146.3L276.7,145.8L277.9,141.8L278.5,140.1L278.6,139.8L279.2,137.8L279.9,135.8L280.5,134.1L280.6,133.8L282,129.8L282.5,128.4L282.7,127.8L284.1,123.8L284.5,122.7L284.8,121.8L286.2,117.8L286.5,117L286.9,115.8L287.5,113.8L288.2,111.8L288.5,111.2L289,109.8L290.4,105.8L290.4,105.7L291.2,103.8L291.9,101.8L292.4,100.6L292.8,99.8L293.6,97.8L294.4,95.9L294.5,95.8L296.3,91.8L296.4,91.6L297.3,89.9L298.4,87.9L298.4,87.7L299.4,85.9L300.4,84.3L300.7,83.9L302.1,81.9L302.4,81.5L303.7,79.9L304.4,79L306.4,76.8L311.3,71.9L312.4,70.9L313.4,69.9L314.4,69L315.6,67.9L316.4,67.2L317.8,65.9L318.4,65.3L319.9,63.9L320.4,63.5L322.1,61.9L322.4,61.6L324.2,59.9L326.2,57.9L326.4,57.8L328.2,55.9L328.4,55.7L330,53.9L330.4,53.5L331.7,51.9L332.3,51.1L333.3,49.9L334.3,48.4L335.8,45.9L336.3,45L336.9,43.9L338,41.9L338.3,41.4L339.1,39.9L340.1,37.9L340.3,37.6L341.1,35.9L342.1,34L343.1,32L344,30L344.3,29.3L344.9,28L345.8,26L346.3,24.7L346.6,24L347.4,22L348.1,20L348.3,19.4L348.8,18L350,14L351,10L351.4,8L351.7,6Z"/>
<path fill="#ffbb00" stroke="#ffbb00" d="M356.1,6L355.8,8L355.4,10L354.4,14L354.3,14.3L353.8,16L353.2,18L352.5,20L352.3,20.6L351.8,22L351.1,24L350.3,25.9L350.3,26L349.4,28L348.6,30L348.3,30.6L347.7,32L346.8,34L346.3,34.9L344.8,37.9L344.3,39L343.8,39.9L341.8,43.9L340.7,45.9L340.3,46.6L339.6,47.9L338.3,49.8L338.2,49.9L336.8,51.9L336.3,52.5L335.2,53.9L333.4,55.9L332.3,57.1L331.6,57.9L330.4,59.2L329.7,59.9L328.4,61.3L327.7,61.9L326.4,63.3L325.7,63.9L324.4,65.3L323.7,65.9L317.7,71.9L316.4,73.3L315.8,73.9L314.4,75.4L314,75.9L312.4,77.7L312.2,77.9L310.6,79.9L310.4,80.2L309.1,81.9L308.4,83L307.8,83.9L306.7,85.9L306.4,86.4L305.6,87.9L304.7,89.9L304.4,90.4L303.8,91.8L302.9,93.8L302.4,94.9L302,95.8L301.2,97.8L300.5,99.8L300.4,99.9L299.7,101.8L299,103.8L298.4,105.5L298.3,105.8L297.6,107.8L297,109.8L296.4,111.4L296.3,111.8L295.7,113.8L295,115.8L294.4,117.6L294.4,117.8L293.7,119.8L293.1,121.8L292.4,123.6L292.4,123.8L291,127.8L290.4,129.4L290.3,129.8L288.9,133.8L288.5,135.1L288.2,135.8L286.8,139.8L286.5,140.9L286.2,141.8L285.5,143.8L284.9,145.8L284.5,147L284.2,147.8L283.6,149.7L283,151.7L282.5,153.4L282.4,153.7L280.6,159.7L280.5,160.4L280.1,161.7L278.6,167.7L278.5,168.4L278.1,169.7L276.6,175.7L276.5,176.2L276.1,177.7L275.6,179.7L275,181.7L274,185.7L273.4,187.7L272.9,189.7L272.5,191L272.3,191.7L271.8,193.7L271.2,195.7L270.7,197.7L270.5,198.4L270.2,199.7L268.7,205.7L268.5,206.3L268.2,207.6L267,211.6L266.5,213.3L266.4,213.6L265.8,215.6L265.1,217.6L264.5,219.5L264.5,219.6L263.8,221.6L263.2,223.6L262.5,225.6L262.5,225.7L262,227.6L261.4,229.6L260.9,231.6L260.5,233.1L259.6,237.6L259,243.6L259,245.6L259.2,249.6L259.2,251.6L259.5,257.6L259.7,259.6L259.8,261.6L259.9,263.5L260.1,267.5L260.3,269.5L260.5,273.5L260.5,273.7L260.6,275.5L260.8,277.5L261,281.5L261.2,283.5L261.7,293.5L261.7,295.5L261.9,299.5L261.9,301.5L262,303.5L262.2,305.5L262.4,309.5L262.5,310.8L262.6,311.5L262.7,313.5L263.3,319.5L263.6,321.4L263.9,323.4L264.3,325.4L264.5,326.3L264.8,327.4L265.6,331.4L265.9,333.4L266.3,335.4L266.5,336.6L266.7,337.4L268.7,347.4L269.2,349.4L260.1,349.4L258.9,341.4L258.7,339.4L258.5,338.2L258.4,337.4L258.2,335.4L257.9,333.4L257.7,331.4L256.5,323.4L256.5,323.3L256.1,319.5L256,317.5L255.8,315.5L255.1,301.5L255.1,299.5L255,297.5L255,295.5L254.9,293.5L254.9,291.5L254.6,285.5L254.5,284L254.5,283.5L253.9,271.5L253.7,269.5L253.4,263.5L253.3,261.6L252.8,251.6L252.8,249.6L252.7,247.6L252.7,243.6L252.8,241.6L253,239.6L253.3,237.6L254.1,233.6L254.5,231.9L254.6,231.6L255.2,229.6L255.7,227.6L256.4,225.6L256.5,225.1L257,223.6L258.4,219.6L258.5,219.3L259.1,217.6L260.5,213.6L260.5,213.5L261.1,211.6L261.8,209.6L262.4,207.6L262.5,207.1L262.9,205.7L263.5,203.7L264,201.7L264.5,200L264.6,199.7L266.4,193.7L266.5,193.4L267.1,191.7L268.3,187.7L268.5,187L268.9,185.7L269.5,183.7L270.2,181.7L270.5,180.6L270.8,179.7L272,175.7L272.5,174L272.6,173.7L273.2,171.7L273.7,169.7L274.3,167.7L274.8,165.7L275.4,163.7L275.9,161.7L277.1,157.7L277.6,155.7L278.2,153.7L278.5,153L278.8,151.7L279.5,149.7L280.1,147.8L280.5,146.5L280.7,145.8L281.4,143.8L282,141.8L282.5,140.4L282.7,139.8L283.4,137.8L284,135.8L284.5,134.5L284.7,133.8L286.1,129.8L286.5,128.8L286.8,127.8L288.2,123.8L288.5,123.1L288.9,121.8L289.6,119.8L290.2,117.8L290.4,117.2L290.9,115.8L292.3,111.8L292.4,111.3L292.9,109.8L294.3,105.8L294.4,105.6L295.1,103.8L295.8,101.8L298.2,95.8L298.4,95.4L299.1,93.8L300,91.8L300.4,91L301,89.9L302.4,87.1L303.1,85.9L304.2,83.9L304.4,83.6L305.6,81.9L308.8,77.9L310.4,76.2L310.7,75.9L312.4,74.1L312.6,73.9L314.4,72L314.5,71.9L316.4,70.1L316.6,69.9L318.4,68.2L318.7,67.9L320.4,66.3L320.8,65.9L322.4,64.4L322.9,63.9L324.4,62.5L324.9,61.9L326.4,60.5L328.4,58.5L328.9,57.9L330.4,56.4L330.8,55.9L332.3,54.2L332.6,53.9L334.3,51.9L334.3,51.8L335.8,49.9L336.3,49.1L337.1,47.9L338.3,45.9L339.4,43.9L340.3,42.2L340.4,41.9L341.5,39.9L344.3,34.3L344.5,34L348.1,26L348.3,25.4L348.9,24L349.6,22L350.3,20.1L350.4,20L352.2,14L352.3,13.7L352.7,12L353.2,10L353.6,8L353.9,6Z"/>
<path fill="#ffad00" stroke="#ffad00" d="M358.3,6L358.3,6.3L358,8L357.6,10L356.6,14L355.4,18L354.7,20L354.3,21.2L354,22L353.3,24L352.5,26L352.3,26.4L351.7,28L350.8,30L350.3,31.1L349.9,32L349,34L348.3,35.5L347.1,37.9L346.3,39.6L346.2,39.9L345.2,41.9L344.3,43.6L344.1,43.9L343.1,45.9L342.3,47.3L342,47.9L340.7,49.9L340.3,50.4L339.3,51.9L338.3,53.1L337.7,53.9L336.3,55.6L336,55.9L334.3,57.8L334.3,57.9L332.4,59.9L332.3,60L330.6,61.9L328.6,63.9L328.4,64.2L324.7,67.9L324.4,68.3L322.8,69.9L322.4,70.4L320.9,71.9L320.4,72.5L319.1,73.9L318.4,74.7L317.4,75.9L316.4,77L315.7,77.9L314.4,79.5L314.1,79.9L312.7,81.9L312.4,82.4L311.4,83.9L310.4,85.7L310.3,85.9L309.4,87.9L308.4,89.9L307.5,91.8L306.7,93.8L306.4,94.6L305.9,95.8L305.1,97.8L303,103.8L302.4,105.5L302.3,105.8L301.7,107.8L301,109.8L300.4,111.7L300.4,111.8L299.2,115.8L298.5,117.8L298.4,118.1L297.9,119.8L297.3,121.8L296.6,123.8L296.4,124.4L296,125.8L294.6,129.8L294.4,130.2L293.9,131.8L292.5,135.8L292.4,135.9L291.8,137.8L291.1,139.8L290.4,141.7L290.4,141.8L289.8,143.8L289.1,145.8L288.5,147.7L288.4,147.8L287.8,149.7L286.6,153.7L286.5,154.2L286,155.7L284,163.7L283.2,167.7L282.7,169.7L282.5,171L282.3,171.7L281.9,173.7L281.4,175.7L280.6,179.7L280.1,181.7L279.7,183.7L279.2,185.7L278.8,187.7L278.5,189.1L278.3,189.7L277.9,191.7L277.4,193.7L277,195.7L276.5,197.7L276.5,197.9L276.1,199.7L275.7,201.7L275.2,203.7L274.8,205.7L274.5,207.1L274.4,207.6L273.4,211.6L272.8,213.6L272.5,214.8L272.2,215.6L271.7,217.6L271,219.6L270.5,221.5L270.4,221.6L269.8,223.6L269.3,225.6L268.7,227.6L267.2,233.6L266.8,235.6L266.2,239.6L266.1,241.6L265.9,243.6L265.9,245.6L266,247.6L266,249.6L266.4,257.6L266.5,259.1L266.5,259.6L266.7,261.6L266.8,263.5L267,267.5L267.2,269.5L267.4,273.5L267.6,275.5L267.7,277.5L267.9,279.5L268,281.5L268.2,283.5L268.4,287.5L268.5,288.6L268.6,289.5L268.7,291.5L268.7,293.5L269.2,303.5L269.4,305.5L269.5,307.5L270.3,315.5L270.5,317L270.6,317.5L270.8,319.5L271.2,321.4L271.6,323.4L272.1,325.4L272.5,326.7L272.7,327.4L274.2,333.4L274.5,334.7L274.7,335.4L276.2,341.4L276.5,342.5L276.7,343.4L277.3,345.4L277.8,347.4L278.4,349.4L269.2,349.4L268.7,347.4L266.7,337.4L266.5,336.6L266.3,335.4L265.9,333.4L265.6,331.4L264.8,327.4L264.5,326.3L264.3,325.4L263.9,323.4L263.6,321.4L263.3,319.5L262.7,313.5L262.6,311.5L262.5,310.8L262.4,309.5L262.2,305.5L262,303.5L261.9,301.5L261.9,299.5L261.7,295.5L261.7,293.5L261.2,283.5L261,281.5L260.8,277.5L260.6,275.5L260.5,273.7L260.5,273.5L260.3,269.5L260.1,267.5L259.9,263.5L259.8,261.6L259.7,259.6L259.5,257.6L259.2,251.6L259.2,249.6L259,245.6L259,243.6L259.6,237.6L260.5,233.1L260.9,231.6L261.4,229.6L262,227.6L262.5,225.7L262.5,225.6L263.2,223.6L263.8,221.6L264.5,219.6L264.5,219.5L265.1,217.6L265.8,215.6L266.4,213.6L266.5,213.3L267,211.6L268.2,207.6L268.5,206.3L268.7,205.7L270.2,199.7L270.5,198.4L270.7,197.7L271.2,195.7L271.8,193.7L272.3,191.7L272.5,191L272.9,189.7L273.4,187.7L274,185.7L275,181.7L275.6,179.7L276.1,177.7L276.5,176.2L276.6,175.7L278.1,169.7L278.5,168.4L278.6,167.7L280.1,161.7L280.5,160.4L280.6,159.7L282.4,153.7L282.5,153.4L283,151.7L283.6,149.7L284.2,147.8L284.5,147L284.9,145.8L285.5,143.8L286.2,141.8L286.5,140.9L286.8,139.8L288.2,135.8L288.5,135.1L288.9,133.8L290.3,129.8L290.4,129.4L291,127.8L292.4,123.8L292.4,123.6L293.1,121.8L293.7,119.8L294.4,117.8L294.4,117.6L295,115.8L295.7,113.8L296.3,111.8L296.4,111.4L297,109.8L297.6,107.8L298.3,105.8L298.4,105.5L299,103.8L299.7,101.8L300.4,99.9L300.5,99.8L301.2,97.8L302,95.8L302.4,94.9L302.9,93.8L303.8,91.8L304.4,90.4L304.7,89.9L305.6,87.9L306.4,86.4L306.7,85.9L307.8,83.9L308.4,83L309.1,81.9L310.4,80.2L310.6,79.9L312.2,77.9L312.4,77.7L314,75.9L314.4,75.4L315.8,73.9L316.4,73.3L317.7,71.9L323.7,65.9L324.4,65.3L325.7,63.9L326.4,63.3L327.7,61.9L328.4,61.3L329.7,59.9L330.4,59.2L331.6,57.9L332.3,57.1L333.4,55.9L335.2,53.9L336.3,52.5L336.8,51.9L338.2,49.9L338.3,49.8L339.6,47.9L340.3,46.6L340.7,45.9L341.8,43.9L343.8,39.9L344.3,39L344.8,37.9L346.3,34.9L346.8,34L347.7,32L348.3,30.6L348.6,30L349.4,28L350.3,26L350.3,25.9L351.1,24L351.8,22L352.3,20.6L352.5,20L353.2,18L353.8,16L354.3,14.3L354.4,14L355.4,10L355.8,8L356.1,6Z"/>
<path fill="#ff9f00" stroke="#ff9f00" d="M358.3,6.3L358.3,6L360.6,6L360.3,7.9L360.3,8L359.8,10L359.4,12L358.8,14L358.3,15.8L358.2,16L357,20L356.3,21.9L356.3,22L355.5,24L354.8,26L354.3,27.1L354,28L353.1,30L352.3,31.9L352.3,32L351.4,34L350.4,35.9L350.3,36.2L349.5,37.9L348.5,39.9L348.3,40.4L347.6,41.9L346.6,43.9L346.3,44.4L345.6,45.9L344.5,47.9L344.3,48.1L343.2,49.9L342.3,51.2L341.8,51.9L340.3,53.9L338.3,56.4L337,57.9L336.3,58.7L335.3,59.9L334.3,60.9L333.4,61.9L332.3,63.1L331.6,63.9L330.4,65.3L329.7,65.9L328.4,67.4L327.9,67.9L326.4,69.6L326,69.9L324.4,71.8L324.2,71.9L322.5,73.9L322.4,74L320.8,75.9L319.2,77.9L318.4,79L317.8,79.9L316.4,81.9L315.2,83.9L314.4,85.4L314.1,85.9L313.2,87.9L312.4,89.6L312.3,89.9L311.4,91.8L310.6,93.8L310.4,94.5L309.9,95.8L309.1,97.8L308.4,99.8L308.4,99.9L307.7,101.8L307.1,103.8L306.4,105.8L306.4,105.9L305.8,107.8L304.6,111.8L304.4,112.4L304,113.8L302.8,117.8L302.4,119.1L302.2,119.8L301,123.8L300.4,125.5L300.3,125.8L299.7,127.8L299,129.8L298.4,131.4L298.3,131.8L296.9,135.8L296.4,137.2L296.2,137.8L294.8,141.8L294.4,143L294.2,143.8L293.5,145.8L292.9,147.8L292.4,149.1L292.2,149.7L291,153.7L290.5,155.7L290.4,155.9L290,157.7L289,161.7L288.6,163.7L288.5,164.5L288.2,165.7L287.9,167.7L287.5,169.7L286.9,173.7L286.5,175.7L286.5,176.1L286.2,177.7L285.9,179.7L285.5,181.7L285.2,183.7L284.8,185.7L284.5,187.7L284.5,187.9L284.2,189.7L283.8,191.7L283.5,193.7L283.1,195.7L282.8,197.7L282.5,199.6L282.5,199.7L282.1,201.7L281.8,203.7L281.4,205.7L281.1,207.6L280.5,210.6L280.2,211.6L279.8,213.6L279.2,215.6L278.7,217.6L278.5,218.6L277.6,221.6L275.1,231.6L274.7,233.6L274.5,234.8L274.3,235.6L274,237.6L273.6,241.6L273.4,245.6L273.5,247.6L273.5,249.6L274.1,261.6L274.2,263.5L274.3,265.5L274.5,267.5L274.5,267.8L274.6,269.5L274.7,271.5L274.9,273.5L275,275.5L275.4,279.5L275.5,281.5L275.7,283.5L275.8,285.5L276,287.5L276.1,289.5L276.3,291.5L276.4,293.5L276.4,295.5L276.5,296.2L276.5,297.5L276.6,299.5L276.8,301.5L276.9,303.5L277.1,305.5L277.2,307.5L277.4,309.5L277.7,311.5L277.9,313.5L278.5,317.5L278.5,317.6L278.8,319.5L279.2,321.4L279.7,323.4L280.3,325.4L280.5,325.9L281,327.4L282.2,331.4L282.5,332.5L282.7,333.4L286.3,345.4L286.5,345.7L287,347.4L287.7,349.4L278.4,349.4L277.8,347.4L277.3,345.4L276.7,343.4L276.5,342.5L276.2,341.4L274.7,335.4L274.5,334.7L274.2,333.4L272.7,327.4L272.5,326.7L272.1,325.4L271.6,323.4L271.2,321.4L270.8,319.5L270.6,317.5L270.5,317L270.3,315.5L269.5,307.5L269.4,305.5L269.2,303.5L268.7,293.5L268.7,291.5L268.6,289.5L268.5,288.6L268.4,287.5L268.2,283.5L268,281.5L267.9,279.5L267.7,277.5L267.6,275.5L267.4,273.5L267.2,269.5L267,267.5L266.8,263.5L266.7,261.6L266.5,259.6L266.5,259.1L266.4,257.6L266,249.6L266,247.6L265.9,245.6L265.9,243.6L266.1,241.6L266.2,239.6L266.8,235.6L267.2,233.6L268.7,227.6L269.3,225.6L269.8,223.6L270.4,221.6L270.5,221.5L271,219.6L271.7,217.6L272.2,215.6L272.5,214.8L272.8,213.6L273.4,211.6L274.4,207.6L274.5,207.1L274.8,205.7L275.2,203.7L275.7,201.7L276.1,199.7L276.5,197.9L276.5,197.7L277,195.7L277.4,193.7L277.9,191.7L278.3,189.7L278.5,189.1L278.8,187.7L279.2,185.7L279.7,183.7L280.1,181.7L280.6,179.7L281.4,175.7L281.9,173.7L282.3,171.7L282.5,171L282.7,169.7L283.2,167.7L284,163.7L286,155.7L286.5,154.2L286.6,153.7L287.8,149.7L288.4,147.8L288.5,147.7L289.1,145.8L289.8,143.8L290.4,141.8L290.4,141.7L291.1,139.8L291.8,137.8L292.4,135.9L292.5,135.8L293.9,131.8L294.4,130.2L294.6,129.8L296,125.8L296.4,124.4L296.6,123.8L297.3,121.8L297.9,119.8L298.4,118.1L298.5,117.8L299.2,115.8L300.4,111.8L300.4,111.7L301,109.8L301.7,107.8L302.3,105.8L302.4,105.5L303,103.8L305.1,97.8L305.9,95.8L306.4,94.6L306.7,93.8L307.5,91.8L308.4,89.9L309.4,87.9L310.3,85.9L310.4,85.7L311.4,83.9L312.4,82.4L312.7,81.9L314.1,79.9L314.4,79.5L315.7,77.9L316.4,77L317.4,75.9L318.4,74.7L319.1,73.9L320.4,72.5L320.9,71.9L322.4,70.4L322.8,69.9L324.4,68.3L324.7,67.9L328.4,64.2L328.6,63.9L330.6,61.9L332.3,60L332.4,59.9L334.3,57.9L334.3,57.8L336,55.9L336.3,55.6L337.7,53.9L338.3,53.1L339.3,51.9L340.3,50.4L340.7,49.9L342,47.9L342.3,47.3L343.1,45.9L344.1,43.9L344.3,43.6L345.2,41.9L346.2,39.9L346.3,39.6L347.1,37.9L348.3,35.5L349,34L349.9,32L350.3,31.1L350.8,30L351.7,28L352.3,26.4L352.5,26L353.3,24L354,22L354.3,21.2L354.7,20L355.4,18L356.6,14L357.6,10L358,8Z"/>
<path fill="#ff9100" stroke="#ff9100" d="M360.3,7.9L360.6,6L363.1,6L362.7,8L362.3,9.8L362.2,10L361.8,12L360.6,16L360.3,17.1L360,18L359.4,20L358.7,22L357.9,24L357.2,26L356.4,28L356.3,28.2L355.6,30L354.7,32L354.3,32.9L353.8,34L352.9,35.9L352.3,37.3L352,37.9L351.1,39.9L347.1,47.9L346.3,49.1L345.8,49.9L344.5,51.9L344.3,52.2L343.1,53.9L339.9,57.9L338.3,59.8L338.2,59.9L336.5,61.9L336.3,62.1L334.7,63.9L334.3,64.3L333,65.9L332.3,66.6L331.2,67.9L330.4,68.9L329.5,69.9L328.4,71.2L327.7,71.9L326.4,73.5L326.1,73.9L324.5,75.9L324.4,76L323,77.9L322.4,78.7L320.4,81.7L320.3,81.9L319.1,83.9L318.1,85.9L317.2,87.9L316.4,89.7L316.3,89.9L315.5,91.8L314.8,93.8L314,95.8L312.6,99.8L312.4,100.5L312,101.8L311.3,103.8L308.9,111.8L308.4,113.6L308.3,113.8L307.8,115.8L306.6,119.8L306.4,120.5L306,121.8L304.8,125.8L304.4,127.1L304.2,127.8L303.5,129.8L302.9,131.8L302.4,133.1L302.2,133.8L300.8,137.8L300.4,139L300.2,139.8L298.8,143.8L298.4,145L298.2,145.8L297.6,147.8L296.9,149.7L296.4,151.5L296.3,151.7L294.8,157.7L294.4,159.2L293.9,161.7L293.6,163.7L293.2,165.7L293,167.7L292.4,171.7L292,175.7L291.7,177.7L290.7,187.7L290.4,189.7L289.4,199.7L289.1,201.7L288.9,203.7L288.6,205.7L288.5,206.9L288.4,207.6L288,209.6L287.7,211.6L286.9,215.6L286.5,217.4L286.4,217.6L286,219.6L285,223.6L284.5,226.1L284.1,227.6L282.9,233.6L282.6,235.6L282.5,236.3L282.3,237.6L282,239.6L281.9,241.6L281.7,243.6L281.7,249.6L281.9,253.6L281.9,255.6L282.2,261.6L282.4,263.5L282.7,269.5L282.9,271.5L283,273.5L283.4,277.5L283.5,279.5L284.5,289.5L284.5,289.6L284.6,291.5L284.9,297.5L285.1,299.5L285.3,303.5L285.9,309.5L286.2,311.5L286.4,313.5L286.5,313.8L286.7,315.5L287,317.5L287.4,319.5L287.8,321.4L288.3,323.4L288.5,323.8L289,325.4L290.4,329.4L290.4,329.6L291,331.4L292.2,335.4L292.4,336.1L292.8,337.4L293.5,339.4L294.4,342.4L294.8,343.4L295.4,345.4L296.1,347.4L296.4,348.4L296.8,349.4L287.7,349.4L287,347.4L286.5,345.7L286.3,345.4L282.7,333.4L282.5,332.5L282.2,331.4L281,327.4L280.5,325.9L280.3,325.4L279.7,323.4L279.2,321.4L278.8,319.5L278.5,317.6L278.5,317.5L277.9,313.5L277.7,311.5L277.4,309.5L277.2,307.5L277.1,305.5L276.9,303.5L276.8,301.5L276.6,299.5L276.5,297.5L276.5,296.2L276.4,295.5L276.4,293.5L276.3,291.5L276.1,289.5L276,287.5L275.8,285.5L275.7,283.5L275.5,281.5L275.4,279.5L275,275.5L274.9,273.5L274.7,271.5L274.6,269.5L274.5,267.8L274.5,267.5L274.3,265.5L274.2,263.5L274.1,261.6L273.5,249.6L273.5,247.6L273.4,245.6L273.6,241.6L274,237.6L274.3,235.6L274.5,234.8L274.7,233.6L275.1,231.6L277.6,221.6L278.5,218.6L278.7,217.6L279.2,215.6L279.8,213.6L280.2,211.6L280.5,210.6L281.1,207.6L281.4,205.7L281.8,203.7L282.1,201.7L282.5,199.7L282.5,199.6L282.8,197.7L283.1,195.7L283.5,193.7L283.8,191.7L284.2,189.7L284.5,187.9L284.5,187.7L284.8,185.7L285.2,183.7L285.5,181.7L285.9,179.7L286.2,177.7L286.5,176.1L286.5,175.7L286.9,173.7L287.5,169.7L287.9,167.7L288.2,165.7L288.5,164.5L288.6,163.7L289,161.7L290,157.7L290.4,155.9L290.5,155.7L291,153.7L292.2,149.7L292.4,149.1L292.9,147.8L293.5,145.8L294.2,143.8L294.4,143L294.8,141.8L296.2,137.8L296.4,137.2L296.9,135.8L298.3,131.8L298.4,131.4L299,129.8L299.7,127.8L300.3,125.8L300.4,125.5L301,123.8L302.2,119.8L302.4,119.1L302.8,117.8L304,113.8L304.4,112.4L304.6,111.8L305.8,107.8L306.4,105.9L306.4,105.8L307.1,103.8L307.7,101.8L308.4,99.9L308.4,99.8L309.1,97.8L309.9,95.8L310.4,94.5L310.6,93.8L311.4,91.8L312.3,89.9L312.4,89.6L313.2,87.9L314.1,85.9L314.4,85.4L315.2,83.9L316.4,81.9L317.8,79.9L318.4,79L319.2,77.9L320.8,75.9L322.4,74L322.5,73.9L324.2,71.9L324.4,71.8L326,69.9L326.4,69.6L327.9,67.9L328.4,67.4L329.7,65.9L330.4,65.3L331.6,63.9L332.3,63.1L333.4,61.9L334.3,60.9L335.3,59.9L336.3,58.7L337,57.9L338.3,56.4L340.3,53.9L341.8,51.9L342.3,51.2L343.2,49.9L344.3,48.1L344.5,47.9L345.6,45.9L346.3,44.4L346.6,43.9L347.6,41.9L348.3,40.4L348.5,39.9L349.5,37.9L350.3,36.2L350.4,35.9L351.4,34L352.3,32L352.3,31.9L353.1,30L354,28L354.3,27.1L354.8,26L355.5,24L356.3,22L356.3,21.9L357,20L358.2,16L358.3,15.8L358.8,14L359.4,12L359.8,10L360.3,8Z"/>
<path fill="#ff8300" stroke="#ff8300" d="M365.9,6L365.4,8L365,10L364.4,12L364.3,12.6L363.9,14L362.7,18L362.3,19.1L362,20L360.6,24L360.3,24.7L359.8,26L359,28L358.3,29.7L358.2,30L357.3,32L356.5,34L356.3,34.4L355.6,35.9L354.7,37.9L354.3,38.8L353.8,39.9L352.8,41.9L352.3,43L351.9,43.9L350.9,45.9L350.3,47L349.8,47.9L348.7,49.9L348.3,50.5L347.4,51.9L346.3,53.5L344.5,55.9L344.3,56.2L343,57.9L342.3,58.8L341.4,59.9L340.3,61.2L339.8,61.9L338.3,63.6L338.1,63.9L336.4,65.9L336.3,66L334.8,67.9L334.3,68.4L331.5,71.9L330.4,73.4L329.9,73.9L328.4,75.9L328.4,76L327,77.9L326.4,78.9L325.7,79.9L324.5,81.9L324.4,82L323.4,83.9L322.4,85.9L321.5,87.9L320.7,89.9L320.4,90.6L319.9,91.8L319.1,93.8L318.4,95.8L318.4,95.9L317.7,97.8L317,99.8L314.6,107.8L314.4,108.4L314,109.8L312.8,113.8L312.3,115.8L311.7,117.8L311.2,119.8L310.6,121.8L310.4,122.6L310,123.8L309.5,125.8L308.9,127.8L308.4,129.4L308.3,129.8L307.7,131.8L307,133.8L306.4,135.7L306.4,135.8L305.7,137.8L304.5,141.8L304.4,141.9L303.8,143.8L302.6,147.8L302.4,148.5L302.1,149.7L301.5,151.7L300.5,155.7L299.3,161.7L298.7,165.7L298.5,167.7L298.4,168.9L298.4,169.7L298.2,171.7L298.1,173.7L297.9,175.7L297.6,181.7L297.6,183.7L297.4,187.7L297.4,189.7L296.8,201.7L296.6,203.7L296.5,205.7L296.4,206.2L296.3,207.6L296.1,209.6L295.2,215.6L294.4,219.6L294.1,221.6L292.9,227.6L292.6,229.6L292.4,230.4L292.2,231.6L291.9,233.6L291.7,235.6L291.4,237.6L291,241.6L290.9,243.6L290.9,249.6L291,251.6L291,253.6L291.4,261.6L291.5,263.5L291.7,267.5L291.9,269.5L292,271.5L292.4,275.5L292.4,276.3L292.6,277.5L292.8,279.5L293.1,281.5L293.3,283.5L293.6,285.5L294.2,291.5L294.3,293.5L294.4,295.1L294.5,295.5L294.7,299.5L295.1,303.5L295.2,305.5L296,313.5L296.3,315.5L296.4,316.5L296.6,317.5L296.9,319.5L297.3,321.4L297.8,323.4L298.4,325.4L298.4,325.6L299,327.4L299.7,329.4L300.2,331.4L300.4,332.1L300.8,333.4L301.4,335.4L301.9,337.4L302.4,339.1L302.5,339.4L304.3,345.4L304.4,345.7L304.9,347.4L305.5,349.4L296.8,349.4L296.4,348.4L296.1,347.4L295.4,345.4L294.8,343.4L294.4,342.4L293.5,339.4L292.8,337.4L292.4,336.1L292.2,335.4L291,331.4L290.4,329.6L290.4,329.4L289,325.4L288.5,323.8L288.3,323.4L287.8,321.4L287.4,319.5L287,317.5L286.7,315.5L286.5,313.8L286.4,313.5L286.2,311.5L285.9,309.5L285.3,303.5L285.1,299.5L284.9,297.5L284.6,291.5L284.5,289.6L284.5,289.5L283.5,279.5L283.4,277.5L283,273.5L282.9,271.5L282.7,269.5L282.4,263.5L282.2,261.6L281.9,255.6L281.9,253.6L281.7,249.6L281.7,243.6L281.9,241.6L282,239.6L282.3,237.6L282.5,236.3L282.6,235.6L282.9,233.6L284.1,227.6L284.5,226.1L285,223.6L286,219.6L286.4,217.6L286.5,217.4L286.9,215.6L287.7,211.6L288,209.6L288.4,207.6L288.5,206.9L288.6,205.7L288.9,203.7L289.1,201.7L289.4,199.7L290.4,189.7L290.7,187.7L291.7,177.7L292,175.7L292.4,171.7L293,167.7L293.2,165.7L293.6,163.7L293.9,161.7L294.4,159.2L294.8,157.7L296.3,151.7L296.4,151.5L296.9,149.7L297.6,147.8L298.2,145.8L298.4,145L298.8,143.8L300.2,139.8L300.4,139L300.8,137.8L302.2,133.8L302.4,133.1L302.9,131.8L303.5,129.8L304.2,127.8L304.4,127.1L304.8,125.8L306,121.8L306.4,120.5L306.6,119.8L307.8,115.8L308.3,113.8L308.4,113.6L308.9,111.8L311.3,103.8L312,101.8L312.4,100.5L312.6,99.8L314,95.8L314.8,93.8L315.5,91.8L316.3,89.9L316.4,89.7L317.2,87.9L318.1,85.9L319.1,83.9L320.3,81.9L320.4,81.7L322.4,78.7L323,77.9L324.4,76L324.5,75.9L326.1,73.9L326.4,73.5L327.7,71.9L328.4,71.2L329.5,69.9L330.4,68.9L331.2,67.9L332.3,66.6L333,65.9L334.3,64.3L334.7,63.9L336.3,62.1L336.5,61.9L338.2,59.9L338.3,59.8L339.9,57.9L343.1,53.9L344.3,52.2L344.5,51.9L345.8,49.9L346.3,49.1L347.1,47.9L351.1,39.9L352,37.9L352.3,37.3L352.9,35.9L353.8,34L354.3,32.9L354.7,32L355.6,30L356.3,28.2L356.4,28L357.2,26L357.9,24L358.7,22L359.4,20L360,18L360.3,17.1L360.6,16L361.8,12L362.2,10L362.3,9.8L362.7,8L363.1,6Z"/>
<path fill="#ff7300" stroke="#ff7300" d="M368.8,6L368.3,8L368.3,8.2L367.8,10L367.3,12L366.7,14L366.3,15.3L366.1,16L364.7,20L364.3,21.2L364,22L363.3,24L360.9,30L360.3,31.4L360.1,32L359.2,34L358.3,35.9L358.3,36.1L357.4,37.9L356.5,39.9L356.3,40.4L355.6,41.9L354.7,43.9L352.7,47.9L352.3,48.6L351.5,49.9L350.3,51.9L349,53.9L347.6,55.9L346.3,57.7L346.2,57.9L344.7,59.9L344.3,60.4L343.2,61.9L342.3,63L341.6,63.9L340.3,65.5L338.5,67.9L338.3,68.1L337,69.9L336.3,70.7L335.5,71.9L334.3,73.4L334,73.9L332.6,75.9L332.3,76.2L331.2,77.9L330.4,79.3L330,79.9L328.8,81.9L328.4,82.8L327.8,83.9L326.8,85.9L326.4,87L326,87.9L325.2,89.9L324.4,91.8L324.4,92L323.7,93.8L322.9,95.8L322.4,97.5L322.2,97.8L321.6,99.8L320.9,101.8L320.4,103.5L320.3,103.8L318.5,109.8L318.4,110.2L317.9,111.8L317.4,113.8L316.8,115.8L316.3,117.8L315.7,119.8L314.7,123.8L314.4,124.9L314.2,125.8L313.6,127.8L313.1,129.8L312.5,131.8L312.4,132.2L311.9,133.8L311.4,135.8L310.8,137.8L310.4,139.1L310.2,139.8L309.6,141.8L309.1,143.8L308.5,145.8L308.4,146.3L308,147.8L307.5,149.7L307,151.7L306.6,153.7L306.1,155.7L305.8,157.7L305.4,159.7L305.1,161.7L304.5,167.7L304.4,169.7L304.4,177.7L304.8,185.7L305,187.7L305.6,199.7L305.6,203.7L305.5,205.7L305.4,207.6L305.3,209.6L305.1,211.6L305,213.6L304.7,215.6L304.5,217.6L304.4,218.4L304.3,219.6L303.7,223.6L303.5,225.6L303.2,227.6L303,229.6L302.7,231.6L302.5,233.6L302.4,234.3L302.3,235.6L302.1,237.6L302,239.6L301.8,241.6L301.7,243.6L301.7,251.6L301.8,253.6L301.8,255.6L302.1,261.6L302.2,263.5L302.2,265.5L302.3,267.5L302.4,269.3L302.4,269.5L303,275.5L303.3,277.5L304.1,281.5L304.4,283.4L304.4,283.5L304.8,285.5L305.7,291.5L306.3,297.5L306.4,298.9L306.5,299.5L306.6,301.5L306.8,303.5L307,307.5L307,309.5L307.2,313.5L307.2,315.5L307.4,317.5L307.5,319.5L307.7,321.4L308,323.4L310.4,335.4L310.4,335.5L310.8,337.4L312,343.4L312.4,345.2L312.4,345.4L312.9,347.4L313.3,349.4L305.5,349.4L304.9,347.4L304.4,345.7L304.3,345.4L302.5,339.4L302.4,339.1L301.9,337.4L301.4,335.4L300.8,333.4L300.4,332.1L300.2,331.4L299.7,329.4L299,327.4L298.4,325.6L298.4,325.4L297.8,323.4L297.3,321.4L296.9,319.5L296.6,317.5L296.4,316.5L296.3,315.5L296,313.5L295.2,305.5L295.1,303.5L294.7,299.5L294.5,295.5L294.4,295.1L294.3,293.5L294.2,291.5L293.6,285.5L293.3,283.5L293.1,281.5L292.8,279.5L292.6,277.5L292.4,276.3L292.4,275.5L292,271.5L291.9,269.5L291.7,267.5L291.5,263.5L291.4,261.6L291,253.6L291,251.6L290.9,249.6L290.9,243.6L291,241.6L291.4,237.6L291.7,235.6L291.9,233.6L292.2,231.6L292.4,230.4L292.6,229.6L292.9,227.6L294.1,221.6L294.4,219.6L295.2,215.6L296.1,209.6L296.3,207.6L296.4,206.2L296.5,205.7L296.6,203.7L296.8,201.7L297.4,189.7L297.4,187.7L297.6,183.7L297.6,181.7L297.9,175.7L298.1,173.7L298.2,171.7L298.4,169.7L298.4,168.9L298.5,167.7L298.7,165.7L299.3,161.7L300.5,155.7L301.5,151.7L302.1,149.7L302.4,148.5L302.6,147.8L303.8,143.8L304.4,141.9L304.5,141.8L305.7,137.8L306.4,135.8L306.4,135.7L307,133.8L307.7,131.8L308.3,129.8L308.4,129.4L308.9,127.8L309.5,125.8L310,123.8L310.4,122.6L310.6,121.8L311.2,119.8L311.7,117.8L312.3,115.8L312.8,113.8L314,109.8L314.4,108.4L314.6,107.8L317,99.8L317.7,97.8L318.4,95.9L318.4,95.8L319.1,93.8L319.9,91.8L320.4,90.6L320.7,89.9L321.5,87.9L322.4,85.9L323.4,83.9L324.4,82L324.5,81.9L325.7,79.9L326.4,78.9L327,77.9L328.4,76L328.4,75.9L329.9,73.9L330.4,73.4L331.5,71.9L334.3,68.4L334.8,67.9L336.3,66L336.4,65.9L338.1,63.9L338.3,63.6L339.8,61.9L340.3,61.2L341.4,59.9L342.3,58.8L343,57.9L344.3,56.2L344.5,55.9L346.3,53.5L347.4,51.9L348.3,50.5L348.7,49.9L349.8,47.9L350.3,47L350.9,45.9L351.9,43.9L352.3,43L352.8,41.9L353.8,39.9L354.3,38.8L354.7,37.9L355.6,35.9L356.3,34.4L356.5,34L357.3,32L358.2,30L358.3,29.7L359,28L359.8,26L360.3,24.7L360.6,24L362,20L362.3,19.1L362.7,18L363.9,14L364.3,12.6L364.4,12L365,10L365.4,8L365.9,6Z"/>
<path fill="#ff6300" stroke="#ff6300" d="M371.9,6L371.4,8L370.8,10L370.3,11.7L370.2,12L369.6,14L368.9,16L368.3,17.9L368.2,18L366.8,22L366.3,23.4L366.1,24L363.7,30L362.8,32L362.3,33.3L362,34L361.1,35.9L360.3,37.8L360.2,37.9L358.4,41.9L358.3,42.2L357.5,43.9L356.6,45.9L355.6,47.9L354.5,49.9L354.3,50.2L352.3,53.6L352.1,53.9L350.8,55.9L350.3,56.6L349.4,57.9L348.3,59.5L348,59.9L346.6,61.9L346.3,62.4L345.2,63.9L344.3,65.1L343.8,65.9L342.3,67.9L340.9,69.9L340.3,70.8L339.5,71.9L338.3,73.7L338.2,73.9L336.9,75.9L336.3,76.8L335.7,77.9L334.5,79.9L334.3,80.1L332.4,83.9L332.3,84L331.5,85.9L330.7,87.9L330.4,88.7L329.9,89.9L329.1,91.8L328.4,93.8L327.6,95.8L326.9,97.8L326.4,99.5L326.2,99.8L325.6,101.8L324.9,103.8L324.4,105.7L324.3,105.8L323.1,109.8L322.6,111.8L322.4,112.5L322,113.8L321.5,115.8L320.9,117.8L320.4,119.8L320.4,120L319.9,121.8L319.4,123.8L319,125.8L316.5,135.8L316.4,136.3L316,137.8L315.5,139.8L315.1,141.8L314.1,145.8L313.7,147.8L313.3,149.7L312.5,153.7L312.4,154.4L312.2,155.7L311.6,159.7L311,165.7L311,171.7L311.6,177.7L312.2,181.7L312.4,182.9L312.5,183.7L314.1,191.7L314.4,193.4L314.4,193.7L314.8,195.7L315.4,199.7L315.6,201.7L315.8,205.7L315.8,213.6L315.6,217.6L315.6,219.6L315.3,225.6L315.1,227.6L314.4,241.6L314.4,243.6L314.3,245.6L314.3,259.6L314.4,261.6L314.4,265.5L314.5,267.5L314.5,269.5L314.6,271.5L314.8,273.5L315.2,275.5L316.7,281.5L317.3,283.5L318.3,287.5L318.4,287.8L318.7,289.5L319,291.5L319.4,293.5L319.7,295.5L319.9,297.5L320.2,299.5L320.3,301.5L320.4,302.7L320.4,305.8L320.3,307.5L319.5,315.5L319.4,317.5L319.2,319.5L319.2,321.4L319.1,323.4L319.2,325.4L319.2,327.4L319.7,337.4L319.9,339.4L320,341.4L320.2,343.4L320.4,345.3L320.4,345.4L320.8,349.4L313.3,349.4L312.9,347.4L312.4,345.4L312.4,345.2L312,343.4L310.8,337.4L310.4,335.5L310.4,335.4L308,323.4L307.7,321.4L307.5,319.5L307.4,317.5L307.2,315.5L307.2,313.5L307,309.5L307,307.5L306.8,303.5L306.6,301.5L306.5,299.5L306.4,298.9L306.3,297.5L305.7,291.5L304.8,285.5L304.4,283.5L304.4,283.4L304.1,281.5L303.3,277.5L303,275.5L302.4,269.5L302.4,269.3L302.3,267.5L302.2,265.5L302.2,263.5L302.1,261.6L301.8,255.6L301.8,253.6L301.7,251.6L301.7,243.6L301.8,241.6L302,239.6L302.1,237.6L302.3,235.6L302.4,234.3L302.5,233.6L302.7,231.6L303,229.6L303.2,227.6L303.5,225.6L303.7,223.6L304.3,219.6L304.4,218.4L304.5,217.6L304.7,215.6L305,213.6L305.1,211.6L305.3,209.6L305.4,207.6L305.5,205.7L305.6,203.7L305.6,199.7L305,187.7L304.8,185.7L304.4,177.7L304.4,169.7L304.5,167.7L305.1,161.7L305.4,159.7L305.8,157.7L306.1,155.7L306.6,153.7L307,151.7L307.5,149.7L308,147.8L308.4,146.3L308.5,145.8L309.1,143.8L309.6,141.8L310.2,139.8L310.4,139.1L310.8,137.8L311.4,135.8L311.9,133.8L312.4,132.2L312.5,131.8L313.1,129.8L313.6,127.8L314.2,125.8L314.4,124.9L314.7,123.8L315.7,119.8L316.3,117.8L316.8,115.8L317.4,113.8L317.9,111.8L318.4,110.2L318.5,109.8L320.3,103.8L320.4,103.5L320.9,101.8L321.6,99.8L322.2,97.8L322.4,97.5L322.9,95.8L323.7,93.8L324.4,92L324.4,91.8L325.2,89.9L326,87.9L326.4,87L326.8,85.9L327.8,83.9L328.4,82.8L328.8,81.9L330,79.9L330.4,79.3L331.2,77.9L332.3,76.2L332.6,75.9L334,73.9L334.3,73.4L335.5,71.9L336.3,70.7L337,69.9L338.3,68.1L338.5,67.9L340.3,65.5L341.6,63.9L342.3,63L343.2,61.9L344.3,60.4L344.7,59.9L346.2,57.9L346.3,57.7L347.6,55.9L349,53.9L350.3,51.9L351.5,49.9L352.3,48.6L352.7,47.9L354.7,43.9L355.6,41.9L356.3,40.4L356.5,39.9L357.4,37.9L358.3,36.1L358.3,35.9L359.2,34L360.1,32L360.3,31.4L360.9,30L363.3,24L364,22L364.3,21.2L364.7,20L366.1,16L366.3,15.3L366.7,14L367.3,12L367.8,10L368.3,8.2L368.3,8L368.8,6Z"/>
<path fill="#ff5200" stroke="#ff5200" d="M375.2,6L374.6,8L374.3,9.1L374,10L373.3,12L372.7,14L372.3,15.1L372,16L371.3,18L370.5,20L370.3,20.7L369.8,22L369,24L368.3,25.9L368.2,26L367.5,28L366.6,30L366.3,30.8L365.8,32L365,34L364.3,35.5L364.1,35.9L362.3,39.9L362.3,40L361.4,41.9L360.5,43.9L360.3,44.4L359.6,45.9L358.6,47.9L358.3,48.6L357.6,49.9L356.5,51.9L356.3,52.3L355.3,53.9L354.3,55.6L354.1,55.9L352.3,58.9L351.6,59.9L350.3,61.9L350.3,62L349.1,63.9L348.3,65L347.7,65.9L346.4,67.9L346.3,68.1L345.2,69.9L344.3,71.3L343.9,71.9L342.7,73.9L342.3,74.5L341.5,75.9L340.4,77.9L340.3,77.9L339.3,79.9L338.3,81.8L338.3,81.9L337.3,83.9L336.5,85.9L336.3,86.2L335.7,87.9L334.9,89.9L334.3,91.3L334.1,91.8L332.7,95.8L332.3,96.7L332,97.8L330.6,101.8L330.4,102.5L329.9,103.8L326.9,113.8L326.4,115.8L326.4,115.9L325.9,117.8L325.4,119.8L325,121.8L324.5,123.8L324.4,124.5L324.1,125.8L322.5,133.8L322.4,134.5L322.1,135.8L321.3,139.8L321,141.8L320.6,143.8L320.4,144.9L320.2,145.8L319.9,147.8L319.6,149.7L319,153.7L318.8,155.7L318.5,157.7L318.4,159.5L318.4,159.7L318.2,161.7L318,165.7L318,167.7L318.1,169.7L318.3,171.7L318.4,172.3L318.6,173.7L319.4,177.7L319.9,179.7L320.4,181.4L320.5,181.7L321,183.7L321.7,185.7L322.3,187.7L322.4,187.9L322.9,189.7L323.6,191.7L324.2,193.7L324.4,194.4L324.7,195.7L325.3,197.7L326.1,201.7L326.4,203.1L326.5,203.7L326.7,205.7L326.8,207.6L326.9,209.6L327.1,211.6L327.4,217.6L327.4,219.6L327.6,223.6L327.6,225.6L327.7,227.6L327.7,243.6L327.6,245.6L327.6,251.6L327.5,253.6L327.5,271.5L327.8,273.5L328.2,275.5L328.4,276.1L328.8,277.5L329.4,279.5L330.1,281.5L330.4,282.3L330.8,283.5L332,287.5L332.3,288.8L332.5,289.5L333.3,293.5L333.6,295.5L334,297.5L334.2,299.5L334.3,300.6L334.4,301.5L334.5,303.5L334.4,305.5L334.3,305.8L334.2,307.5L333.9,309.5L332.7,315.5L332.3,317.1L332.3,317.5L331.9,319.5L331.6,321.4L330.8,325.4L330.5,327.4L330.4,328.7L330.3,329.4L329.7,335.4L329.6,337.4L329.4,339.4L329,347.4L329,349.4L320.8,349.4L320.4,345.4L320.4,345.3L320.2,343.4L320,341.4L319.9,339.4L319.7,337.4L319.2,327.4L319.2,325.4L319.1,323.4L319.2,321.4L319.2,319.5L319.4,317.5L319.5,315.5L320.3,307.5L320.4,305.8L320.4,302.7L320.3,301.5L320.2,299.5L319.9,297.5L319.7,295.5L319.4,293.5L319,291.5L318.7,289.5L318.4,287.8L318.3,287.5L317.3,283.5L316.7,281.5L315.2,275.5L314.8,273.5L314.6,271.5L314.5,269.5L314.5,267.5L314.4,265.5L314.4,261.6L314.3,259.6L314.3,245.6L314.4,243.6L314.4,241.6L315.1,227.6L315.3,225.6L315.6,219.6L315.6,217.6L315.8,213.6L315.8,205.7L315.6,201.7L315.4,199.7L314.8,195.7L314.4,193.7L314.4,193.4L314.1,191.7L312.5,183.7L312.4,182.9L312.2,181.7L311.6,177.7L311,171.7L311,165.7L311.6,159.7L312.2,155.7L312.4,154.4L312.5,153.7L313.3,149.7L313.7,147.8L314.1,145.8L315.1,141.8L315.5,139.8L316,137.8L316.4,136.3L316.5,135.8L319,125.8L319.4,123.8L319.9,121.8L320.4,120L320.4,119.8L320.9,117.8L321.5,115.8L322,113.8L322.4,112.5L322.6,111.8L323.1,109.8L324.3,105.8L324.4,105.7L324.9,103.8L325.6,101.8L326.2,99.8L326.4,99.5L326.9,97.8L327.6,95.8L328.4,93.8L329.1,91.8L329.9,89.9L330.4,88.7L330.7,87.9L331.5,85.9L332.3,84L332.4,83.9L334.3,80.1L334.5,79.9L335.7,77.9L336.3,76.8L336.9,75.9L338.2,73.9L338.3,73.7L339.5,71.9L340.3,70.8L340.9,69.9L342.3,67.9L343.8,65.9L344.3,65.1L345.2,63.9L346.3,62.4L346.6,61.9L348,59.9L348.3,59.5L349.4,57.9L350.3,56.6L350.8,55.9L352.1,53.9L352.3,53.6L354.3,50.2L354.5,49.9L355.6,47.9L356.6,45.9L357.5,43.9L358.3,42.2L358.4,41.9L360.2,37.9L360.3,37.8L361.1,35.9L362,34L362.3,33.3L362.8,32L363.7,30L366.1,24L366.3,23.4L366.8,22L368.2,18L368.3,17.9L368.9,16L369.6,14L370.2,12L370.3,11.7L370.8,10L371.4,8L371.9,6Z"/>
<path fill="#ff4200" stroke="#ff4200" d="M379,6L378.3,8L378.2,8.2L377.7,10L376.9,12L376.2,13.8L376.2,14L375.5,16L374.7,18L374.3,19.2L374,20L372.4,24L372.3,24.3L371.6,26L370.8,28L370.3,29.3L370,30L369.2,32L368.3,34L367.5,35.9L366.6,37.9L366.3,38.7L365.7,39.9L364.9,41.9L364.3,43.2L364,43.9L363.1,45.9L362.3,47.6L362.1,47.9L361.2,49.9L360.3,51.6L360.1,51.9L359.1,53.9L358.3,55.3L357.9,55.9L356.8,57.9L356.3,58.8L355.7,59.9L354.5,61.9L354.3,62.3L353.4,63.9L352.3,65.7L352.2,65.9L351.1,67.9L350.3,69.2L349.9,69.9L348.8,71.9L348.3,72.8L347.7,73.9L346.7,75.9L346.3,76.5L345.6,77.9L344.7,79.9L344.3,80.6L343.7,81.9L342.9,83.9L342.3,85.2L342.1,85.9L340.3,90.4L339.8,91.8L339.1,93.8L338.3,95.8L336.9,99.8L336.3,101.5L336.2,101.8L335.6,103.8L334.9,105.8L334.3,107.6L334.3,107.8L333.1,111.8L332.6,113.8L332.3,114.7L332.1,115.8L331.6,117.8L331.2,119.8L330.7,121.8L330.4,123.8L330,125.8L329.8,127.8L328.6,135.8L328.4,137.3L328.3,137.8L328,139.8L327.8,141.8L327.5,143.8L327.1,147.8L326.9,149.7L326.5,153.7L326.4,155.7L326.2,157.7L326.1,159.7L326.1,161.7L326,163.7L326,165.7L326.2,169.7L326.4,170.6L326.5,171.7L326.9,173.7L327.4,175.7L328,177.7L328.4,178.9L328.6,179.7L330,183.7L330.4,184.5L330.8,185.7L331.6,187.7L332.3,189.7L333.1,191.7L333.8,193.7L334.3,195.2L334.5,195.7L335.2,197.7L336.2,201.7L336.3,202.2L336.7,203.7L337,205.7L337.2,207.6L337.4,209.6L337.7,211.6L338.3,217.6L338.3,217.9L338.5,219.6L339.1,225.6L339.2,227.6L339.4,229.6L339.9,239.6L339.9,241.6L340,243.6L340,269.5L340.1,271.5L340.3,273.5L340.3,273.6L340.7,275.5L341.9,279.5L342.3,280.8L342.6,281.5L343.2,283.5L343.9,285.5L344.9,289.5L345.7,293.5L346,295.5L346.4,297.5L346.7,299.5L346.9,301.5L347,303.5L347,305.5L346.4,311.5L346.3,312L346.1,313.5L345.8,315.5L345.4,317.5L345.1,319.5L344.7,321.4L344.3,323.4L344.3,323.5L343.9,325.4L343.4,327.4L342.8,331.4L342.4,335.4L342.3,336.5L342.2,337.4L342.1,339.4L341.5,345.4L341.2,347.4L341,349.4L329,349.4L329,347.4L329.4,339.4L329.6,337.4L329.7,335.4L330.3,329.4L330.4,328.7L330.5,327.4L330.8,325.4L331.6,321.4L331.9,319.5L332.3,317.5L332.3,317.1L332.7,315.5L333.9,309.5L334.2,307.5L334.3,305.8L334.4,305.5L334.5,303.5L334.4,301.5L334.3,300.6L334.2,299.5L334,297.5L333.6,295.5L333.3,293.5L332.5,289.5L332.3,288.8L332,287.5L330.8,283.5L330.4,282.3L330.1,281.5L329.4,279.5L328.8,277.5L328.4,276.1L328.2,275.5L327.8,273.5L327.5,271.5L327.5,253.6L327.6,251.6L327.6,245.6L327.7,243.6L327.7,227.6L327.6,225.6L327.6,223.6L327.4,219.6L327.4,217.6L327.1,211.6L326.9,209.6L326.8,207.6L326.7,205.7L326.5,203.7L326.4,203.1L326.1,201.7L325.3,197.7L324.7,195.7L324.4,194.4L324.2,193.7L323.6,191.7L322.9,189.7L322.4,187.9L322.3,187.7L321.7,185.7L321,183.7L320.5,181.7L320.4,181.4L319.9,179.7L319.4,177.7L318.6,173.7L318.4,172.3L318.3,171.7L318.1,169.7L318,167.7L318,165.7L318.2,161.7L318.4,159.7L318.4,159.5L318.5,157.7L318.8,155.7L319,153.7L319.6,149.7L319.9,147.8L320.2,145.8L320.4,144.9L320.6,143.8L321,141.8L321.3,139.8L322.1,135.8L322.4,134.5L322.5,133.8L324.1,125.8L324.4,124.5L324.5,123.8L325,121.8L325.4,119.8L325.9,117.8L326.4,115.9L326.4,115.8L326.9,113.8L329.9,103.8L330.4,102.5L330.6,101.8L332,97.8L332.3,96.7L332.7,95.8L334.1,91.8L334.3,91.3L334.9,89.9L335.7,87.9L336.3,86.2L336.5,85.9L337.3,83.9L338.3,81.9L338.3,81.8L339.3,79.9L340.3,77.9L340.4,77.9L341.5,75.9L342.3,74.5L342.7,73.9L343.9,71.9L344.3,71.3L345.2,69.9L346.3,68.1L346.4,67.9L347.7,65.9L348.3,65L349.1,63.9L350.3,62L350.3,61.9L351.6,59.9L352.3,58.9L354.1,55.9L354.3,55.6L355.3,53.9L356.3,52.3L356.5,51.9L357.6,49.9L358.3,48.6L358.6,47.9L359.6,45.9L360.3,44.4L360.5,43.9L361.4,41.9L362.3,40L362.3,39.9L364.1,35.9L364.3,35.5L365,34L365.8,32L366.3,30.8L366.6,30L367.5,28L368.2,26L368.3,25.9L369,24L369.8,22L370.3,20.7L370.5,20L371.3,18L372,16L372.3,15.1L372.7,14L373.3,12L374,10L374.3,9.1L374.6,8L375.2,6Z"/>
<path fill="#ff3100" stroke="#ff3100" d="M383.8,6L383,8L382.2,9.9L382.2,10L380.2,15L379.9,16L378.3,20L378.2,20L377.5,22L376.6,24L376.2,24.9L375.8,26L375,28L374.3,29.8L374.2,30L373.4,32L372.5,34L372.3,34.6L371.7,35.9L370.8,37.9L370.3,39.3L370,39.9L369.1,41.9L368.3,43.9L366.5,47.9L366.3,48.5L365.6,49.9L364.7,51.9L362.7,55.9L362.3,56.8L361.7,57.9L360.7,59.9L360.3,60.8L359.7,61.9L358.7,63.9L358.3,64.8L357.7,65.9L356.7,67.9L356.3,68.8L355.7,69.9L354.8,71.9L353.8,73.9L352.9,75.9L352.3,77.3L352,77.9L350.4,81.9L350.3,82.1L349.6,83.9L348.9,85.9L348.3,87.6L348.2,87.9L347.5,89.9L346.8,91.8L346.3,93.2L346.1,93.8L344.7,97.8L344.3,98.9L344,99.8L343.3,101.8L342.7,103.8L342.3,105L342.1,105.8L340.3,111.8L340.3,111.9L339.9,113.8L339.4,115.8L338.6,119.8L338.3,121.8L337.9,125.8L337.6,131.8L337.4,133.8L336.8,145.8L336.8,147.8L336.7,149.7L336.7,151.7L336.6,153.7L336.6,165.7L336.7,167.7L336.9,169.7L337.2,171.7L338,175.7L338.3,176.9L338.6,177.7L339.1,179.7L339.8,181.7L340.3,183.3L340.4,183.7L341.8,187.7L342.3,189L342.6,189.7L343.3,191.7L343.9,193.7L344.3,194.8L344.6,195.7L345.8,199.7L346.3,201.6L346.3,201.7L346.8,203.7L347.2,205.7L347.5,207.6L347.9,209.6L348.2,211.6L348.3,212.4L348.5,213.6L348.8,215.6L349.2,217.6L350.1,223.6L350.3,225.1L350.4,225.6L350.7,227.6L350.9,229.6L351.2,231.6L351.4,233.6L351.7,235.6L352.3,241.6L352.3,241.8L352.4,243.6L352.6,245.6L353,253.6L353,255.6L353.2,259.6L353.2,261.6L353.3,263.5L353.7,271.5L354.3,275.5L354.3,275.6L354.6,277.5L355,279.5L355.5,281.5L356.3,285.5L356.9,289.5L357,291.5L356.7,293.5L356.5,295.5L356.4,297.5L356.4,299.5L356.8,307.5L357,309.5L357.5,319.5L357.6,321.4L357.5,323.4L357.5,327.4L357.7,329.4L358.1,331.4L358.3,332.1L358.7,333.4L359.6,335.4L360.3,337L362.5,341.4L364.9,345.4L366.3,347.3L366.3,347.4L367.9,349.4L341,349.4L341.2,347.4L341.5,345.4L342.1,339.4L342.2,337.4L342.3,336.5L342.4,335.4L342.8,331.4L343.4,327.4L343.9,325.4L344.3,323.5L344.3,323.4L344.7,321.4L345.1,319.5L345.4,317.5L345.8,315.5L346.1,313.5L346.3,312L346.4,311.5L347,305.5L347,303.5L346.9,301.5L346.7,299.5L346.4,297.5L346,295.5L345.7,293.5L344.9,289.5L343.9,285.5L343.2,283.5L342.6,281.5L342.3,280.8L341.9,279.5L340.7,275.5L340.3,273.6L340.3,273.5L340.1,271.5L340,269.5L340,243.6L339.9,241.6L339.9,239.6L339.4,229.6L339.2,227.6L339.1,225.6L338.5,219.6L338.3,217.9L338.3,217.6L337.7,211.6L337.4,209.6L337.2,207.6L337,205.7L336.7,203.7L336.3,202.2L336.2,201.7L335.2,197.7L334.5,195.7L334.3,195.2L333.8,193.7L333.1,191.7L332.3,189.7L331.6,187.7L330.8,185.7L330.4,184.5L330,183.7L328.6,179.7L328.4,178.9L328,177.7L327.4,175.7L326.9,173.7L326.5,171.7L326.4,170.6L326.2,169.7L326,165.7L326,163.7L326.1,161.7L326.1,159.7L326.2,157.7L326.4,155.7L326.5,153.7L326.9,149.7L327.1,147.8L327.5,143.8L327.8,141.8L328,139.8L328.3,137.8L328.4,137.3L328.6,135.8L329.8,127.8L330,125.8L330.4,123.8L330.7,121.8L331.2,119.8L331.6,117.8L332.1,115.8L332.3,114.7L332.6,113.8L333.1,111.8L334.3,107.8L334.3,107.6L334.9,105.8L335.6,103.8L336.2,101.8L336.3,101.5L336.9,99.8L338.3,95.8L339.1,93.8L339.8,91.8L340.3,90.4L342.1,85.9L342.3,85.2L342.9,83.9L343.7,81.9L344.3,80.6L344.7,79.9L345.6,77.9L346.3,76.5L346.7,75.9L347.7,73.9L348.3,72.8L348.8,71.9L349.9,69.9L350.3,69.2L351.1,67.9L352.2,65.9L352.3,65.7L353.4,63.9L354.3,62.3L354.5,61.9L355.7,59.9L356.3,58.8L356.8,57.9L357.9,55.9L358.3,55.3L359.1,53.9L360.1,51.9L360.3,51.6L361.2,49.9L362.1,47.9L362.3,47.6L363.1,45.9L364,43.9L364.3,43.2L364.9,41.9L365.7,39.9L366.3,38.7L366.6,37.9L367.5,35.9L368.3,34L369.2,32L370,30L370.3,29.3L370.8,28L371.6,26L372.3,24.3L372.4,24L374,20L374.3,19.2L374.7,18L375.5,16L376.2,14L376.2,13.8L376.9,12L377.7,10L378.2,8.2L378.3,8L379,6Z"/>
<path fill="#ff1f00" stroke="#ff1f00" d="M388.9,6L388.2,7.8L388.1,8L387.2,10L386.4,12L386.2,12.3L385.5,14L384.6,16L384.2,16.9L383.8,18L382.9,20L382.2,21.6L382.1,22L381.2,24L380.4,26L380.2,26.3L379.5,28L378.6,30L377.8,32L376.9,34L376.2,35.8L376.2,35.9L375.3,37.9L374.5,39.9L374.3,40.5L373.6,41.9L372.8,43.9L372.3,45.4L372,45.9L371.1,47.9L370.3,49.9L370.3,50.1L369.4,51.9L368.6,53.9L368.3,54.8L367.8,55.9L366.9,57.9L366.1,59.9L365.1,61.9L364.4,63.9L364.3,64.1L363.5,65.9L362.6,67.9L362.3,68.9L361.8,69.9L361,71.9L360.3,73.9L358.7,77.9L358.3,79.2L358,79.9L356.6,83.9L356.3,85.1L356,85.9L355.4,87.9L354.7,89.9L354.3,91.3L354.1,91.8L352.7,95.8L352.3,97.2L352.1,97.8L350.7,101.8L350.3,103.2L350.1,103.8L348.9,107.8L348.4,109.8L348.3,110.1L347.9,111.8L347.4,113.8L346.6,117.8L346.4,119.8L346.3,120.6L346.2,121.8L346,123.8L346,135.8L346.1,137.8L346.1,139.8L346.2,141.8L346.2,143.8L346.3,145.8L346.3,147.8L346.4,149.7L346.4,151.7L346.5,153.7L346.5,155.7L346.7,159.7L346.7,161.7L347,167.7L347.2,169.7L347.8,173.7L348.3,175.7L348.3,175.9L348.6,177.7L349.6,181.7L350.2,183.7L351.2,187.7L351.8,189.7L352.3,191.2L352.4,191.7L352.9,193.7L354.1,197.7L354.3,198.4L354.6,199.7L355,201.7L355.5,203.7L355.9,205.7L356.3,207.6L357.2,213.6L358,217.6L358.3,219.2L358.3,219.6L359.5,227.6L359.9,229.6L360.2,231.6L360.3,232.2L360.4,233.6L360.6,235.6L360.9,237.6L361.1,239.6L361.4,241.6L361.6,243.6L361.9,245.6L362.1,247.6L362.3,248.9L362.3,249.6L362.4,251.6L362.6,253.6L362.8,257.6L363,259.6L363.1,261.6L363.3,263.5L364.1,271.5L364.3,273L364.3,273.5L364.4,275.5L364.6,277.5L364.7,279.5L365.3,285.5L366.2,291.5L366.3,292.4L366.4,293.5L366.6,295.5L367.2,299.5L367.6,301.5L367.9,303.5L368.3,305.2L368.3,305.5L368.9,307.5L369.6,309.5L370.3,311.3L370.3,311.5L371.2,313.5L372,315.5L372.3,316L372.9,317.5L373.8,319.5L374.3,320.6L374.6,321.4L375.5,323.4L376.2,325.2L376.3,325.4L377.4,327.4L378.2,328.9L380.2,331.4L380.2,331.5L382.2,333.3L382.4,333.4L384.2,334.8L385.1,335.4L386.2,336.2L388,337.4L388.2,337.6L390.2,338.8L391.1,339.4L392.2,340.1L394.2,341.4L394.3,341.4L396.2,342.5L397.8,343.4L398.2,343.6L400.2,344.7L404.2,346.7L405.7,347.4L406.2,347.6L408.2,348.5L410,349.4L367.9,349.4L366.3,347.4L366.3,347.3L364.9,345.4L362.5,341.4L360.3,337L359.6,335.4L358.7,333.4L358.3,332.1L358.1,331.4L357.7,329.4L357.5,327.4L357.5,323.4L357.6,321.4L357.5,319.5L357,309.5L356.8,307.5L356.4,299.5L356.4,297.5L356.5,295.5L356.7,293.5L357,291.5L356.9,289.5L356.3,285.5L355.5,281.5L355,279.5L354.6,277.5L354.3,275.6L354.3,275.5L353.7,271.5L353.3,263.5L353.2,261.6L353.2,259.6L353,255.6L353,253.6L352.6,245.6L352.4,243.6L352.3,241.8L352.3,241.6L351.7,235.6L351.4,233.6L351.2,231.6L350.9,229.6L350.7,227.6L350.4,225.6L350.3,225.1L350.1,223.6L349.2,217.6L348.8,215.6L348.5,213.6L348.3,212.4L348.2,211.6L347.9,209.6L347.5,207.6L347.2,205.7L346.8,203.7L346.3,201.7L346.3,201.6L345.8,199.7L344.6,195.7L344.3,194.8L343.9,193.7L343.3,191.7L342.6,189.7L342.3,189L341.8,187.7L340.4,183.7L340.3,183.3L339.8,181.7L339.1,179.7L338.6,177.7L338.3,176.9L338,175.7L337.2,171.7L336.9,169.7L336.7,167.7L336.6,165.7L336.6,153.7L336.7,151.7L336.7,149.7L336.8,147.8L336.8,145.8L337.4,133.8L337.6,131.8L337.9,125.8L338.3,121.8L338.6,119.8L339.4,115.8L339.9,113.8L340.3,111.9L340.3,111.8L342.1,105.8L342.3,105L342.7,103.8L343.3,101.8L344,99.8L344.3,98.9L344.7,97.8L346.1,93.8L346.3,93.2L346.8,91.8L347.5,89.9L348.2,87.9L348.3,87.6L348.9,85.9L349.6,83.9L350.3,82.1L350.4,81.9L352,77.9L352.3,77.3L352.9,75.9L353.8,73.9L354.8,71.9L355.7,69.9L356.3,68.8L356.7,67.9L357.7,65.9L358.3,64.8L358.7,63.9L359.7,61.9L360.3,60.8L360.7,59.9L361.7,57.9L362.3,56.8L362.7,55.9L364.7,51.9L365.6,49.9L366.3,48.5L366.5,47.9L368.3,43.9L369.1,41.9L370,39.9L370.3,39.3L370.8,37.9L371.7,35.9L372.3,34.6L372.5,34L373.4,32L374.2,30L374.3,29.8L375,28L375.8,26L376.2,24.9L376.6,24L377.5,22L378.2,20L378.3,20L379.9,16L380.2,15L382.2,10L382.2,9.9L383,8L383.8,6Z"/>
<path fill="#ff1000" stroke="#ff1000" d="M388.2,7.8L388.9,6L394.1,6L393.2,8L392.2,9.7L392.1,10L391.3,12L390.2,13.8L390.2,14L389.4,16L388.2,17.9L388.2,18L387.6,20L386.3,22L386.2,22.2L385.8,24L384.6,26L384.2,26.7L383.9,28L382.9,30L382.2,31.3L382.1,32L381.3,34L380.2,35.8L380.2,35.9L379.7,37.9L378.5,39.9L378.2,40.6L378,41.9L377.1,43.9L376.2,45.6L376.2,45.9L375.7,47.9L374.5,49.9L374.3,50.6L374,51.9L373.3,53.9L372.3,55.8L372.2,55.9L371.8,57.9L370.9,59.9L370.3,61.2L370.1,61.9L369.5,63.9L368.6,65.9L368.3,66.7L368,67.9L367.4,69.9L366.5,71.9L366.3,72.5L366,73.9L365.3,75.9L364.5,77.9L364.3,78.6L364,79.9L363.4,81.9L362.7,83.9L362.3,85.1L361.6,87.9L360.9,89.9L360.3,91.6L360.2,91.8L359.7,93.8L358.9,95.8L358.3,97.6L358.2,97.8L357.6,99.8L356.9,101.8L356.3,103.6L356.2,103.8L355.7,105.8L354.5,109.8L354.3,110.4L354,111.8L352.4,119.8L352.2,121.8L352.1,123.8L352.1,131.8L352.2,133.8L352.2,137.8L352.6,145.8L352.8,147.8L352.9,149.7L353.1,151.7L353.2,153.7L353.4,155.7L353.5,157.7L353.7,159.7L353.8,161.7L354,163.7L354.2,167.7L354.3,168.9L354.4,169.7L354.7,171.7L355.1,173.7L355.6,175.7L356.2,179.7L356.3,180.2L356.7,181.7L357.3,183.7L357.8,185.7L358.2,187.7L358.3,188.6L358.6,189.7L359.8,193.7L360.1,195.7L360.3,197.1L360.4,197.7L361.6,201.7L361.9,203.7L362.1,205.7L362.3,207.6L362.3,207.8L362.6,209.6L363.1,211.6L363.5,213.6L363.8,215.6L364,217.6L364.2,221.6L364.3,222.4L364.5,223.6L365.3,227.6L365.9,231.6L366.2,237.6L366.3,239.5L366.3,239.6L366.6,241.6L367.1,243.6L367.5,245.6L367.8,247.6L368,249.6L368.2,253.6L368.2,255.6L368.3,257.4L368.3,257.6L368.6,259.6L369.1,261.6L369.5,263.5L369.9,267.5L370.2,273.5L370.2,279.5L370.3,281.5L370.3,283.5L370.7,285.5L372.2,291.5L374.2,293.5L374.3,293.5L376.2,294.1L378.1,295.5L378.2,295.6L380.2,296.2L382.2,297.5L382.3,297.5L384.2,298L387.2,299.5L388.2,299.8L390.2,300.7L391.9,301.5L392.2,301.6L394.2,302.5L396.1,303.5L396.2,303.6L398.2,304.6L399.6,305.5L400.2,305.8L402.2,307L402.9,307.5L404.2,308.2L406,309.5L406.2,309.6L408.2,310.8L409.2,311.5L410.2,312L412.2,313.3L412.4,313.5L414.2,314.5L415.7,315.5L416.2,315.7L418.1,316.8L419.2,317.5L420.1,317.9L422.1,319L422.9,319.5L424.1,320L426.1,320.8L427.4,321.4L428.1,321.7L432.1,323.1L433,323.4L434.1,323.8L436.1,324.4L438.1,325.1L438.8,325.4L440.1,325.9L442.1,326.6L444,327.4L444.1,327.5L446.1,328.6L447.4,329.4L448.1,330.2L449,331.4L450.1,333L450.3,333.4L451.4,335.4L452.1,337.3L452.1,337.4L452.5,339.4L452.5,349.4L410,349.4L408.2,348.5L406.2,347.6L405.7,347.4L404.2,346.7L400.2,344.7L398.2,343.6L397.8,343.4L396.2,342.5L394.3,341.4L394.2,341.4L392.2,340.1L391.1,339.4L390.2,338.8L388.2,337.6L388,337.4L386.2,336.2L385.1,335.4L384.2,334.8L382.4,333.4L382.2,333.3L380.2,331.5L380.2,331.4L378.2,328.9L377.4,327.4L376.3,325.4L376.2,325.2L375.5,323.4L374.6,321.4L374.3,320.6L373.8,319.5L372.9,317.5L372.3,316L372,315.5L371.2,313.5L370.3,311.5L370.3,311.3L369.6,309.5L368.9,307.5L368.3,305.5L368.3,305.2L367.9,303.5L367.6,301.5L367.2,299.5L366.6,295.5L366.4,293.5L366.3,292.4L366.2,291.5L365.3,285.5L364.7,279.5L364.6,277.5L364.4,275.5L364.3,273.5L364.3,273L364.1,271.5L363.3,263.5L363.1,261.6L363,259.6L362.8,257.6L362.6,253.6L362.4,251.6L362.3,249.6L362.3,248.9L362.1,247.6L361.9,245.6L361.6,243.6L361.4,241.6L361.1,239.6L360.9,237.6L360.6,235.6L360.4,233.6L360.3,232.2L360.2,231.6L359.9,229.6L359.5,227.6L358.3,219.6L358.3,219.2L358,217.6L357.2,213.6L356.3,207.6L355.9,205.7L355.5,203.7L355,201.7L354.6,199.7L354.3,198.4L354.1,197.7L352.9,193.7L352.4,191.7L352.3,191.2L351.8,189.7L351.2,187.7L350.2,183.7L349.6,181.7L348.6,177.7L348.3,175.9L348.3,175.7L347.8,173.7L347.2,169.7L347,167.7L346.7,161.7L346.7,159.7L346.5,155.7L346.5,153.7L346.4,151.7L346.4,149.7L346.3,147.8L346.3,145.8L346.2,143.8L346.2,141.8L346.1,139.8L346.1,137.8L346,135.8L346,123.8L346.2,121.8L346.3,120.6L346.4,119.8L346.6,117.8L347.4,113.8L347.9,111.8L348.3,110.1L348.4,109.8L348.9,107.8L350.1,103.8L350.3,103.2L350.7,101.8L352.1,97.8L352.3,97.2L352.7,95.8L354.1,91.8L354.3,91.3L354.7,89.9L355.4,87.9L356,85.9L356.3,85.1L356.6,83.9L358,79.9L358.3,79.2L358.7,77.9L360.3,73.9L361,71.9L361.8,69.9L362.3,68.9L362.6,67.9L363.5,65.9L364.3,64.1L364.4,63.9L365.1,61.9L366.1,59.9L366.9,57.9L367.8,55.9L368.3,54.8L368.6,53.9L369.4,51.9L370.3,50.1L370.3,49.9L371.1,47.9L372,45.9L372.3,45.4L372.8,43.9L373.6,41.9L374.3,40.5L374.5,39.9L375.3,37.9L376.2,35.9L376.2,35.8L376.9,34L377.8,32L378.6,30L379.5,28L380.2,26.3L380.4,26L381.2,24L382.1,22L382.2,21.6L382.9,20L383.8,18L384.2,16.9L384.6,16L385.5,14L386.2,12.3L386.4,12L387.2,10L388.1,8Z"/>
<path fill="#ff0400" stroke="#ff0400" d="M418,6L418,8L417.9,10L417.9,12L417.5,20L417.3,22L417.2,24L416.8,28L416.7,30L416.5,32L416.4,34L416.2,35.9L416.2,36.8L416,37.9L414.8,45.9L414.4,47.9L414.2,48.8L413.7,49.9L412.5,51.9L412.2,52.5L411.1,53.9L410.2,55.1L409.5,55.9L408.2,57.3L405.6,59.9L404.2,61.2L403.4,61.9L402.2,62.9L401.1,63.9L400.2,64.6L398.8,65.9L398.2,66.3L396.4,67.9L396.2,68.1L394.2,69.8L394.2,69.9L392.2,71.5L391.8,71.9L390.2,73.3L389.6,73.9L388.2,75.1L387.5,75.9L386.2,77.1L385.5,77.9L384.2,79.4L383.8,79.9L382.3,81.9L382.2,81.9L381,83.9L380,85.9L379.2,87.9L378.5,89.9L378.2,90.6L377.7,91.8L376.3,95.8L376.2,96L375.6,97.8L374.9,99.8L374.3,101.8L374.3,102L373.7,103.8L373.1,105.8L372.6,107.8L372.3,109.1L372.1,109.8L371.6,111.8L371.2,113.8L370.3,119.8L370.3,120.6L370.1,121.8L370,123.8L370,127.8L370.2,129.8L370.3,130L370.5,131.8L370.9,133.8L371.4,135.8L372,137.8L372.3,138.6L372.6,139.8L374.2,143.8L374.3,143.9L375,145.8L375.9,147.8L376.2,148.4L376.9,149.7L377.9,151.7L378.2,152.5L378.8,153.7L379.9,155.7L380.2,156.5L380.9,157.7L381.9,159.7L382.2,160.4L382.9,161.7L383.9,163.7L384.2,164.4L384.8,165.7L386.8,169.7L387.9,171.7L388.2,172.2L389,173.7L390.2,175.6L390.3,175.7L391.5,177.7L392.2,178.7L392.8,179.7L395.6,183.7L396.2,184.5L397,185.7L400,189.7L400.2,189.9L401.5,191.7L402.2,192.5L403.1,193.7L404.2,195.1L404.6,195.7L406.2,197.6L406.3,197.7L407.8,199.7L408.2,200.1L409.4,201.7L410.2,202.6L411,203.7L412.2,205.2L412.5,205.7L414.1,207.6L414.2,207.7L415.8,209.6L416.2,210.1L417.5,211.6L418.1,212.3L419.3,213.6L420.1,214.5L422.1,216.7L423,217.6L424.1,218.8L424.9,219.6L426.1,220.9L426.8,221.6L428.1,223.1L428.6,223.6L430.1,225.2L430.5,225.6L432.1,227.4L432.3,227.6L434,229.6L434.1,229.8L436.1,232.2L437.2,233.6L438.1,234.7L438.7,235.6L440.1,237.5L440.1,237.6L441.4,239.6L442.1,240.7L442.6,241.6L443.7,243.6L444.7,245.6L445.5,247.6L446.1,248.9L446.4,249.6L447.3,251.6L448.1,253.5L448.1,253.6L449.1,255.6L449.9,257.6L450.1,257.9L451.1,259.6L452.1,261.5L452.1,261.6L454.1,263.5L456.1,264.5L458.1,265.3L458.8,265.5L460.1,266L462,266.5L466,267.3L467.1,267.5L468,267.7L470,268.2L472,268.8L474,269.5L474,269.6L476,270.5L477.6,271.5L480,273.3L480.3,273.5L482,274.9L482,349.4L452.5,349.4L452.5,339.4L452.1,337.4L452.1,337.3L451.4,335.4L450.3,333.4L450.1,333L449,331.4L448.1,330.2L447.4,329.4L446.1,328.6L444.1,327.5L444,327.4L442.1,326.6L440.1,325.9L438.8,325.4L438.1,325.1L436.1,324.4L434.1,323.8L433,323.4L432.1,323.1L428.1,321.7L427.4,321.4L426.1,320.8L424.1,320L422.9,319.5L422.1,319L420.1,317.9L419.2,317.5L418.1,316.8L416.2,315.7L415.7,315.5L414.2,314.5L412.4,313.5L412.2,313.3L410.2,312L409.2,311.5L408.2,310.8L406.2,309.6L406,309.5L404.2,308.2L402.9,307.5L402.2,307L400.2,305.8L399.6,305.5L398.2,304.6L396.2,303.6L396.1,303.5L394.2,302.5L392.2,301.6L391.9,301.5L390.2,300.7L388.2,299.8L387.2,299.5L384.2,298L382.3,297.5L382.2,297.5L380.2,296.2L378.2,295.6L378.1,295.5L376.2,294.1L374.3,293.5L374.2,293.5L372.2,291.5L370.7,285.5L370.3,283.5L370.3,281.5L370.2,279.5L370.2,273.5L369.9,267.5L369.5,263.5L369.1,261.6L368.6,259.6L368.3,257.6L368.3,257.4L368.2,255.6L368.2,253.6L368,249.6L367.8,247.6L367.5,245.6L367.1,243.6L366.6,241.6L366.3,239.6L366.3,239.5L366.2,237.6L365.9,231.6L365.3,227.6L364.5,223.6L364.3,222.4L364.2,221.6L364,217.6L363.8,215.6L363.5,213.6L363.1,211.6L362.6,209.6L362.3,207.8L362.3,207.6L362.1,205.7L361.9,203.7L361.6,201.7L360.4,197.7L360.3,197.1L360.1,195.7L359.8,193.7L358.6,189.7L358.3,188.6L358.2,187.7L357.8,185.7L357.3,183.7L356.7,181.7L356.3,180.2L356.2,179.7L355.6,175.7L355.1,173.7L354.7,171.7L354.4,169.7L354.3,168.9L354.2,167.7L354,163.7L353.8,161.7L353.7,159.7L353.5,157.7L353.4,155.7L353.2,153.7L353.1,151.7L352.9,149.7L352.8,147.8L352.6,145.8L352.2,137.8L352.2,133.8L352.1,131.8L352.1,123.8L352.2,121.8L352.4,119.8L354,111.8L354.3,110.4L354.5,109.8L355.7,105.8L356.2,103.8L356.3,103.6L356.9,101.8L357.6,99.8L358.2,97.8L358.3,97.6L358.9,95.8L359.7,93.8L360.2,91.8L360.3,91.6L360.9,89.9L361.6,87.9L362.3,85.1L362.7,83.9L363.4,81.9L364,79.9L364.3,78.6L364.5,77.9L365.3,75.9L366,73.9L366.3,72.5L366.5,71.9L367.4,69.9L368,67.9L368.3,66.7L368.6,65.9L369.5,63.9L370.1,61.9L370.3,61.2L370.9,59.9L371.8,57.9L372.2,55.9L372.3,55.8L373.3,53.9L374,51.9L374.3,50.6L374.5,49.9L375.7,47.9L376.2,45.9L376.2,45.6L377.1,43.9L378,41.9L378.2,40.6L378.5,39.9L379.7,37.9L380.2,35.9L380.2,35.8L381.3,34L382.1,32L382.2,31.3L382.9,30L383.9,28L384.2,26.7L384.6,26L385.8,24L386.2,22.2L386.3,22L387.6,20L388.2,18L388.2,17.9L389.4,16L390.2,14L390.2,13.8L391.3,12L392.1,10L392.2,9.7L393.2,8L394.1,6Z"/>
<path fill="#fa0000" stroke="#fa0000" d="M424,6L423.9,8L423.9,10L423.7,14L423.7,16L423,30L423,32L422.8,34L422.7,35.9L422.2,45.9L422.1,46.3L421.9,47.9L421.2,49.9L420.2,51.9L420.1,52L418.9,53.9L418.1,54.8L417.3,55.9L416.2,57.2L412.2,61.2L411.4,61.9L410.2,63L408.2,64.8L406.9,65.9L406.2,66.6L404.7,67.9L404.2,68.3L402.4,69.9L402.2,70.1L400.2,71.9L398.2,73.8L398.2,73.9L396.2,75.9L394.5,77.9L393,79.9L392.2,81.2L391.8,81.9L390.9,83.9L390.3,85.9L390.2,86.4L390,87.9L389.7,89.9L389.3,91.8L389.1,93.8L388.5,97.8L388.3,99.8L388.2,100.2L388,101.8L387.4,107.8L387.3,109.8L387.1,111.8L386.9,115.8L386.9,117.8L386.8,119.8L386.8,125.8L386.9,127.8L387.1,129.8L387.4,131.8L388.2,135.8L388.8,137.8L389.3,139.8L390,141.8L390.2,142.4L390.7,143.8L392.1,147.8L392.2,147.9L392.9,149.7L393.7,151.7L394.2,153.1L394.5,153.7L395.3,155.7L396,157.7L396.8,159.7L397.5,161.7L398.2,163.6L398.2,163.7L399,165.7L399.7,167.7L400.2,168.8L400.6,169.7L401.7,171.7L402.2,172.6L402.9,173.7L404.2,175.7L405.7,177.7L406.2,178.3L407.4,179.7L408.2,180.6L409.1,181.7L410.2,182.8L411,183.7L415,187.7L416.2,188.8L417.1,189.7L418.1,190.6L419.3,191.7L420.1,192.4L421.6,193.7L422.1,194.2L423.8,195.7L424.1,196L428.1,199.4L428.4,199.7L430.1,201.2L430.7,201.7L432.1,202.9L433,203.7L435.2,205.7L436.1,206.5L437.5,207.6L438.1,208.2L439.9,209.6L440.1,209.8L442.1,211.4L442.4,211.6L444.1,212.9L445.2,213.6L446.1,214.2L448.1,215.6L448.2,215.6L450.1,216.8L451.5,217.6L452.1,217.9L454.1,219.1L455.2,219.6L456.1,220.1L460.1,222.1L462,223.1L463.1,223.6L464,224.1L466,225.1L467.1,225.6L468,226.1L470,227.2L470.8,227.6L472,228.3L474,229.5L474.1,229.6L476,231L476.7,231.6L478,232.6L479.2,233.6L480,234.2L481.8,235.6L482,235.8L482,274.9L480.3,273.5L480,273.3L477.6,271.5L476,270.5L474,269.6L474,269.5L472,268.8L470,268.2L468,267.7L467.1,267.5L466,267.3L462,266.5L460.1,266L458.8,265.5L458.1,265.3L456.1,264.5L454.1,263.5L452.1,261.6L452.1,261.5L451.1,259.6L450.1,257.9L449.9,257.6L449.1,255.6L448.1,253.6L448.1,253.5L447.3,251.6L446.4,249.6L446.1,248.9L445.5,247.6L444.7,245.6L443.7,243.6L442.6,241.6L442.1,240.7L441.4,239.6L440.1,237.6L440.1,237.5L438.7,235.6L438.1,234.7L437.2,233.6L436.1,232.2L434.1,229.8L434,229.6L432.3,227.6L432.1,227.4L430.5,225.6L430.1,225.2L428.6,223.6L428.1,223.1L426.8,221.6L426.1,220.9L424.9,219.6L424.1,218.8L423,217.6L422.1,216.7L420.1,214.5L419.3,213.6L418.1,212.3L417.5,211.6L416.2,210.1L415.8,209.6L414.2,207.7L414.1,207.6L412.5,205.7L412.2,205.2L411,203.7L410.2,202.6L409.4,201.7L408.2,200.1L407.8,199.7L406.3,197.7L406.2,197.6L404.6,195.7L404.2,195.1L403.1,193.7L402.2,192.5L401.5,191.7L400.2,189.9L400,189.7L397,185.7L396.2,184.5L395.6,183.7L392.8,179.7L392.2,178.7L391.5,177.7L390.3,175.7L390.2,175.6L389,173.7L388.2,172.2L387.9,171.7L386.8,169.7L384.8,165.7L384.2,164.4L383.9,163.7L382.9,161.7L382.2,160.4L381.9,159.7L380.9,157.7L380.2,156.5L379.9,155.7L378.8,153.7L378.2,152.5L377.9,151.7L376.9,149.7L376.2,148.4L375.9,147.8L375,145.8L374.3,143.9L374.2,143.8L372.6,139.8L372.3,138.6L372,137.8L371.4,135.8L370.9,133.8L370.5,131.8L370.3,130L370.2,129.8L370,127.8L370,123.8L370.1,121.8L370.3,120.6L370.3,119.8L371.2,113.8L371.6,111.8L372.1,109.8L372.3,109.1L372.6,107.8L373.1,105.8L373.7,103.8L374.3,102L374.3,101.8L374.9,99.8L375.6,97.8L376.2,96L376.3,95.8L377.7,91.8L378.2,90.6L378.5,89.9L379.2,87.9L380,85.9L381,83.9L382.2,81.9L382.3,81.9L383.8,79.9L384.2,79.4L385.5,77.9L386.2,77.1L387.5,75.9L388.2,75.1L389.6,73.9L390.2,73.3L391.8,71.9L392.2,71.5L394.2,69.9L394.2,69.8L396.2,68.1L396.4,67.9L398.2,66.3L398.8,65.9L400.2,64.6L401.1,63.9L402.2,62.9L403.4,61.9L404.2,61.2L405.6,59.9L408.2,57.3L409.5,55.9L410.2,55.1L411.1,53.9L412.2,52.5L412.5,51.9L413.7,49.9L414.2,48.8L414.4,47.9L414.8,45.9L416,37.9L416.2,36.8L416.2,35.9L416.4,34L416.5,32L416.7,30L416.8,28L417.2,24L417.3,22L417.5,20L417.9,12L417.9,10L418,8L418,6Z"/>
<path fill="#f30000" stroke="#f30000" d="M429.8,6L429.4,10L429.3,12L429.1,14L428.8,20L428.6,22L428.5,24L428.5,26L428.2,32L428.2,34L428.1,35.5L428.1,39.9L428,41.9L428,45.9L427.8,47.9L427.3,49.9L426.1,52.3L425.2,53.9L424.1,55.4L423.7,55.9L422.1,57.8L422.1,57.9L420.3,59.9L420.1,60L418.3,61.9L416.3,63.9L416.2,64.1L414.3,65.9L414.2,66.1L412.3,67.9L412.2,68L410.4,69.9L410.2,70.1L408.5,71.9L408.2,72.3L406.8,73.9L406.2,74.7L405.2,75.9L404.2,77.4L403.9,77.9L402.8,79.9L402,81.9L401.5,83.9L401.4,85.9L401.6,89.9L401.7,91.8L401.8,93.8L402,95.8L402.1,97.8L402.2,98.6L402.3,99.8L404.1,117.8L404.2,118.6L404.3,119.8L405.1,127.8L405.4,129.8L405.8,131.8L406.2,133.6L406.2,133.8L408,139.8L408.2,140.1L408.8,141.8L409.6,143.8L410.2,145.2L410.4,145.8L411.3,147.8L412.2,149.6L412.2,149.7L413.2,151.7L414.1,153.7L414.2,153.8L415.1,155.7L416.1,157.7L416.2,157.8L417.1,159.7L418.1,161.7L418.1,161.9L419,163.7L419.9,165.7L420.9,167.7L422.1,169.6L422.2,169.7L423.7,171.7L424.1,172.2L425.5,173.7L426.1,174.3L427.6,175.7L428.1,176.2L429.9,177.7L430.1,177.9L432.1,179.5L432.4,179.7L434.1,181L436.1,182.4L438,183.7L438.1,183.7L440.1,185L441.1,185.7L442.1,186.3L444.1,187.6L444.3,187.7L446.1,188.8L447.5,189.7L448.1,190L450.1,191.3L450.7,191.7L452.1,192.5L453.9,193.7L454.1,193.8L456.1,195.1L457,195.7L458.1,196.4L459.9,197.7L460.1,197.8L462,199.3L462.6,199.7L464,200.8L465.1,201.7L466,202.4L467.5,203.7L468,204.2L469.6,205.7L470,206L471.6,207.6L472,208.1L473.4,209.6L474,210.3L475.1,211.6L476,212.7L476.8,213.6L478,215L478.5,215.6L480,217.3L480.3,217.6L482,219.4L482,235.8L481.8,235.6L480,234.2L479.2,233.6L478,232.6L476.7,231.6L476,231L474.1,229.6L474,229.5L472,228.3L470.8,227.6L470,227.2L468,226.1L467.1,225.6L466,225.1L464,224.1L463.1,223.6L462,223.1L460.1,222.1L456.1,220.1L455.2,219.6L454.1,219.1L452.1,217.9L451.5,217.6L450.1,216.8L448.2,215.6L448.1,215.6L446.1,214.2L445.2,213.6L444.1,212.9L442.4,211.6L442.1,211.4L440.1,209.8L439.9,209.6L438.1,208.2L437.5,207.6L436.1,206.5L435.2,205.7L433,203.7L432.1,202.9L430.7,201.7L430.1,201.2L428.4,199.7L428.1,199.4L424.1,196L423.8,195.7L422.1,194.2L421.6,193.7L420.1,192.4L419.3,191.7L418.1,190.6L417.1,189.7L416.2,188.8L415,187.7L411,183.7L410.2,182.8L409.1,181.7L408.2,180.6L407.4,179.7L406.2,178.3L405.7,177.7L404.2,175.7L402.9,173.7L402.2,172.6L401.7,171.7L400.6,169.7L400.2,168.8L399.7,167.7L399,165.7L398.2,163.7L398.2,163.6L397.5,161.7L396.8,159.7L396,157.7L395.3,155.7L394.5,153.7L394.2,153.1L393.7,151.7L392.9,149.7L392.2,147.9L392.1,147.8L390.7,143.8L390.2,142.4L390,141.8L389.3,139.8L388.8,137.8L388.2,135.8L387.4,131.8L387.1,129.8L386.9,127.8L386.8,125.8L386.8,119.8L386.9,117.8L386.9,115.8L387.1,111.8L387.3,109.8L387.4,107.8L388,101.8L388.2,100.2L388.3,99.8L388.5,97.8L389.1,93.8L389.3,91.8L389.7,89.9L390,87.9L390.2,86.4L390.3,85.9L390.9,83.9L391.8,81.9L392.2,81.2L393,79.9L394.5,77.9L396.2,75.9L398.2,73.9L398.2,73.8L400.2,71.9L402.2,70.1L402.4,69.9L404.2,68.3L404.7,67.9L406.2,66.6L406.9,65.9L408.2,64.8L410.2,63L411.4,61.9L412.2,61.2L416.2,57.2L417.3,55.9L418.1,54.8L418.9,53.9L420.1,52L420.2,51.9L421.2,49.9L421.9,47.9L422.1,46.3L422.2,45.9L422.7,35.9L422.8,34L423,32L423,30L423.7,16L423.7,14L423.9,10L423.9,8L424,6Z"/>
<path fill="#e90000" stroke="#e90000" d="M437.5,6L437.3,8L437.2,10L437,12L436.9,14L436.7,16L436.2,26L436.2,28L436.1,30L436.1,41.9L436.2,43.9L436.2,45.9L436.1,47.6L436.1,47.9L435.7,49.9L434.9,51.9L434.1,53.6L433.9,53.9L432.8,55.9L431.4,57.9L430.1,59.7L429.9,59.9L428.1,62.3L426.8,63.9L426.1,64.8L425.3,65.9L424.1,67.4L423.8,67.9L422.4,69.9L422.1,70.2L421.1,71.9L420.1,73.5L419.9,73.9L419,75.9L418.2,77.9L418.1,78L417.6,79.9L417.3,81.9L417.2,83.9L417.3,85.9L417.6,87.9L418,89.9L418.1,90.9L418.3,91.8L420.1,100.8L420.4,101.8L420.8,103.8L421.8,107.8L422.1,109.2L422.3,109.8L423.8,115.8L424.1,117.1L424.3,117.8L425.3,121.8L425.9,123.8L426.1,124.9L426.4,125.8L426.9,127.8L427.6,129.8L428.1,131.2L428.3,131.8L430.1,135.8L431.1,137.8L432.1,139.6L432.2,139.8L433.4,141.8L434.1,143L434.6,143.8L435.9,145.8L436.1,146.1L437.2,147.8L438.1,149.1L438.5,149.7L439.9,151.7L440.1,152L441.3,153.7L442.1,154.9L442.7,155.7L445.5,159.7L446.1,160.6L446.8,161.7L448.1,163.6L448.1,163.7L449.4,165.7L450.1,166.8L450.7,167.7L452.1,169.4L452.3,169.7L454.1,171.7L456.1,173.6L456.1,173.7L458.1,175.5L458.3,175.7L460.1,177.3L460.5,177.7L462,179L462.9,179.7L464,180.7L465.2,181.7L466,182.4L467.4,183.7L468,184.2L469.6,185.7L472,188.1L473.5,189.7L474,190.3L475.2,191.7L476,192.6L476.8,193.7L478.3,195.7L479.7,197.7L480,198.1L481,199.7L482,201.2L482,219.4L480.3,217.6L480,217.3L478.5,215.6L478,215L476.8,213.6L476,212.7L475.1,211.6L474,210.3L473.4,209.6L472,208.1L471.6,207.6L470,206L469.6,205.7L468,204.2L467.5,203.7L466,202.4L465.1,201.7L464,200.8L462.6,199.7L462,199.3L460.1,197.8L459.9,197.7L458.1,196.4L457,195.7L456.1,195.1L454.1,193.8L453.9,193.7L452.1,192.5L450.7,191.7L450.1,191.3L448.1,190L447.5,189.7L446.1,188.8L444.3,187.7L444.1,187.6L442.1,186.3L441.1,185.7L440.1,185L438.1,183.7L438,183.7L436.1,182.4L434.1,181L432.4,179.7L432.1,179.5L430.1,177.9L429.9,177.7L428.1,176.2L427.6,175.7L426.1,174.3L425.5,173.7L424.1,172.2L423.7,171.7L422.2,169.7L422.1,169.6L420.9,167.7L419.9,165.7L419,163.7L418.1,161.9L418.1,161.7L417.1,159.7L416.2,157.8L416.1,157.7L415.1,155.7L414.2,153.8L414.1,153.7L413.2,151.7L412.2,149.7L412.2,149.6L411.3,147.8L410.4,145.8L410.2,145.2L409.6,143.8L408.8,141.8L408.2,140.1L408,139.8L406.2,133.8L406.2,133.6L405.8,131.8L405.4,129.8L405.1,127.8L404.3,119.8L404.2,118.6L404.1,117.8L402.3,99.8L402.2,98.6L402.1,97.8L402,95.8L401.8,93.8L401.7,91.8L401.6,89.9L401.4,85.9L401.5,83.9L402,81.9L402.8,79.9L403.9,77.9L404.2,77.4L405.2,75.9L406.2,74.7L406.8,73.9L408.2,72.3L408.5,71.9L410.2,70.1L410.4,69.9L412.2,68L412.3,67.9L414.2,66.1L414.3,65.9L416.2,64.1L416.3,63.9L418.3,61.9L420.1,60L420.3,59.9L422.1,57.9L422.1,57.8L423.7,55.9L424.1,55.4L425.2,53.9L426.1,52.3L427.3,49.9L427.8,47.9L428,45.9L428,41.9L428.1,39.9L428.1,35.5L428.2,34L428.2,32L428.5,26L428.5,24L428.6,22L428.8,20L429.1,14L429.3,12L429.4,10L429.8,6Z"/>
<path fill="#de0000" stroke="#de0000" d="M446.4,6L446.3,8L446.1,10L446.1,10.6L446,12L445.5,22L445.5,24L445.4,26L445.4,30L445.3,32L445.3,37.9L445.4,39.9L445.4,47.9L445,49.9L444.5,51.9L444.1,53.1L443.8,53.9L443,55.9L442.1,57.9L440.1,61.9L440.1,62L439.2,63.9L438.3,65.9L438.1,66.3L437.4,67.9L436.7,69.9L436.1,71.9L435.6,73.9L435.2,75.9L435,77.9L434.8,81.9L434.9,83.9L435.1,85.9L435.4,87.9L435.8,89.9L436.1,91.6L436.2,91.8L436.6,93.8L437.6,97.8L438.1,99.6L438.2,99.8L439.4,103.8L440.1,105.8L440.1,105.9L440.8,107.8L441.5,109.8L442.1,111.5L442.2,111.8L443.8,115.8L444.1,116.6L444.6,117.8L445.4,119.8L446.1,121.5L446.2,121.8L447.1,123.8L447.9,125.8L448.1,126.2L448.8,127.8L449.8,129.8L450.1,130.3L450.8,131.8L452,133.8L452.1,133.9L453.2,135.8L454.1,137.2L454.4,137.8L455.7,139.8L456.1,140.3L457,141.8L458.1,143.2L458.4,143.8L459.8,145.8L460.1,146.1L461.2,147.8L462,149L462.6,149.7L464,151.7L464,151.8L465.4,153.7L466,154.7L466.7,155.7L468,157.7L468.1,157.7L469.4,159.7L470,160.7L470.7,161.7L471.9,163.7L472,163.8L473.2,165.7L474,167L474.5,167.7L475.9,169.7L476,169.8L477.4,171.7L478.9,173.7L480,175.1L480.5,175.7L482,177.7L482,201.2L481,199.7L480,198.1L479.7,197.7L478.3,195.7L476.8,193.7L476,192.6L475.2,191.7L474,190.3L473.5,189.7L472,188.1L469.6,185.7L468,184.2L467.4,183.7L466,182.4L465.2,181.7L464,180.7L462.9,179.7L462,179L460.5,177.7L460.1,177.3L458.3,175.7L458.1,175.5L456.1,173.7L456.1,173.6L454.1,171.7L452.3,169.7L452.1,169.4L450.7,167.7L450.1,166.8L449.4,165.7L448.1,163.7L448.1,163.6L446.8,161.7L446.1,160.6L445.5,159.7L442.7,155.7L442.1,154.9L441.3,153.7L440.1,152L439.9,151.7L438.5,149.7L438.1,149.1L437.2,147.8L436.1,146.1L435.9,145.8L434.6,143.8L434.1,143L433.4,141.8L432.2,139.8L432.1,139.6L431.1,137.8L430.1,135.8L428.3,131.8L428.1,131.2L427.6,129.8L426.9,127.8L426.4,125.8L426.1,124.9L425.9,123.8L425.3,121.8L424.3,117.8L424.1,117.1L423.8,115.8L422.3,109.8L422.1,109.2L421.8,107.8L420.8,103.8L420.4,101.8L420.1,100.8L418.3,91.8L418.1,90.9L418,89.9L417.6,87.9L417.3,85.9L417.2,83.9L417.3,81.9L417.6,79.9L418.1,78L418.2,77.9L419,75.9L419.9,73.9L420.1,73.5L421.1,71.9L422.1,70.2L422.4,69.9L423.8,67.9L424.1,67.4L425.3,65.9L426.1,64.8L426.8,63.9L428.1,62.3L429.9,59.9L430.1,59.7L431.4,57.9L432.8,55.9L433.9,53.9L434.1,53.6L434.9,51.9L435.7,49.9L436.1,47.9L436.1,47.6L436.2,45.9L436.2,43.9L436.1,41.9L436.1,30L436.2,28L436.2,26L436.7,16L436.9,14L437,12L437.2,10L437.3,8L437.5,6Z"/>
<path fill="#cf0000" stroke="#cf0000" d="M456,6L455.9,8L455.9,10L455.8,12L455.8,14L455.7,16L455.7,18L455.6,20L455.6,24L455.5,26L455.5,35.9L455.4,37.9L455.4,43.9L455.5,45.9L455.4,47.9L455.2,49.9L454.1,55.4L453.9,55.9L452.9,59.9L452.3,61.9L452.1,62.9L451.8,63.9L451.3,65.9L450.9,67.9L450.6,69.9L450.2,73.9L450.1,75.9L450.1,79.9L450.2,81.9L450.4,83.9L451,87.9L451.4,89.9L451.8,91.8L452.1,92.7L452.4,93.8L453.6,97.8L454.1,99.1L454.3,99.8L455.9,103.8L456.1,104.2L456.8,105.8L457.7,107.8L458.1,108.7L458.6,109.8L461.6,115.8L462,116.7L462.6,117.8L463.7,119.8L464,120.4L464.8,121.8L466,124.2L466.9,125.8L468,127.8L468,127.9L469.1,129.8L470,131.4L470.3,131.8L471.5,133.8L472,134.7L472.7,135.8L473.9,137.8L474,137.9L475.2,139.8L476,141.1L476.4,141.8L477.7,143.8L478.9,145.8L480,147.5L480.2,147.8L481.4,149.7L482,150.7L482,177.7L480.5,175.7L480,175.1L478.9,173.7L477.4,171.7L476,169.8L475.9,169.7L474.5,167.7L474,167L473.2,165.7L472,163.8L471.9,163.7L470.7,161.7L470,160.7L469.4,159.7L468.1,157.7L468,157.7L466.7,155.7L466,154.7L465.4,153.7L464,151.8L464,151.7L462.6,149.7L462,149L461.2,147.8L460.1,146.1L459.8,145.8L458.4,143.8L458.1,143.2L457,141.8L456.1,140.3L455.7,139.8L454.4,137.8L454.1,137.2L453.2,135.8L452.1,133.9L452,133.8L450.8,131.8L450.1,130.3L449.8,129.8L448.8,127.8L448.1,126.2L447.9,125.8L447.1,123.8L446.2,121.8L446.1,121.5L445.4,119.8L444.6,117.8L444.1,116.6L443.8,115.8L442.2,111.8L442.1,111.5L441.5,109.8L440.8,107.8L440.1,105.9L440.1,105.8L439.4,103.8L438.2,99.8L438.1,99.6L437.6,97.8L436.6,93.8L436.2,91.8L436.1,91.6L435.8,89.9L435.4,87.9L435.1,85.9L434.9,83.9L434.8,81.9L435,77.9L435.2,75.9L435.6,73.9L436.1,71.9L436.7,69.9L437.4,67.9L438.1,66.3L438.3,65.9L439.2,63.9L440.1,62L440.1,61.9L442.1,57.9L443,55.9L443.8,53.9L444.1,53.1L444.5,51.9L445,49.9L445.4,47.9L445.4,39.9L445.3,37.9L445.3,32L445.4,30L445.4,26L445.5,24L445.5,22L446,12L446.1,10.6L446.1,10L446.3,8L446.4,6Z"/>
<path fill="#c00000" stroke="#c00000" d="M466.1,6L466,7.7L466,14L465.9,16L465.9,28L465.8,30L465.8,47.9L465.7,49.9L464.3,63.9L464.1,67.9L464.1,73.9L464.3,75.9L464.4,77.9L464.8,81.9L465.7,87.9L466,89.3L466.2,89.9L466.7,91.8L467.3,93.8L468,95.8L468,96L468.7,97.8L469.6,99.8L470,100.9L470.5,101.8L471.4,103.8L472,105L472.5,105.8L473.5,107.8L474,108.7L474.7,109.8L475.8,111.8L476,112.1L477,113.8L478,115.4L478.3,115.8L479.5,117.8L480,118.5L480.8,119.8L482,121.6L482,150.7L481.4,149.7L480.2,147.8L480,147.5L478.9,145.8L477.7,143.8L476.4,141.8L476,141.1L475.2,139.8L474,137.9L473.9,137.8L472.7,135.8L472,134.7L471.5,133.8L470.3,131.8L470,131.4L469.1,129.8L468,127.9L468,127.8L466.9,125.8L466,124.2L464.8,121.8L464,120.4L463.7,119.8L462.6,117.8L462,116.7L461.6,115.8L458.6,109.8L458.1,108.7L457.7,107.8L456.8,105.8L456.1,104.2L455.9,103.8L454.3,99.8L454.1,99.1L453.6,97.8L452.4,93.8L452.1,92.7L451.8,91.8L451.4,89.9L451,87.9L450.4,83.9L450.2,81.9L450.1,79.9L450.1,75.9L450.2,73.9L450.6,69.9L450.9,67.9L451.3,65.9L451.8,63.9L452.1,62.9L452.3,61.9L452.9,59.9L453.9,55.9L454.1,55.4L455.2,49.9L455.4,47.9L455.5,45.9L455.4,43.9L455.4,37.9L455.5,35.9L455.5,26L455.6,24L455.6,20L455.7,18L455.7,16L455.8,14L455.8,12L455.9,10L455.9,8L456,6Z"/>
<path fill="#b00000" stroke="#b00000" d="M466,7.7L466.1,6L477,6L477,59.9L477.4,67.9L478,73.9L478,74.3L478.2,75.9L478.4,77.9L479,81.9L479.2,83.9L479.5,85.9L479.9,87.9L480,88.5L480.3,89.9L480.9,91.8L481.6,93.8L482,95L482,121.6L480.8,119.8L480,118.5L479.5,117.8L478.3,115.8L478,115.4L477,113.8L476,112.1L475.8,111.8L474.7,109.8L474,108.7L473.5,107.8L472.5,105.8L472,105L471.4,103.8L470.5,101.8L470,100.9L469.6,99.8L468.7,97.8L468,96L468,95.8L467.3,93.8L466.7,91.8L466.2,89.9L466,89.3L465.7,87.9L464.8,81.9L464.4,77.9L464.3,75.9L464.1,73.9L464.1,67.9L464.3,63.9L465.7,49.9L465.8,47.9L465.8,30L465.9,28L465.9,16L466,14Z"/>
<path fill="#9f0000" stroke="#9f0000" d="M482,6L482,95L481.6,93.8L480.9,91.8L480.3,89.9L480,88.5L479.9,87.9L479.5,85.9L479.2,83.9L479,81.9L478.4,77.9L478.2,75.9L478,74.3L478,73.9L477.4,67.9L477,59.9L477,6Z"/>
</g>
<g shape-rendering="crispEdges">
<rect x="504.5" y="6.00" width="9" height="1.62" fill="#00008e"/>
<rect x="504.5" y="7.32" width="9" height="5.56" fill="#000096"/>
<rect x="504.5" y="12.58" width="9" height="5.56" fill="#0000a4"/>
<rect x="504.5" y="17.84" width="9" height="5.56" fill="#0000b2"/>
<rect x="504.5" y="23.10" width="9" height="5.56" fill="#0000bf"/>
<rect x="504.5" y="28.37" width="9" height="5.56" fill="#0000cd"/>
<rect x="504.5" y="33.63" width="9" height="5.56" fill="#0000db"/>
<rect x="504.5" y="38.89" width="9" height="5.56" fill="#0000ea"/>
<rect x="504.5" y="44.16" width="9" height="5.56" fill="#0000f9"/>
<rect x="504.5" y="49.42" width="9" height="5.56" fill="#0009ff"/>
<rect x="504.5" y="54.68" width="9" height="5.56" fill="#0019ff"/>
<rect x="504.5" y="59.94" width="9" height="5.56" fill="#0029ff"/>
<rect x="504.5" y="65.21" width="9" height="5.56" fill="#0039ff"/>
<rect x="504.5" y="70.47" width="9" height="5.56" fill="#0048ff"/>
<rect x="504.5" y="75.73" width="9" height="5.56" fill="#0058ff"/>
<rect x="504.5" y="81.00" width="9" height="5.56" fill="#0068ff"/>
<rect x="504.5" y="86.26" width="9" height="5.56" fill="#0077ff"/>
<rect x="504.5" y="91.52" width="9" height="5.56" fill="#0087ff"/>
<rect x="504.5" y="96.78" width="9" height="5.56" fill="#0097ff"/>
<rect x="504.5" y="102.05" width="9" height="5.56" fill="#00a6ff"/>
<rect x="504.5" y="107.31" width="9" height="5.56" fill="#00b6ff"/>
<rect x="504.5" y="112.57" width="9" height="5.56" fill="#00c5ff"/>
<rect x="504.5" y="117.84" width="9" height="5.56" fill="#00d5ff"/>
<rect x="504.5" y="123.10" width="9" height="5.56" fill="#00e5ff"/>
<rect x="504.5" y="128.36" width="9" height="5.56" fill="#00f4ff"/>
<rect x="504.5" y="133.62" width="9" height="5.56" fill="#00fef8"/>
<rect x="504.5" y="138.89" width="9" height="5.56" fill="#00f9e2"/>
<rect x="504.5" y="144.15" width="9" height="5.56" fill="#00f5cc"/>
<rect x="504.5" y="149.41" width="9" height="5.56" fill="#00f2b6"/>
<rect x="504.5" y="154.68" width="9" height="5.56" fill="#00f0a1"/>
<rect x="504.5" y="159.94" width="9" height="5.56" fill="#00ef8e"/>
<rect x="504.5" y="165.20" width="9" height="5.56" fill="#00ee7b"/>
<rect x="504.5" y="170.46" width="9" height="5.56" fill="#00ee6a"/>
<rect x="504.5" y="175.73" width="9" height="5.56" fill="#00ed5c"/>
<rect x="504.5" y="180.99" width="9" height="5.56" fill="#3feb40"/>
<rect x="504.5" y="186.25" width="9" height="5.56" fill="#63ec34"/>
<rect x="504.5" y="191.51" width="9" height="5.56" fill="#7fed28"/>
<rect x="504.5" y="196.78" width="9" height="5.56" fill="#9df018"/>
<rect x="504.5" y="202.04" width="9" height="5.56" fill="#bcf20c"/>
<rect x="504.5" y="207.30" width="9" height="5.56" fill="#dcf500"/>
<rect x="504.5" y="212.57" width="9" height="5.56" fill="#f3f700"/>
<rect x="504.5" y="217.83" width="9" height="5.56" fill="#fff100"/>
<rect x="504.5" y="223.09" width="9" height="5.56" fill="#ffe400"/>
<rect x="504.5" y="228.35" width="9" height="5.56" fill="#ffd600"/>
<rect x="504.5" y="233.62" width="9" height="5.56" fill="#ffc900"/>
<rect x="504.5" y="238.88" width="9" height="5.56" fill="#ffbb00"/>
<rect x="504.5" y="244.14" width="9" height="5.56" fill="#ffad00"/>
<rect x="504.5" y="249.41" width="9" height="5.56" fill="#ff9f00"/>
<rect x="504.5" y="254.67" width="9" height="5.56" fill="#ff9100"/>
<rect x="504.5" y="259.93" width="9" height="5.56" fill="#ff8300"/>
<rect x="504.5" y="265.19" width="9" height="5.56" fill="#ff7300"/>
<rect x="504.5" y="270.46" width="9" height="5.56" fill="#ff6300"/>
<rect x="504.5" y="275.72" width="9" height="5.56" fill="#ff5200"/>
<rect x="504.5" y="280.98" width="9" height="5.56" fill="#ff4200"/>
<rect x="504.5" y="286.25" width="9" height="5.56" fill="#ff3100"/>
<rect x="504.5" y="291.51" width="9" height="5.56" fill="#ff1f00"/>
<rect x="504.5" y="296.77" width="9" height="5.56" fill="#ff1000"/>
<rect x="504.5" y="302.03" width="9" height="5.56" fill="#ff0400"/>
<rect x="504.5" y="307.30" width="9" height="5.56" fill="#fa0000"/>
<rect x="504.5" y="312.56" width="9" height="5.56" fill="#f30000"/>
<rect x="504.5" y="317.82" width="9" height="5.56" fill="#e90000"/>
<rect x="504.5" y="323.09" width="9" height="5.56" fill="#de0000"/>
<rect x="504.5" y="328.35" width="9" height="5.56" fill="#cf0000"/>
<rect x="504.5" y="333.61" width="9" height="5.56" fill="#c00000"/>
<rect x="504.5" y="338.87" width="9" height="5.56" fill="#b00000"/>
<rect x="504.5" y="344.14" width="9" height="5.56" fill="#9f0000"/>
</g>
<path d="M172.4,176.4H210" stroke="#cc2a30" stroke-width="1.3" stroke-dasharray="3.2 3.9" fill="none"/>
<path d="M190.9,175.9L189.5,189.4M188.2,189.3L189.1,193.0L190.9,189.6ZM193.4,177.6L194.8,192.0M193.5,192.1L195.1,195.6L196.1,191.9ZM196.5,179.8L201.0,193.5M199.7,193.9L202.2,196.9L202.3,193.0ZM200.0,182.2L206.9,195.0M205.7,195.6L208.6,198.1L208.1,194.3ZM204.0,185.0L211.8,197.0M210.7,197.7L213.8,200.0L212.9,196.3ZM208.0,187.8L216.2,199.0M215.1,199.8L218.3,201.9L217.3,198.2ZM212.0,190.6L220.5,201.1M219.5,201.9L222.8,203.9L221.6,200.2ZM216.4,193.6L225.0,203.6M224.0,204.5L227.3,206.4L226.0,202.8ZM220.5,196.8L229.4,206.7M228.4,207.6L231.8,209.4L230.4,205.8ZM224.5,199.8L233.9,209.7M232.9,210.7L236.3,212.4L234.9,208.8ZM228.5,202.8L237.9,212.7M236.9,213.7L240.3,215.4L238.9,211.8ZM232.5,205.8L241.9,216.2M240.9,217.1L244.3,218.9L242.9,215.3ZM237.0,208.8L246.5,219.2M245.5,220.1L248.9,221.9L247.5,218.3ZM242.0,211.2L250.8,221.3M249.7,222.1L253.1,224.0L251.8,220.4ZM248.0,212.8L255.2,223.0M254.1,223.8L257.3,225.9L256.3,222.2ZM255.0,212.7L265.2,222.4M264.2,223.3L267.8,224.8L266.1,221.4ZM260.0,211.7L277.5,215.7M277.2,217.0L281.0,216.5L277.8,214.4ZM275.0,208.6L286.4,209.7M286.3,211.0L290.0,210.0L286.5,208.4ZM295.4,204.5L302.9,203.9M303.0,205.2L306.5,203.6L302.8,202.5Z" stroke="#04180e" stroke-width="0.9" fill="#04180e" opacity="0.8" stroke-linejoin="miter"/>
<path d="M191.3,175.7L216.4,193.6" stroke="#fff" stroke-width="1.4" fill="none" stroke-linecap="round"/>
<path d="M216.4,193.6L229,203C236,208.5 241,212.3 248,213L255,212.7" stroke="#ff10b0" stroke-width="1.9" fill="none" stroke-linecap="round"/>
<path d="M255,212.7L295.4,204.5" stroke="#1a1aff" stroke-width="1.9" fill="none"/>
<circle cx="191.3" cy="175.6" r="2.1" fill="#fff"/>
<circle cx="216.5" cy="193.7" r="2.4" fill="#ff10b0"/>
<circle cx="255" cy="212.7" r="2.5" fill="#1a1aff"/>
<circle cx="295.4" cy="204.5" r="2.5" fill="#1a1aff"/>
<text x="176.7" y="168.8" style="fill:#0a0c06;stroke:#0a0c06;stroke-width:0.15px;font-size:12.7px">ping 97</text>
<text x="220" y="184.8" style="fill:#0a0c06;stroke:#0a0c06;stroke-width:0.15px;font-size:12.7px">ping 121</text>
<text x="240.6" y="203.8" style="fill:#0a0c06;stroke:#0a0c06;stroke-width:0.15px;font-size:12.7px">ping 144</text>
<text x="297.5" y="196.1" style="fill:#0a0c06;stroke:#0a0c06;stroke-width:0.15px;font-size:12.7px">ping 163</text>
<text transform="translate(48.8 28.9) scale(.935 1)" text-anchor="end">36.16</text>
<text transform="translate(48.8 63.2) scale(.935 1)" text-anchor="end">36.14</text>
<text transform="translate(48.8 97.5) scale(.935 1)" text-anchor="end">36.12</text>
<text transform="translate(48.8 131.8) scale(.935 1)" text-anchor="end">36.1</text>
<text transform="translate(48.8 166.1) scale(.935 1)" text-anchor="end">36.08</text>
<text transform="translate(48.8 200.4) scale(.935 1)" text-anchor="end">36.06</text>
<text transform="translate(48.8 234.7) scale(.935 1)" text-anchor="end">36.04</text>
<text transform="translate(48.8 269.0) scale(.935 1)" text-anchor="end">36.02</text>
<text transform="translate(48.8 303.3) scale(.935 1)" text-anchor="end">36</text>
<text transform="translate(48.8 337.6) scale(.935 1)" text-anchor="end">35.98</text>
<text transform="translate(52.7 367.1) scale(.935 1)" text-anchor="middle">129.7</text>
<text transform="translate(138.5 367.1) scale(.935 1)" text-anchor="middle">129.75</text>
<text transform="translate(224.3 367.1) scale(.935 1)" text-anchor="middle">129.8</text>
<text transform="translate(310.1 367.1) scale(.935 1)" text-anchor="middle">129.85</text>
<text transform="translate(395.9 367.1) scale(.935 1)" text-anchor="middle">129.9</text>
<text transform="translate(481.7 367.1) scale(.935 1)" text-anchor="middle">129.95</text>
<text transform="translate(517.6 38.4) scale(.935 1)">200</text>
<path d="M511.3,33.6H513.5" stroke="#222" stroke-width="0.6"/>
<text transform="translate(517.6 91.1) scale(.935 1)">400</text>
<path d="M511.3,86.3H513.5" stroke="#222" stroke-width="0.6"/>
<text transform="translate(517.6 143.7) scale(.935 1)">600</text>
<path d="M511.3,138.9H513.5" stroke="#222" stroke-width="0.6"/>
<text transform="translate(517.6 196.3) scale(.935 1)">800</text>
<path d="M511.3,191.5H513.5" stroke="#222" stroke-width="0.6"/>
<text transform="translate(517.6 248.9) scale(.935 1)">1000</text>
<path d="M511.3,244.1H513.5" stroke="#222" stroke-width="0.6"/>
<text transform="translate(517.6 301.6) scale(.935 1)">1200</text>
<path d="M511.3,296.8H513.5" stroke="#222" stroke-width="0.6"/>
<text transform="translate(517.6 355.2) scale(.935 1)">1400</text>
<path d="M511.3,349.4H513.5" stroke="#222" stroke-width="0.6"/>
<text transform="translate(535.8 366.6) scale(.935 1)" text-anchor="middle">(m)</text>
<text x="267" y="383.6" text-anchor="middle" style="font-size:14.2px;stroke-width:0.15px">Longitude (° E)</text>
<text transform="translate(16.3,179.5) rotate(-90)" text-anchor="middle" style="font-size:14.2px;stroke-width:0.15px">Latitude (° N)</text>
</svg>
</body></html>
